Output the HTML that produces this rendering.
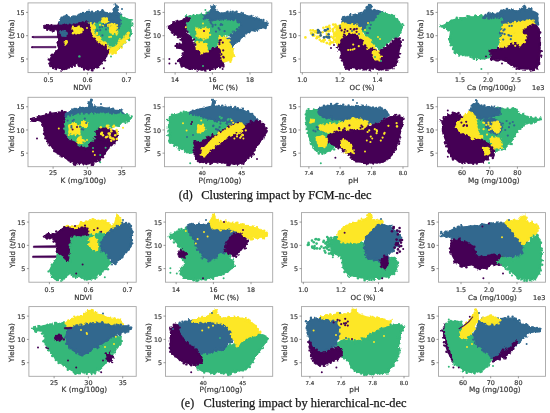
<!DOCTYPE html><html><head><meta charset="utf-8"><style>html,body{margin:0;padding:0;background:#fff;width:550px;height:413px;overflow:hidden}svg{display:block}</style><style>text{font-family:"DejaVu Sans","Liberation Sans",sans-serif;fill:#333;stroke:#444;stroke-width:0.2px}text.cap{font-family:"Liberation Serif",serif;font-size:11.9px;fill:#1a1a1a;stroke:#1a1a1a;stroke-width:0.25px}</style></head><body>
<svg width="550" height="413" viewBox="0 0 550 413">
<defs><filter id="rough" x="-60" y="-60" width="680" height="500" filterUnits="userSpaceOnUse"><feTurbulence type="fractalNoise" baseFrequency="0.035" numOctaves="2" seed="7" result="n"/><feDisplacementMap in="SourceGraphic" in2="n" scale="15" xChannelSelector="R" yChannelSelector="G"/></filter></defs>
<rect width="550" height="413" fill="#fff"/>
<clipPath id="cd00"><rect x="28" y="2.9" width="107.3" height="69.7"/></clipPath>
<g clip-path="url(#cd00)"><g transform="translate(27 0) scale(0.2)"><g>
<polygon points="168,127 168,100 182,82 200,77 218,91 236,86 255,82 275,68 311,64 348,64 375,55 402,68 430,73 439,32 448,27 452,64 466,82 470,91 480,120 470,140 430,135 402,140 366,130 311,118 275,105 230,125" fill="#31688e" stroke="#31688e" stroke-width="6" stroke-linejoin="round" filter="url(#rough)"/><g fill="#31688e" filter="url(#rough)"><circle cx="162" cy="123" r="6"/><circle cx="162" cy="116" r="6"/><circle cx="167" cy="100" r="6"/><circle cx="171" cy="95" r="6"/><circle cx="173" cy="89" r="6"/><circle cx="194" cy="83" r="6"/><circle cx="200" cy="73" r="6"/><circle cx="210" cy="86" r="6"/><circle cx="214" cy="86" r="6"/><circle cx="216" cy="95" r="6"/><circle cx="231" cy="82" r="6"/><circle cx="240" cy="82" r="6"/><circle cx="241" cy="89" r="6"/><circle cx="254" cy="79" r="6"/><circle cx="268" cy="76" r="6"/><circle cx="283" cy="74" r="6"/><circle cx="280" cy="65" r="6"/><circle cx="301" cy="60" r="6"/><circle cx="310" cy="58" r="6"/><circle cx="312" cy="62" r="6"/><circle cx="323" cy="69" r="6"/><circle cx="325" cy="59" r="6"/><circle cx="345" cy="61" r="6"/><circle cx="350" cy="67" r="6"/><circle cx="354" cy="56" r="6"/><circle cx="377" cy="51" r="6"/><circle cx="381" cy="57" r="6"/><circle cx="388" cy="68" r="6"/><circle cx="394" cy="65" r="6"/><circle cx="410" cy="73" r="6"/><circle cx="415" cy="67" r="6"/><circle cx="432" cy="69" r="6"/><circle cx="437" cy="58" r="6"/><circle cx="427" cy="67" r="6"/><circle cx="433" cy="49" r="6"/><circle cx="437" cy="41" r="6"/><circle cx="439" cy="23" r="6"/><circle cx="453" cy="35" r="6"/><circle cx="454" cy="36" r="6"/><circle cx="453" cy="50" r="6"/><circle cx="446" cy="53" r="6"/><circle cx="456" cy="66" r="6"/><circle cx="469" cy="78" r="6"/><circle cx="473" cy="91" r="6"/><circle cx="477" cy="95" r="6"/><circle cx="474" cy="108" r="6"/><circle cx="475" cy="111" r="6"/><circle cx="477" cy="131" r="6"/><circle cx="477" cy="141" r="6"/><circle cx="461" cy="135" r="6"/><circle cx="451" cy="144" r="6"/><circle cx="451" cy="130" r="6"/><circle cx="444" cy="137" r="6"/><circle cx="429" cy="134" r="6"/><circle cx="421" cy="138" r="6"/><circle cx="404" cy="138" r="6"/><circle cx="393" cy="139" r="6"/><circle cx="388" cy="133" r="6"/><circle cx="377" cy="134" r="6"/><circle cx="372" cy="128" r="6"/><circle cx="354" cy="131" r="6"/><circle cx="356" cy="134" r="6"/><circle cx="337" cy="124" r="6"/><circle cx="330" cy="124" r="6"/><circle cx="323" cy="116" r="6"/><circle cx="311" cy="124" r="6"/><circle cx="299" cy="123" r="6"/><circle cx="290" cy="108" r="6"/><circle cx="291" cy="112" r="6"/><circle cx="280" cy="109" r="6"/><circle cx="269" cy="109" r="6"/><circle cx="264" cy="109" r="6"/><circle cx="250" cy="107" r="6"/><circle cx="248" cy="114" r="6"/><circle cx="234" cy="128" r="6"/><circle cx="231" cy="126" r="6"/><circle cx="208" cy="120" r="6"/><circle cx="197" cy="131" r="6"/><circle cx="203" cy="127" r="6"/><circle cx="183" cy="120" r="6"/><circle cx="169" cy="132" r="6"/></g><polygon points="340,125 366,115 400,105 440,95 470,86 493,91 516,100 520,109 520,173 507,195 489,200 466,222 445,245 430,255 411,241 393,225 370,205 350,190 338,165" fill="#35b779" stroke="#35b779" stroke-width="6" stroke-linejoin="round" filter="url(#rough)"/><g fill="#35b779" filter="url(#rough)"><circle cx="343" cy="119" r="6"/><circle cx="350" cy="123" r="6"/><circle cx="366" cy="115" r="6"/><circle cx="363" cy="119" r="6"/><circle cx="383" cy="113" r="6"/><circle cx="393" cy="105" r="6"/><circle cx="413" cy="100" r="6"/><circle cx="424" cy="101" r="6"/><circle cx="432" cy="98" r="6"/><circle cx="437" cy="91" r="6"/><circle cx="449" cy="91" r="6"/><circle cx="461" cy="84" r="6"/><circle cx="471" cy="82" r="6"/><circle cx="480" cy="92" r="6"/><circle cx="486" cy="90" r="6"/><circle cx="498" cy="98" r="6"/><circle cx="501" cy="99" r="6"/><circle cx="526" cy="102" r="6"/><circle cx="513" cy="121" r="6"/><circle cx="526" cy="122" r="6"/><circle cx="515" cy="137" r="6"/><circle cx="526" cy="133" r="6"/><circle cx="514" cy="146" r="6"/><circle cx="518" cy="157" r="6"/><circle cx="523" cy="170" r="6"/><circle cx="509" cy="182" r="6"/><circle cx="510" cy="190" r="6"/><circle cx="511" cy="200" r="6"/><circle cx="490" cy="192" r="6"/><circle cx="491" cy="211" r="6"/><circle cx="481" cy="216" r="6"/><circle cx="475" cy="220" r="6"/><circle cx="466" cy="232" r="6"/><circle cx="451" cy="242" r="6"/><circle cx="454" cy="240" r="6"/><circle cx="443" cy="245" r="6"/><circle cx="433" cy="256" r="6"/><circle cx="418" cy="243" r="6"/><circle cx="417" cy="238" r="6"/><circle cx="414" cy="235" r="6"/><circle cx="395" cy="225" r="6"/><circle cx="392" cy="220" r="6"/><circle cx="377" cy="210" r="6"/><circle cx="368" cy="214" r="6"/><circle cx="372" cy="202" r="6"/><circle cx="351" cy="190" r="6"/><circle cx="348" cy="179" r="6"/><circle cx="341" cy="178" r="6"/><circle cx="345" cy="167" r="6"/><circle cx="333" cy="163" r="6"/><circle cx="338" cy="149" r="6"/><circle cx="338" cy="138" r="6"/><circle cx="333" cy="123" r="6"/></g><polygon points="395,80 440,75 462,90 465,130 440,140 410,135 392,110" fill="#31688e" stroke="#31688e" stroke-width="6" stroke-linejoin="round" filter="url(#rough)"/><g fill="#31688e" filter="url(#rough)"><circle cx="398" cy="83" r="6"/><circle cx="407" cy="72" r="6"/><circle cx="416" cy="77" r="6"/><circle cx="420" cy="75" r="6"/><circle cx="442" cy="81" r="6"/><circle cx="437" cy="76" r="6"/><circle cx="448" cy="84" r="6"/><circle cx="460" cy="83" r="6"/><circle cx="468" cy="101" r="6"/><circle cx="469" cy="118" r="6"/><circle cx="463" cy="118" r="6"/><circle cx="455" cy="138" r="6"/><circle cx="438" cy="134" r="6"/><circle cx="438" cy="134" r="6"/><circle cx="417" cy="135" r="6"/><circle cx="409" cy="136" r="6"/><circle cx="402" cy="125" r="6"/><circle cx="401" cy="123" r="6"/><circle cx="397" cy="124" r="6"/><circle cx="390" cy="106" r="6"/><circle cx="394" cy="91" r="6"/><circle cx="397" cy="89" r="6"/></g><circle cx="395" cy="147" r="5.5" fill="#31688e"/><circle cx="437" cy="131" r="5.5" fill="#31688e"/><circle cx="453" cy="133" r="5.5" fill="#31688e"/><circle cx="425" cy="113" r="5.5" fill="#31688e"/><circle cx="433" cy="100" r="5.5" fill="#31688e"/><circle cx="451" cy="112" r="5.5" fill="#31688e"/><circle cx="459" cy="141" r="5.5" fill="#31688e"/><circle cx="383" cy="120" r="5.5" fill="#31688e"/><circle cx="425" cy="104" r="5.5" fill="#31688e"/><circle cx="421" cy="136" r="5.5" fill="#31688e"/><circle cx="411" cy="131" r="5.5" fill="#31688e"/><circle cx="458" cy="113" r="5.5" fill="#31688e"/><circle cx="450" cy="111" r="5.5" fill="#31688e"/><circle cx="448" cy="152" r="5.5" fill="#31688e"/><circle cx="432" cy="150" r="5.5" fill="#31688e"/><circle cx="391" cy="131" r="5.5" fill="#31688e"/><polygon points="311,136 320,118 332,122 336,150 342,175 360,192 380,208 402,226 420,240 439,236 466,208 489,182 502,165 510,170 505,190 489,205 466,230 445,255 430,265 411,262 393,245 366,225 339,205 320,185 311,165" fill="#fde725" stroke="#fde725" stroke-width="4" stroke-linejoin="round" filter="url(#rough)"/><g fill="#fde725" filter="url(#rough)"><circle cx="320" cy="134" r="6"/><circle cx="319" cy="116" r="6"/><circle cx="335" cy="117" r="6"/><circle cx="336" cy="131" r="6"/><circle cx="339" cy="137" r="6"/><circle cx="338" cy="140" r="6"/><circle cx="331" cy="155" r="6"/><circle cx="337" cy="161" r="6"/><circle cx="350" cy="170" r="6"/><circle cx="361" cy="188" r="6"/><circle cx="366" cy="191" r="6"/><circle cx="373" cy="212" r="6"/><circle cx="389" cy="212" r="6"/><circle cx="392" cy="215" r="6"/><circle cx="395" cy="224" r="6"/><circle cx="397" cy="232" r="6"/><circle cx="417" cy="238" r="6"/><circle cx="421" cy="238" r="6"/><circle cx="436" cy="239" r="6"/><circle cx="445" cy="234" r="6"/><circle cx="456" cy="225" r="6"/><circle cx="460" cy="224" r="6"/><circle cx="458" cy="214" r="6"/><circle cx="462" cy="202" r="6"/><circle cx="469" cy="203" r="6"/><circle cx="488" cy="181" r="6"/><circle cx="499" cy="174" r="6"/><circle cx="505" cy="164" r="6"/><circle cx="509" cy="165" r="6"/><circle cx="504" cy="178" r="6"/><circle cx="508" cy="188" r="6"/><circle cx="498" cy="194" r="6"/><circle cx="491" cy="211" r="6"/><circle cx="481" cy="214" r="6"/><circle cx="467" cy="217" r="6"/><circle cx="474" cy="223" r="6"/><circle cx="468" cy="238" r="6"/><circle cx="449" cy="244" r="6"/><circle cx="443" cy="251" r="6"/><circle cx="444" cy="260" r="6"/><circle cx="438" cy="256" r="6"/><circle cx="426" cy="269" r="6"/><circle cx="412" cy="267" r="6"/><circle cx="411" cy="261" r="6"/><circle cx="390" cy="244" r="6"/><circle cx="392" cy="240" r="6"/><circle cx="381" cy="237" r="6"/><circle cx="363" cy="219" r="6"/><circle cx="359" cy="224" r="6"/><circle cx="355" cy="212" r="6"/><circle cx="343" cy="206" r="6"/><circle cx="335" cy="195" r="6"/><circle cx="328" cy="201" r="6"/><circle cx="318" cy="186" r="6"/><circle cx="314" cy="186" r="6"/><circle cx="314" cy="165" r="6"/><circle cx="318" cy="166" r="6"/><circle cx="317" cy="144" r="6"/><circle cx="314" cy="149" r="6"/></g><polygon points="375,91 402,92 402,109 378,112" fill="#fde725" stroke="#fde725" stroke-width="6" stroke-linejoin="round" filter="url(#rough)"/><g fill="#fde725" filter="url(#rough)"><circle cx="385" cy="92" r="6"/><circle cx="393" cy="99" r="6"/><circle cx="398" cy="92" r="6"/><circle cx="400" cy="106" r="6"/><circle cx="395" cy="111" r="6"/><circle cx="393" cy="108" r="6"/><circle cx="374" cy="108" r="6"/><circle cx="376" cy="105" r="6"/></g><polygon points="411,130 440,127 448,160 420,165" fill="#fde725" stroke="#fde725" stroke-width="6" stroke-linejoin="round" filter="url(#rough)"/><g fill="#fde725" filter="url(#rough)"><circle cx="411" cy="123" r="6"/><circle cx="427" cy="121" r="6"/><circle cx="433" cy="131" r="6"/><circle cx="436" cy="124" r="6"/><circle cx="442" cy="144" r="6"/><circle cx="451" cy="164" r="6"/><circle cx="435" cy="165" r="6"/><circle cx="436" cy="158" r="6"/><circle cx="429" cy="169" r="6"/><circle cx="417" cy="160" r="6"/><circle cx="415" cy="154" r="6"/><circle cx="417" cy="141" r="6"/><circle cx="412" cy="131" r="6"/></g><circle cx="450" cy="126" r="5.5" fill="#fde725"/><circle cx="365" cy="124" r="5.5" fill="#fde725"/><circle cx="417" cy="141" r="5.5" fill="#fde725"/><circle cx="443" cy="132" r="5.5" fill="#fde725"/><circle cx="451" cy="139" r="5.5" fill="#fde725"/><circle cx="411" cy="185" r="5.5" fill="#fde725"/><circle cx="420" cy="184" r="5.5" fill="#fde725"/><circle cx="423" cy="119" r="5.5" fill="#fde725"/><circle cx="442" cy="159" r="5.5" fill="#fde725"/><circle cx="379" cy="129" r="5.5" fill="#fde725"/><circle cx="438" cy="159" r="5.5" fill="#fde725"/><circle cx="448" cy="173" r="5.5" fill="#fde725"/><circle cx="451" cy="157" r="5.5" fill="#fde725"/><circle cx="422" cy="161" r="5.5" fill="#fde725"/><circle cx="377" cy="177" r="5.5" fill="#31688e"/><circle cx="376" cy="134" r="5.5" fill="#31688e"/><circle cx="366" cy="151" r="5.5" fill="#31688e"/><circle cx="364" cy="137" r="5.5" fill="#31688e"/><circle cx="352" cy="152" r="5.5" fill="#31688e"/><polygon points="86,126 300,124 300,142 86,142" fill="#440154" stroke="#440154" stroke-width="4" stroke-linejoin="round"/><polygon points="86,130 168,128 230,128 275,112 311,120 311,140 322,182 345,205 366,222 393,240 411,255 402,273 384,300 366,318 348,336 311,345 275,341 255,314 236,323 209,336 182,350 155,345 127,336 114,318 118,290 136,270 159,245 159,200 150,150 86,141" fill="#440154" stroke="#440154" stroke-width="6" stroke-linejoin="round" filter="url(#rough)"/><g fill="#440154" filter="url(#rough)"><circle cx="98" cy="131" r="6"/><circle cx="107" cy="134" r="6"/><circle cx="113" cy="131" r="6"/><circle cx="118" cy="126" r="6"/><circle cx="124" cy="128" r="6"/><circle cx="139" cy="134" r="6"/><circle cx="148" cy="131" r="6"/><circle cx="164" cy="130" r="6"/><circle cx="158" cy="122" r="6"/><circle cx="168" cy="135" r="6"/><circle cx="183" cy="123" r="6"/><circle cx="196" cy="125" r="6"/><circle cx="196" cy="133" r="6"/><circle cx="214" cy="124" r="6"/><circle cx="225" cy="130" r="6"/><circle cx="242" cy="125" r="6"/><circle cx="234" cy="122" r="6"/><circle cx="248" cy="123" r="6"/><circle cx="261" cy="116" r="6"/><circle cx="273" cy="112" r="6"/><circle cx="279" cy="115" r="6"/><circle cx="280" cy="116" r="6"/><circle cx="293" cy="110" r="6"/><circle cx="303" cy="117" r="6"/><circle cx="307" cy="126" r="6"/><circle cx="313" cy="138" r="6"/><circle cx="307" cy="149" r="6"/><circle cx="314" cy="150" r="6"/><circle cx="318" cy="167" r="6"/><circle cx="313" cy="176" r="6"/><circle cx="321" cy="187" r="6"/><circle cx="334" cy="195" r="6"/><circle cx="336" cy="200" r="6"/><circle cx="346" cy="212" r="6"/><circle cx="347" cy="211" r="6"/><circle cx="366" cy="215" r="6"/><circle cx="372" cy="226" r="6"/><circle cx="379" cy="233" r="6"/><circle cx="393" cy="231" r="6"/><circle cx="393" cy="237" r="6"/><circle cx="411" cy="248" r="6"/><circle cx="405" cy="253" r="6"/><circle cx="409" cy="259" r="6"/><circle cx="395" cy="281" r="6"/><circle cx="389" cy="279" r="6"/><circle cx="390" cy="302" r="6"/><circle cx="373" cy="304" r="6"/><circle cx="367" cy="307" r="6"/><circle cx="356" cy="321" r="6"/><circle cx="346" cy="333" r="6"/><circle cx="351" cy="337" r="6"/><circle cx="327" cy="347" r="6"/><circle cx="325" cy="344" r="6"/><circle cx="307" cy="348" r="6"/><circle cx="301" cy="338" r="6"/><circle cx="302" cy="345" r="6"/><circle cx="285" cy="347" r="6"/><circle cx="286" cy="340" r="6"/><circle cx="274" cy="329" r="6"/><circle cx="261" cy="330" r="6"/><circle cx="257" cy="324" r="6"/><circle cx="247" cy="314" r="6"/><circle cx="238" cy="324" r="6"/><circle cx="231" cy="323" r="6"/><circle cx="225" cy="334" r="6"/><circle cx="210" cy="338" r="6"/><circle cx="198" cy="343" r="6"/><circle cx="188" cy="343" r="6"/><circle cx="195" cy="343" r="6"/><circle cx="176" cy="353" r="6"/><circle cx="174" cy="342" r="6"/><circle cx="160" cy="340" r="6"/><circle cx="155" cy="339" r="6"/><circle cx="146" cy="345" r="6"/><circle cx="127" cy="331" r="6"/><circle cx="130" cy="328" r="6"/><circle cx="117" cy="325" r="6"/><circle cx="112" cy="318" r="6"/><circle cx="109" cy="297" r="6"/><circle cx="114" cy="300" r="6"/><circle cx="122" cy="277" r="6"/><circle cx="126" cy="273" r="6"/><circle cx="142" cy="265" r="6"/><circle cx="146" cy="256" r="6"/><circle cx="156" cy="254" r="6"/><circle cx="158" cy="232" r="6"/><circle cx="164" cy="233" r="6"/><circle cx="155" cy="217" r="6"/><circle cx="162" cy="216" r="6"/><circle cx="161" cy="198" r="6"/><circle cx="164" cy="189" r="6"/><circle cx="154" cy="183" r="6"/><circle cx="159" cy="180" r="6"/><circle cx="156" cy="170" r="6"/><circle cx="153" cy="155" r="6"/><circle cx="153" cy="145" r="6"/><circle cx="132" cy="152" r="6"/><circle cx="133" cy="154" r="6"/><circle cx="117" cy="150" r="6"/><circle cx="101" cy="149" r="6"/><circle cx="109" cy="143" r="6"/><circle cx="89" cy="137" r="6"/><circle cx="88" cy="132" r="6"/></g><polygon points="30,182 164,181 164,189 30,189" fill="#440154" stroke="#440154" stroke-width="3" stroke-linejoin="round"/><polygon points="26,233 145,232 145,239 26,239" fill="#440154" stroke="#440154" stroke-width="3" stroke-linejoin="round"/><polygon points="168,159 195,160 195,182 175,180" fill="#31688e" stroke="#31688e" stroke-width="6" stroke-linejoin="round" filter="url(#rough)"/><g fill="#31688e" filter="url(#rough)"><circle cx="179" cy="157" r="6"/><circle cx="189" cy="153" r="6"/><circle cx="197" cy="165" r="6"/><circle cx="190" cy="164" r="6"/><circle cx="199" cy="169" r="6"/><circle cx="188" cy="175" r="6"/><circle cx="178" cy="177" r="6"/><circle cx="179" cy="171" r="6"/><circle cx="167" cy="163" r="6"/></g><polygon points="227,140 262,136 275,150 270,164 232,164" fill="#fde725" stroke="#fde725" stroke-width="6" stroke-linejoin="round" filter="url(#rough)"/><g fill="#fde725" filter="url(#rough)"><circle cx="229" cy="134" r="6"/><circle cx="251" cy="143" r="6"/><circle cx="261" cy="141" r="6"/><circle cx="258" cy="133" r="6"/><circle cx="275" cy="142" r="6"/><circle cx="272" cy="160" r="6"/><circle cx="260" cy="165" r="6"/><circle cx="246" cy="167" r="6"/><circle cx="251" cy="163" r="6"/><circle cx="233" cy="161" r="6"/><circle cx="230" cy="166" r="6"/><circle cx="228" cy="145" r="6"/></g><polygon points="188,210 196,210 196,220 188,220" fill="#fde725" stroke="#fde725" stroke-width="6" stroke-linejoin="round" filter="url(#rough)"/><g fill="#fde725" filter="url(#rough)"><circle cx="198" cy="206" r="6"/><circle cx="195" cy="206" r="6"/><circle cx="196" cy="216" r="6"/><circle cx="188" cy="212" r="6"/></g><circle cx="262" cy="282" r="6" fill="#35b779"/><circle cx="375" cy="318" r="5" fill="#440154"/><circle cx="384" cy="341" r="5" fill="#440154"/><circle cx="300" cy="345" r="5" fill="#440154"/><circle cx="240" cy="330" r="5" fill="#440154"/><circle cx="25" cy="236" r="5" fill="#440154"/><circle cx="28" cy="185" r="5" fill="#440154"/><circle cx="420" cy="282" r="5" fill="#35b779"/><circle cx="448" cy="27" r="5" fill="#31688e"/><circle cx="475" cy="45" r="5" fill="#31688e"/><circle cx="280" cy="150" r="5" fill="#fde725"/><circle cx="300" cy="140" r="5" fill="#fde725"/>
</g></g></g>
<rect x="28" y="2.9" width="107.3" height="69.7" fill="none" stroke="#a6a6a6" stroke-width="0.9"/>
<line x1="26" y1="59" x2="28" y2="59" stroke="#707070" stroke-width="0.7"/>
<text x="24.4" y="59.2" font-size="6.3" text-anchor="end" dominant-baseline="central">5</text>
<line x1="26" y1="35.7" x2="28" y2="35.7" stroke="#707070" stroke-width="0.7"/>
<text x="24.4" y="35.9" font-size="6.3" text-anchor="end" dominant-baseline="central">10</text>
<line x1="26" y1="12.4" x2="28" y2="12.4" stroke="#707070" stroke-width="0.7"/>
<text x="24.4" y="12.6" font-size="6.3" text-anchor="end" dominant-baseline="central">15</text>
<text x="11.1" y="38.85" font-size="7.1" text-anchor="middle" dominant-baseline="central" transform="rotate(-90 11.1 38.85)">Yield (t/ha)</text>
<line x1="48.4" y1="72.6" x2="48.4" y2="74.6" stroke="#707070" stroke-width="0.7"/>
<text x="48.4" y="79.8" font-size="6.3" text-anchor="middle" dominant-baseline="central">0.5</text>
<line x1="87.4" y1="72.6" x2="87.4" y2="74.6" stroke="#707070" stroke-width="0.7"/>
<text x="87.4" y="79.8" font-size="6.3" text-anchor="middle" dominant-baseline="central">0.6</text>
<line x1="126.4" y1="72.6" x2="126.4" y2="74.6" stroke="#707070" stroke-width="0.7"/>
<text x="126.4" y="79.8" font-size="6.3" text-anchor="middle" dominant-baseline="central">0.7</text>
<text x="82" y="87.9" font-size="7.1" text-anchor="middle" dominant-baseline="central">NDVI</text>
<clipPath id="cd01"><rect x="164.5" y="2.9" width="107.3" height="69.7"/></clipPath>
<g clip-path="url(#cd01)"><g transform="translate(163 0) scale(0.2)"><g>
<polygon points="118,86 136,82 164,77 191,73 218,68 245,60 275,80 320,89 366,98 393,116 384,145 348,164 311,173 284,182 275,227 236,245 200,255 173,227 159,200 140,175 125,150 112,110" fill="#35b779" stroke="#35b779" stroke-width="6" stroke-linejoin="round" filter="url(#rough)"/><g fill="#35b779" filter="url(#rough)"><circle cx="115" cy="81" r="6"/><circle cx="135" cy="82" r="6"/><circle cx="136" cy="81" r="6"/><circle cx="152" cy="78" r="6"/><circle cx="155" cy="74" r="6"/><circle cx="169" cy="76" r="6"/><circle cx="178" cy="80" r="6"/><circle cx="189" cy="74" r="6"/><circle cx="196" cy="67" r="6"/><circle cx="205" cy="75" r="6"/><circle cx="212" cy="71" r="6"/><circle cx="218" cy="64" r="6"/><circle cx="229" cy="70" r="6"/><circle cx="234" cy="57" r="6"/><circle cx="241" cy="56" r="6"/><circle cx="254" cy="63" r="6"/><circle cx="267" cy="64" r="6"/><circle cx="265" cy="73" r="6"/><circle cx="273" cy="80" r="6"/><circle cx="285" cy="80" r="6"/><circle cx="295" cy="88" r="6"/><circle cx="310" cy="89" r="6"/><circle cx="311" cy="83" r="6"/><circle cx="315" cy="96" r="6"/><circle cx="333" cy="92" r="6"/><circle cx="342" cy="91" r="6"/><circle cx="350" cy="90" r="6"/><circle cx="366" cy="101" r="6"/><circle cx="366" cy="96" r="6"/><circle cx="380" cy="116" r="6"/><circle cx="384" cy="118" r="6"/><circle cx="387" cy="120" r="6"/><circle cx="390" cy="127" r="6"/><circle cx="391" cy="139" r="6"/><circle cx="383" cy="140" r="6"/><circle cx="370" cy="151" r="6"/><circle cx="365" cy="162" r="6"/><circle cx="352" cy="163" r="6"/><circle cx="346" cy="162" r="6"/><circle cx="328" cy="163" r="6"/><circle cx="328" cy="173" r="6"/><circle cx="323" cy="176" r="6"/><circle cx="304" cy="176" r="6"/><circle cx="296" cy="180" r="6"/><circle cx="283" cy="177" r="6"/><circle cx="285" cy="195" r="6"/><circle cx="281" cy="199" r="6"/><circle cx="280" cy="207" r="6"/><circle cx="270" cy="212" r="6"/><circle cx="273" cy="215" r="6"/><circle cx="267" cy="237" r="6"/><circle cx="253" cy="242" r="6"/><circle cx="251" cy="234" r="6"/><circle cx="237" cy="249" r="6"/><circle cx="234" cy="250" r="6"/><circle cx="225" cy="253" r="6"/><circle cx="214" cy="253" r="6"/><circle cx="211" cy="247" r="6"/><circle cx="199" cy="258" r="6"/><circle cx="188" cy="245" r="6"/><circle cx="179" cy="245" r="6"/><circle cx="171" cy="223" r="6"/><circle cx="169" cy="223" r="6"/><circle cx="166" cy="216" r="6"/><circle cx="156" cy="199" r="6"/><circle cx="154" cy="199" r="6"/><circle cx="150" cy="185" r="6"/><circle cx="138" cy="175" r="6"/><circle cx="141" cy="165" r="6"/><circle cx="129" cy="153" r="6"/><circle cx="120" cy="152" r="6"/><circle cx="123" cy="139" r="6"/><circle cx="123" cy="140" r="6"/><circle cx="118" cy="125" r="6"/><circle cx="115" cy="110" r="6"/><circle cx="113" cy="109" r="6"/><circle cx="113" cy="96" r="6"/></g><polygon points="205,78 235,66 246,34 255,30 262,58 280,66 320,64 366,66 411,75 457,89 493,103 525,121 510,135 493,141 457,150 420,164 393,182 366,209 348,227 339,255 330,255 322,215 340,180 384,145 393,116 366,100 320,95 275,95 240,100 209,92" fill="#31688e" stroke="#31688e" stroke-width="6" stroke-linejoin="round" filter="url(#rough)"/><g fill="#31688e" filter="url(#rough)"><circle cx="203" cy="73" r="6"/><circle cx="212" cy="79" r="6"/><circle cx="226" cy="63" r="6"/><circle cx="235" cy="67" r="6"/><circle cx="246" cy="57" r="6"/><circle cx="242" cy="35" r="6"/><circle cx="257" cy="32" r="6"/><circle cx="257" cy="32" r="6"/><circle cx="261" cy="48" r="6"/><circle cx="268" cy="62" r="6"/><circle cx="270" cy="58" r="6"/><circle cx="274" cy="60" r="6"/><circle cx="295" cy="69" r="6"/><circle cx="298" cy="70" r="6"/><circle cx="306" cy="70" r="6"/><circle cx="318" cy="62" r="6"/><circle cx="323" cy="59" r="6"/><circle cx="338" cy="60" r="6"/><circle cx="349" cy="59" r="6"/><circle cx="360" cy="62" r="6"/><circle cx="368" cy="59" r="6"/><circle cx="375" cy="71" r="6"/><circle cx="384" cy="72" r="6"/><circle cx="393" cy="65" r="6"/><circle cx="400" cy="75" r="6"/><circle cx="400" cy="71" r="6"/><circle cx="410" cy="77" r="6"/><circle cx="434" cy="83" r="6"/><circle cx="435" cy="89" r="6"/><circle cx="442" cy="80" r="6"/><circle cx="458" cy="93" r="6"/><circle cx="458" cy="96" r="6"/><circle cx="473" cy="94" r="6"/><circle cx="479" cy="95" r="6"/><circle cx="490" cy="100" r="6"/><circle cx="502" cy="100" r="6"/><circle cx="501" cy="116" r="6"/><circle cx="517" cy="113" r="6"/><circle cx="522" cy="122" r="6"/><circle cx="521" cy="133" r="6"/><circle cx="513" cy="140" r="6"/><circle cx="510" cy="137" r="6"/><circle cx="505" cy="136" r="6"/><circle cx="485" cy="138" r="6"/><circle cx="473" cy="151" r="6"/><circle cx="475" cy="153" r="6"/><circle cx="458" cy="147" r="6"/><circle cx="457" cy="152" r="6"/><circle cx="439" cy="158" r="6"/><circle cx="433" cy="161" r="6"/><circle cx="421" cy="156" r="6"/><circle cx="419" cy="163" r="6"/><circle cx="406" cy="180" r="6"/><circle cx="398" cy="177" r="6"/><circle cx="389" cy="189" r="6"/><circle cx="383" cy="198" r="6"/><circle cx="380" cy="205" r="6"/><circle cx="368" cy="209" r="6"/><circle cx="356" cy="214" r="6"/><circle cx="342" cy="230" r="6"/><circle cx="341" cy="239" r="6"/><circle cx="344" cy="245" r="6"/><circle cx="346" cy="249" r="6"/><circle cx="339" cy="258" r="6"/><circle cx="326" cy="250" r="6"/><circle cx="326" cy="247" r="6"/><circle cx="330" cy="233" r="6"/><circle cx="320" cy="212" r="6"/><circle cx="331" cy="217" r="6"/><circle cx="327" cy="194" r="6"/><circle cx="330" cy="197" r="6"/><circle cx="337" cy="178" r="6"/><circle cx="340" cy="172" r="6"/><circle cx="358" cy="174" r="6"/><circle cx="355" cy="158" r="6"/><circle cx="369" cy="167" r="6"/><circle cx="370" cy="146" r="6"/><circle cx="377" cy="150" r="6"/><circle cx="381" cy="137" r="6"/><circle cx="395" cy="124" r="6"/><circle cx="388" cy="111" r="6"/><circle cx="380" cy="107" r="6"/><circle cx="377" cy="111" r="6"/><circle cx="373" cy="109" r="6"/><circle cx="354" cy="95" r="6"/><circle cx="352" cy="100" r="6"/><circle cx="348" cy="91" r="6"/><circle cx="333" cy="99" r="6"/><circle cx="321" cy="96" r="6"/><circle cx="313" cy="90" r="6"/><circle cx="301" cy="94" r="6"/><circle cx="298" cy="100" r="6"/><circle cx="296" cy="92" r="6"/><circle cx="278" cy="99" r="6"/><circle cx="264" cy="96" r="6"/><circle cx="256" cy="99" r="6"/><circle cx="247" cy="101" r="6"/><circle cx="238" cy="100" r="6"/><circle cx="231" cy="93" r="6"/><circle cx="207" cy="95" r="6"/><circle cx="204" cy="93" r="6"/></g><circle cx="265" cy="158" r="5.5" fill="#31688e"/><circle cx="242" cy="118" r="5.5" fill="#31688e"/><circle cx="290" cy="120" r="5.5" fill="#31688e"/><circle cx="278" cy="141" r="5.5" fill="#31688e"/><circle cx="238" cy="111" r="5.5" fill="#31688e"/><circle cx="248" cy="133" r="5.5" fill="#31688e"/><circle cx="249" cy="125" r="5.5" fill="#31688e"/><circle cx="283" cy="148" r="5.5" fill="#31688e"/><circle cx="262" cy="124" r="5.5" fill="#31688e"/><circle cx="308" cy="156" r="5.5" fill="#31688e"/><circle cx="296" cy="124" r="5.5" fill="#31688e"/><circle cx="288" cy="125" r="5.5" fill="#31688e"/><polygon points="27,127 45,118 73,109 100,100 118,86 136,91 112,110 109,127 118,164 136,182 150,209 164,236 182,255 209,264 236,255 262,240 275,236 289,250 302,275 302,327 275,336 227,345 182,350 136,345 91,327 82,300 91,291 100,273 109,255 91,241 68,241 68,227 91,222 100,218 91,191 64,173 36,150 27,136" fill="#440154" stroke="#440154" stroke-width="6" stroke-linejoin="round" filter="url(#rough)"/><g fill="#440154" filter="url(#rough)"><circle cx="39" cy="126" r="6"/><circle cx="47" cy="122" r="6"/><circle cx="44" cy="121" r="6"/><circle cx="51" cy="111" r="6"/><circle cx="64" cy="109" r="6"/><circle cx="72" cy="105" r="6"/><circle cx="84" cy="110" r="6"/><circle cx="100" cy="105" r="6"/><circle cx="104" cy="97" r="6"/><circle cx="119" cy="90" r="6"/><circle cx="118" cy="90" r="6"/><circle cx="131" cy="92" r="6"/><circle cx="126" cy="99" r="6"/><circle cx="124" cy="100" r="6"/><circle cx="113" cy="104" r="6"/><circle cx="110" cy="112" r="6"/><circle cx="105" cy="126" r="6"/><circle cx="106" cy="144" r="6"/><circle cx="114" cy="143" r="6"/><circle cx="122" cy="154" r="6"/><circle cx="123" cy="168" r="6"/><circle cx="132" cy="182" r="6"/><circle cx="132" cy="185" r="6"/><circle cx="141" cy="204" r="6"/><circle cx="155" cy="202" r="6"/><circle cx="147" cy="214" r="6"/><circle cx="159" cy="223" r="6"/><circle cx="161" cy="222" r="6"/><circle cx="173" cy="243" r="6"/><circle cx="175" cy="258" r="6"/><circle cx="185" cy="259" r="6"/><circle cx="194" cy="257" r="6"/><circle cx="201" cy="259" r="6"/><circle cx="208" cy="268" r="6"/><circle cx="229" cy="260" r="6"/><circle cx="235" cy="255" r="6"/><circle cx="244" cy="254" r="6"/><circle cx="248" cy="244" r="6"/><circle cx="248" cy="247" r="6"/><circle cx="274" cy="235" r="6"/><circle cx="277" cy="239" r="6"/><circle cx="280" cy="243" r="6"/><circle cx="292" cy="263" r="6"/><circle cx="290" cy="268" r="6"/><circle cx="307" cy="274" r="6"/><circle cx="299" cy="272" r="6"/><circle cx="308" cy="281" r="6"/><circle cx="304" cy="306" r="6"/><circle cx="297" cy="314" r="6"/><circle cx="302" cy="325" r="6"/><circle cx="302" cy="333" r="6"/><circle cx="289" cy="328" r="6"/><circle cx="285" cy="336" r="6"/><circle cx="267" cy="336" r="6"/><circle cx="263" cy="344" r="6"/><circle cx="248" cy="338" r="6"/><circle cx="235" cy="345" r="6"/><circle cx="230" cy="340" r="6"/><circle cx="223" cy="340" r="6"/><circle cx="211" cy="353" r="6"/><circle cx="210" cy="349" r="6"/><circle cx="199" cy="348" r="6"/><circle cx="193" cy="348" r="6"/><circle cx="177" cy="353" r="6"/><circle cx="164" cy="348" r="6"/><circle cx="160" cy="349" r="6"/><circle cx="150" cy="342" r="6"/><circle cx="142" cy="340" r="6"/><circle cx="130" cy="343" r="6"/><circle cx="126" cy="339" r="6"/><circle cx="117" cy="337" r="6"/><circle cx="100" cy="328" r="6"/><circle cx="94" cy="333" r="6"/><circle cx="92" cy="325" r="6"/><circle cx="88" cy="315" r="6"/><circle cx="80" cy="305" r="6"/><circle cx="90" cy="298" r="6"/><circle cx="98" cy="278" r="6"/><circle cx="99" cy="280" r="6"/><circle cx="99" cy="267" r="6"/><circle cx="109" cy="264" r="6"/><circle cx="108" cy="253" r="6"/><circle cx="99" cy="246" r="6"/><circle cx="86" cy="240" r="6"/><circle cx="79" cy="237" r="6"/><circle cx="63" cy="230" r="6"/><circle cx="71" cy="221" r="6"/><circle cx="83" cy="219" r="6"/><circle cx="89" cy="228" r="6"/><circle cx="103" cy="210" r="6"/><circle cx="99" cy="203" r="6"/><circle cx="88" cy="198" r="6"/><circle cx="95" cy="193" r="6"/><circle cx="75" cy="186" r="6"/><circle cx="61" cy="168" r="6"/><circle cx="57" cy="174" r="6"/><circle cx="47" cy="164" r="6"/><circle cx="43" cy="158" r="6"/><circle cx="34" cy="154" r="6"/><circle cx="30" cy="144" r="6"/><circle cx="33" cy="136" r="6"/></g><polygon points="284,191 311,186 330,209 348,245 352,273 339,300 311,309 293,291 293,255 289,218" fill="#fde725" stroke="#fde725" stroke-width="6" stroke-linejoin="round" filter="url(#rough)"/><g fill="#fde725" filter="url(#rough)"><circle cx="285" cy="184" r="6"/><circle cx="303" cy="190" r="6"/><circle cx="306" cy="183" r="6"/><circle cx="317" cy="186" r="6"/><circle cx="326" cy="203" r="6"/><circle cx="331" cy="201" r="6"/><circle cx="335" cy="208" r="6"/><circle cx="332" cy="223" r="6"/><circle cx="340" cy="232" r="6"/><circle cx="350" cy="241" r="6"/><circle cx="345" cy="254" r="6"/><circle cx="344" cy="254" r="6"/><circle cx="345" cy="262" r="6"/><circle cx="352" cy="285" r="6"/><circle cx="339" cy="286" r="6"/><circle cx="341" cy="299" r="6"/><circle cx="337" cy="309" r="6"/><circle cx="326" cy="298" r="6"/><circle cx="311" cy="302" r="6"/><circle cx="304" cy="306" r="6"/><circle cx="300" cy="300" r="6"/><circle cx="291" cy="292" r="6"/><circle cx="293" cy="283" r="6"/><circle cx="288" cy="273" r="6"/><circle cx="296" cy="257" r="6"/><circle cx="294" cy="248" r="6"/><circle cx="286" cy="238" r="6"/><circle cx="285" cy="227" r="6"/><circle cx="286" cy="224" r="6"/><circle cx="284" cy="219" r="6"/><circle cx="285" cy="206" r="6"/><circle cx="282" cy="194" r="6"/></g><circle cx="282" cy="221" r="5.5" fill="#440154"/><circle cx="288" cy="290" r="5.5" fill="#440154"/><circle cx="292" cy="272" r="5.5" fill="#440154"/><circle cx="301" cy="252" r="5.5" fill="#440154"/><circle cx="304" cy="288" r="5.5" fill="#440154"/><circle cx="289" cy="200" r="5.5" fill="#440154"/><circle cx="299" cy="213" r="5.5" fill="#440154"/><circle cx="301" cy="284" r="5.5" fill="#440154"/><circle cx="282" cy="212" r="5.5" fill="#440154"/><circle cx="284" cy="202" r="5.5" fill="#440154"/><polygon points="168,148 200,142 227,150 227,182 200,190 172,180" fill="#fde725" stroke="#fde725" stroke-width="6" stroke-linejoin="round" filter="url(#rough)"/><g fill="#fde725" filter="url(#rough)"><circle cx="166" cy="154" r="6"/><circle cx="187" cy="149" r="6"/><circle cx="193" cy="145" r="6"/><circle cx="206" cy="145" r="6"/><circle cx="215" cy="139" r="6"/><circle cx="222" cy="147" r="6"/><circle cx="229" cy="150" r="6"/><circle cx="221" cy="165" r="6"/><circle cx="228" cy="175" r="6"/><circle cx="224" cy="188" r="6"/><circle cx="211" cy="182" r="6"/><circle cx="195" cy="185" r="6"/><circle cx="196" cy="187" r="6"/><circle cx="187" cy="183" r="6"/><circle cx="178" cy="187" r="6"/><circle cx="168" cy="179" r="6"/><circle cx="171" cy="158" r="6"/><circle cx="168" cy="143" r="6"/></g><polygon points="170,212 200,212 220,235 220,258 195,262 172,240" fill="#fde725" stroke="#fde725" stroke-width="6" stroke-linejoin="round" filter="url(#rough)"/><g fill="#fde725" filter="url(#rough)"><circle cx="172" cy="210" r="6"/><circle cx="188" cy="214" r="6"/><circle cx="193" cy="212" r="6"/><circle cx="206" cy="219" r="6"/><circle cx="212" cy="220" r="6"/><circle cx="215" cy="230" r="6"/><circle cx="218" cy="242" r="6"/><circle cx="224" cy="257" r="6"/><circle cx="208" cy="256" r="6"/><circle cx="198" cy="265" r="6"/><circle cx="192" cy="265" r="6"/><circle cx="190" cy="252" r="6"/><circle cx="174" cy="245" r="6"/><circle cx="173" cy="232" r="6"/><circle cx="178" cy="228" r="6"/><circle cx="169" cy="212" r="6"/></g><circle cx="208" cy="174" r="5.5" fill="#fde725"/><circle cx="226" cy="149" r="5.5" fill="#fde725"/><circle cx="214" cy="192" r="5.5" fill="#fde725"/><circle cx="214" cy="173" r="5.5" fill="#fde725"/><circle cx="203" cy="198" r="5.5" fill="#fde725"/><circle cx="205" cy="161" r="5.5" fill="#fde725"/><circle cx="236" cy="174" r="5.5" fill="#fde725"/><circle cx="188" cy="152" r="5.5" fill="#fde725"/><circle cx="32" cy="295" r="5" fill="#440154"/><circle cx="32" cy="318" r="5" fill="#440154"/><circle cx="64" cy="318" r="5" fill="#440154"/><circle cx="298" cy="345" r="5" fill="#440154"/><circle cx="205" cy="155" r="5" fill="#440154"/><circle cx="114" cy="136" r="5" fill="#fde725"/><circle cx="200" cy="118" r="5" fill="#fde725"/><circle cx="200" cy="330" r="5" fill="#35b779"/><circle cx="128" cy="82" r="5" fill="#35b779"/><circle cx="212" cy="50" r="5" fill="#35b779"/><circle cx="250" cy="32" r="5" fill="#31688e"/><circle cx="240" cy="50" r="5" fill="#31688e"/>
</g></g></g>
<rect x="164.5" y="2.9" width="107.3" height="69.7" fill="none" stroke="#a6a6a6" stroke-width="0.9"/>
<line x1="162.5" y1="59" x2="164.5" y2="59" stroke="#707070" stroke-width="0.7"/>
<text x="160.9" y="59.2" font-size="6.3" text-anchor="end" dominant-baseline="central">5</text>
<line x1="162.5" y1="35.7" x2="164.5" y2="35.7" stroke="#707070" stroke-width="0.7"/>
<text x="160.9" y="35.9" font-size="6.3" text-anchor="end" dominant-baseline="central">10</text>
<line x1="162.5" y1="12.4" x2="164.5" y2="12.4" stroke="#707070" stroke-width="0.7"/>
<text x="160.9" y="12.6" font-size="6.3" text-anchor="end" dominant-baseline="central">15</text>
<text x="147.6" y="38.85" font-size="7.1" text-anchor="middle" dominant-baseline="central" transform="rotate(-90 147.6 38.85)">Yield (t/ha)</text>
<line x1="175.1" y1="72.6" x2="175.1" y2="74.6" stroke="#707070" stroke-width="0.7"/>
<text x="175.1" y="79.8" font-size="6.3" text-anchor="middle" dominant-baseline="central">14</text>
<line x1="212.4" y1="72.6" x2="212.4" y2="74.6" stroke="#707070" stroke-width="0.7"/>
<text x="212.4" y="79.8" font-size="6.3" text-anchor="middle" dominant-baseline="central">16</text>
<line x1="250" y1="72.6" x2="250" y2="74.6" stroke="#707070" stroke-width="0.7"/>
<text x="250" y="79.8" font-size="6.3" text-anchor="middle" dominant-baseline="central">18</text>
<text x="225.2" y="87.9" font-size="7.1" text-anchor="middle" dominant-baseline="central">MC (%)</text>
<clipPath id="cd02"><rect x="300.4" y="2.9" width="107.5" height="69.7"/></clipPath>
<g clip-path="url(#cd02)"><g transform="translate(299 0) scale(0.2)"><g>
<circle cx="70" cy="179" r="6.5" fill="#fde725"/><circle cx="93" cy="186" r="6.5" fill="#fde725"/><circle cx="204" cy="171" r="6.5" fill="#fde725"/><circle cx="176" cy="171" r="6.5" fill="#fde725"/><circle cx="141" cy="135" r="6.5" fill="#fde725"/><circle cx="140" cy="215" r="6.5" fill="#fde725"/><circle cx="121" cy="201" r="6.5" fill="#fde725"/><circle cx="162" cy="184" r="6.5" fill="#fde725"/><circle cx="181" cy="171" r="6.5" fill="#fde725"/><circle cx="155" cy="216" r="6.5" fill="#fde725"/><circle cx="154" cy="221" r="6.5" fill="#fde725"/><circle cx="184" cy="129" r="6.5" fill="#fde725"/><circle cx="199" cy="167" r="6.5" fill="#fde725"/><circle cx="139" cy="152" r="6.5" fill="#fde725"/><circle cx="118" cy="161" r="6.5" fill="#fde725"/><circle cx="90" cy="184" r="6.5" fill="#fde725"/><circle cx="147" cy="136" r="6.5" fill="#fde725"/><circle cx="188" cy="182" r="6.5" fill="#fde725"/><circle cx="154" cy="142" r="6.5" fill="#fde725"/><circle cx="175" cy="182" r="6.5" fill="#fde725"/><circle cx="182" cy="123" r="6.5" fill="#fde725"/><circle cx="155" cy="155" r="6.5" fill="#fde725"/><circle cx="63" cy="164" r="6.5" fill="#fde725"/><circle cx="136" cy="135" r="6.5" fill="#fde725"/><circle cx="187" cy="160" r="6.5" fill="#fde725"/><circle cx="109" cy="176" r="6.5" fill="#fde725"/><circle cx="142" cy="185" r="6.5" fill="#fde725"/><circle cx="127" cy="187" r="6.5" fill="#fde725"/><circle cx="194" cy="175" r="6.5" fill="#fde725"/><circle cx="104" cy="199" r="6.5" fill="#fde725"/><circle cx="70" cy="152" r="6.5" fill="#fde725"/><circle cx="201" cy="176" r="6.5" fill="#fde725"/><circle cx="101" cy="183" r="6.5" fill="#fde725"/><circle cx="32" cy="187" r="6.5" fill="#fde725"/><circle cx="139" cy="170" r="6.5" fill="#fde725"/><circle cx="148" cy="157" r="6.5" fill="#fde725"/><circle cx="153" cy="201" r="6.5" fill="#fde725"/><circle cx="72" cy="169" r="6.5" fill="#fde725"/><circle cx="133" cy="154" r="6.5" fill="#fde725"/><circle cx="92" cy="153" r="6.5" fill="#fde725"/><circle cx="93" cy="185" r="6.5" fill="#fde725"/><circle cx="81" cy="160" r="6.5" fill="#fde725"/><circle cx="129" cy="200" r="6.5" fill="#fde725"/><circle cx="170" cy="145" r="6.5" fill="#fde725"/><circle cx="61" cy="167" r="6.5" fill="#fde725"/><circle cx="152" cy="129" r="6.5" fill="#fde725"/><circle cx="85" cy="155" r="6.5" fill="#fde725"/><circle cx="176" cy="167" r="6.5" fill="#fde725"/><circle cx="179" cy="137" r="6.5" fill="#fde725"/><circle cx="88" cy="191" r="6.5" fill="#fde725"/><circle cx="185" cy="169" r="6.5" fill="#fde725"/><circle cx="122" cy="139" r="6.5" fill="#fde725"/><circle cx="171" cy="212" r="6.5" fill="#fde725"/><circle cx="171" cy="190" r="6.5" fill="#fde725"/><circle cx="171" cy="157" r="6.5" fill="#fde725"/><circle cx="169" cy="148" r="6.5" fill="#fde725"/><circle cx="89" cy="165" r="6.5" fill="#fde725"/><circle cx="102" cy="164" r="6.5" fill="#fde725"/><circle cx="191" cy="135" r="6.5" fill="#fde725"/><circle cx="192" cy="143" r="6.5" fill="#fde725"/><circle cx="160" cy="212" r="6.5" fill="#fde725"/><circle cx="145" cy="176" r="6.5" fill="#fde725"/><circle cx="79" cy="156" r="6.5" fill="#fde725"/><circle cx="132" cy="150" r="6.5" fill="#fde725"/><circle cx="171" cy="123" r="6.5" fill="#fde725"/><circle cx="188" cy="196" r="6.5" fill="#fde725"/><circle cx="187" cy="183" r="6.5" fill="#fde725"/><circle cx="58" cy="152" r="6.5" fill="#fde725"/><circle cx="145" cy="177" r="6.5" fill="#fde725"/><circle cx="136" cy="156" r="6.5" fill="#fde725"/><circle cx="112" cy="206" r="6.5" fill="#fde725"/><circle cx="123" cy="209" r="6.5" fill="#fde725"/><circle cx="191" cy="208" r="6.5" fill="#fde725"/><circle cx="139" cy="215" r="6.5" fill="#fde725"/><circle cx="76" cy="177" r="6.5" fill="#fde725"/><circle cx="149" cy="184" r="6.5" fill="#31688e"/><circle cx="129" cy="152" r="6.5" fill="#31688e"/><circle cx="99" cy="155" r="6.5" fill="#31688e"/><circle cx="137" cy="184" r="6.5" fill="#31688e"/><circle cx="134" cy="151" r="6.5" fill="#31688e"/><circle cx="69" cy="174" r="6.5" fill="#31688e"/><circle cx="125" cy="187" r="6.5" fill="#31688e"/><circle cx="144" cy="145" r="6.5" fill="#31688e"/><circle cx="108" cy="177" r="6.5" fill="#31688e"/><circle cx="95" cy="150" r="6.5" fill="#31688e"/><circle cx="151" cy="188" r="6.5" fill="#31688e"/><circle cx="100" cy="157" r="6.5" fill="#31688e"/><circle cx="148" cy="171" r="6.5" fill="#31688e"/><circle cx="144" cy="187" r="6.5" fill="#31688e"/><circle cx="95" cy="163" r="6.5" fill="#31688e"/><circle cx="107" cy="164" r="6.5" fill="#31688e"/><polygon points="218,95 240,82 275,80 302,72 330,62 340,32 357,30 362,55 393,52 411,58 405,100 380,120 360,150 340,160 320,150 300,130 270,125 240,120 220,115" fill="#31688e" stroke="#31688e" stroke-width="6" stroke-linejoin="round" filter="url(#rough)"/><g fill="#31688e" filter="url(#rough)"><circle cx="225" cy="88" r="6"/><circle cx="227" cy="85" r="6"/><circle cx="256" cy="75" r="6"/><circle cx="255" cy="86" r="6"/><circle cx="272" cy="81" r="6"/><circle cx="281" cy="79" r="6"/><circle cx="291" cy="79" r="6"/><circle cx="290" cy="80" r="6"/><circle cx="302" cy="69" r="6"/><circle cx="312" cy="65" r="6"/><circle cx="317" cy="68" r="6"/><circle cx="324" cy="60" r="6"/><circle cx="329" cy="52" r="6"/><circle cx="338" cy="37" r="6"/><circle cx="350" cy="25" r="6"/><circle cx="360" cy="29" r="6"/><circle cx="362" cy="54" r="6"/><circle cx="373" cy="52" r="6"/><circle cx="377" cy="50" r="6"/><circle cx="381" cy="54" r="6"/><circle cx="397" cy="59" r="6"/><circle cx="411" cy="62" r="6"/><circle cx="416" cy="61" r="6"/><circle cx="406" cy="78" r="6"/><circle cx="411" cy="89" r="6"/><circle cx="409" cy="94" r="6"/><circle cx="400" cy="108" r="6"/><circle cx="389" cy="106" r="6"/><circle cx="383" cy="122" r="6"/><circle cx="384" cy="127" r="6"/><circle cx="367" cy="125" r="6"/><circle cx="364" cy="136" r="6"/><circle cx="361" cy="143" r="6"/><circle cx="358" cy="148" r="6"/><circle cx="348" cy="163" r="6"/><circle cx="331" cy="161" r="6"/><circle cx="320" cy="155" r="6"/><circle cx="309" cy="146" r="6"/><circle cx="313" cy="138" r="6"/><circle cx="303" cy="130" r="6"/><circle cx="295" cy="133" r="6"/><circle cx="289" cy="130" r="6"/><circle cx="269" cy="132" r="6"/><circle cx="273" cy="131" r="6"/><circle cx="259" cy="118" r="6"/><circle cx="235" cy="117" r="6"/><circle cx="237" cy="116" r="6"/><circle cx="219" cy="117" r="6"/><circle cx="217" cy="110" r="6"/><circle cx="220" cy="103" r="6"/></g><polygon points="411,62 445,72 475,86 502,110 516,136 507,164 489,182 470,190 448,210 430,227 411,245 393,237 375,218 357,200 335,182 325,160 345,130 375,110 395,85" fill="#35b779" stroke="#35b779" stroke-width="6" stroke-linejoin="round" filter="url(#rough)"/><g fill="#35b779" filter="url(#rough)"><circle cx="419" cy="66" r="6"/><circle cx="434" cy="65" r="6"/><circle cx="438" cy="71" r="6"/><circle cx="448" cy="79" r="6"/><circle cx="459" cy="81" r="6"/><circle cx="475" cy="80" r="6"/><circle cx="479" cy="94" r="6"/><circle cx="490" cy="96" r="6"/><circle cx="490" cy="98" r="6"/><circle cx="497" cy="108" r="6"/><circle cx="500" cy="116" r="6"/><circle cx="517" cy="121" r="6"/><circle cx="516" cy="136" r="6"/><circle cx="521" cy="132" r="6"/><circle cx="505" cy="146" r="6"/><circle cx="509" cy="150" r="6"/><circle cx="507" cy="163" r="6"/><circle cx="483" cy="187" r="6"/><circle cx="481" cy="188" r="6"/><circle cx="475" cy="191" r="6"/><circle cx="460" cy="196" r="6"/><circle cx="456" cy="198" r="6"/><circle cx="448" cy="208" r="6"/><circle cx="450" cy="207" r="6"/><circle cx="439" cy="224" r="6"/><circle cx="425" cy="228" r="6"/><circle cx="422" cy="237" r="6"/><circle cx="400" cy="244" r="6"/><circle cx="404" cy="236" r="6"/><circle cx="383" cy="229" r="6"/><circle cx="380" cy="214" r="6"/><circle cx="373" cy="219" r="6"/><circle cx="363" cy="197" r="6"/><circle cx="346" cy="199" r="6"/><circle cx="350" cy="193" r="6"/><circle cx="344" cy="191" r="6"/><circle cx="337" cy="178" r="6"/><circle cx="319" cy="157" r="6"/><circle cx="329" cy="153" r="6"/><circle cx="328" cy="152" r="6"/><circle cx="340" cy="146" r="6"/><circle cx="341" cy="133" r="6"/><circle cx="353" cy="123" r="6"/><circle cx="348" cy="127" r="6"/><circle cx="358" cy="117" r="6"/><circle cx="370" cy="112" r="6"/><circle cx="385" cy="100" r="6"/><circle cx="388" cy="96" r="6"/><circle cx="394" cy="80" r="6"/><circle cx="403" cy="75" r="6"/><circle cx="402" cy="70" r="6"/><circle cx="412" cy="62" r="6"/></g><polygon points="190,130 220,118 260,125 290,130 310,150 320,180 345,195 365,220 385,250 400,280 405,300 385,305 365,280 345,250 320,230 300,205 280,190 260,180 240,190 215,215 195,225 180,205 185,165" fill="#fde725" stroke="#fde725" stroke-width="6" stroke-linejoin="round" filter="url(#rough)"/><g fill="#fde725" filter="url(#rough)"><circle cx="186" cy="134" r="6"/><circle cx="211" cy="131" r="6"/><circle cx="216" cy="118" r="6"/><circle cx="221" cy="115" r="6"/><circle cx="233" cy="119" r="6"/><circle cx="241" cy="126" r="6"/><circle cx="256" cy="129" r="6"/><circle cx="266" cy="121" r="6"/><circle cx="274" cy="128" r="6"/><circle cx="290" cy="123" r="6"/><circle cx="286" cy="130" r="6"/><circle cx="302" cy="145" r="6"/><circle cx="308" cy="140" r="6"/><circle cx="308" cy="154" r="6"/><circle cx="316" cy="169" r="6"/><circle cx="313" cy="180" r="6"/><circle cx="322" cy="184" r="6"/><circle cx="334" cy="187" r="6"/><circle cx="334" cy="195" r="6"/><circle cx="358" cy="200" r="6"/><circle cx="358" cy="208" r="6"/><circle cx="369" cy="222" r="6"/><circle cx="364" cy="230" r="6"/><circle cx="375" cy="229" r="6"/><circle cx="381" cy="243" r="6"/><circle cx="381" cy="247" r="6"/><circle cx="384" cy="258" r="6"/><circle cx="395" cy="276" r="6"/><circle cx="400" cy="268" r="6"/><circle cx="399" cy="286" r="6"/><circle cx="401" cy="289" r="6"/><circle cx="395" cy="309" r="6"/><circle cx="384" cy="310" r="6"/><circle cx="376" cy="296" r="6"/><circle cx="378" cy="295" r="6"/><circle cx="363" cy="277" r="6"/><circle cx="362" cy="277" r="6"/><circle cx="357" cy="264" r="6"/><circle cx="353" cy="255" r="6"/><circle cx="350" cy="254" r="6"/><circle cx="343" cy="255" r="6"/><circle cx="328" cy="242" r="6"/><circle cx="324" cy="228" r="6"/><circle cx="319" cy="223" r="6"/><circle cx="317" cy="224" r="6"/><circle cx="311" cy="214" r="6"/><circle cx="296" cy="201" r="6"/><circle cx="281" cy="184" r="6"/><circle cx="275" cy="192" r="6"/><circle cx="263" cy="191" r="6"/><circle cx="254" cy="174" r="6"/><circle cx="250" cy="178" r="6"/><circle cx="238" cy="187" r="6"/><circle cx="235" cy="195" r="6"/><circle cx="221" cy="202" r="6"/><circle cx="213" cy="214" r="6"/><circle cx="200" cy="224" r="6"/><circle cx="186" cy="212" r="6"/><circle cx="175" cy="200" r="6"/><circle cx="177" cy="199" r="6"/><circle cx="186" cy="185" r="6"/><circle cx="187" cy="170" r="6"/><circle cx="187" cy="174" r="6"/><circle cx="190" cy="155" r="6"/><circle cx="188" cy="147" r="6"/><circle cx="194" cy="132" r="6"/></g><polygon points="200,225 215,200 240,180 265,170 290,185 310,200 340,215 360,240 385,260 410,255 440,235 470,210 495,190 505,200 500,260 495,300 480,330 450,345 400,345 360,345 320,340 280,345 240,340 225,320 215,290 210,260" fill="#440154" stroke="#440154" stroke-width="6" stroke-linejoin="round" filter="url(#rough)"/><g fill="#440154" filter="url(#rough)"><circle cx="200" cy="223" r="6"/><circle cx="210" cy="217" r="6"/><circle cx="212" cy="202" r="6"/><circle cx="216" cy="197" r="6"/><circle cx="227" cy="189" r="6"/><circle cx="231" cy="178" r="6"/><circle cx="250" cy="178" r="6"/><circle cx="251" cy="170" r="6"/><circle cx="271" cy="175" r="6"/><circle cx="277" cy="178" r="6"/><circle cx="290" cy="180" r="6"/><circle cx="291" cy="187" r="6"/><circle cx="309" cy="200" r="6"/><circle cx="316" cy="203" r="6"/><circle cx="323" cy="206" r="6"/><circle cx="329" cy="208" r="6"/><circle cx="335" cy="223" r="6"/><circle cx="346" cy="226" r="6"/><circle cx="363" cy="240" r="6"/><circle cx="367" cy="249" r="6"/><circle cx="375" cy="250" r="6"/><circle cx="384" cy="252" r="6"/><circle cx="398" cy="263" r="6"/><circle cx="407" cy="254" r="6"/><circle cx="411" cy="253" r="6"/><circle cx="418" cy="250" r="6"/><circle cx="428" cy="241" r="6"/><circle cx="439" cy="244" r="6"/><circle cx="442" cy="227" r="6"/><circle cx="444" cy="233" r="6"/><circle cx="458" cy="220" r="6"/><circle cx="468" cy="205" r="6"/><circle cx="480" cy="203" r="6"/><circle cx="482" cy="194" r="6"/><circle cx="493" cy="195" r="6"/><circle cx="504" cy="187" r="6"/><circle cx="506" cy="211" r="6"/><circle cx="508" cy="207" r="6"/><circle cx="508" cy="227" r="6"/><circle cx="505" cy="231" r="6"/><circle cx="502" cy="240" r="6"/><circle cx="499" cy="246" r="6"/><circle cx="505" cy="267" r="6"/><circle cx="495" cy="273" r="6"/><circle cx="500" cy="287" r="6"/><circle cx="490" cy="294" r="6"/><circle cx="496" cy="309" r="6"/><circle cx="483" cy="309" r="6"/><circle cx="484" cy="318" r="6"/><circle cx="469" cy="332" r="6"/><circle cx="472" cy="342" r="6"/><circle cx="458" cy="340" r="6"/><circle cx="442" cy="342" r="6"/><circle cx="435" cy="343" r="6"/><circle cx="418" cy="347" r="6"/><circle cx="412" cy="346" r="6"/><circle cx="409" cy="345" r="6"/><circle cx="401" cy="348" r="6"/><circle cx="393" cy="348" r="6"/><circle cx="375" cy="338" r="6"/><circle cx="371" cy="343" r="6"/><circle cx="354" cy="351" r="6"/><circle cx="339" cy="342" r="6"/><circle cx="333" cy="339" r="6"/><circle cx="328" cy="342" r="6"/><circle cx="319" cy="342" r="6"/><circle cx="305" cy="343" r="6"/><circle cx="289" cy="345" r="6"/><circle cx="294" cy="341" r="6"/><circle cx="272" cy="339" r="6"/><circle cx="267" cy="338" r="6"/><circle cx="251" cy="343" r="6"/><circle cx="240" cy="337" r="6"/><circle cx="233" cy="339" r="6"/><circle cx="231" cy="315" r="6"/><circle cx="226" cy="324" r="6"/><circle cx="215" cy="302" r="6"/><circle cx="217" cy="288" r="6"/><circle cx="209" cy="286" r="6"/><circle cx="214" cy="275" r="6"/><circle cx="216" cy="267" r="6"/><circle cx="201" cy="248" r="6"/><circle cx="206" cy="237" r="6"/><circle cx="206" cy="243" r="6"/><circle cx="195" cy="232" r="6"/></g><polygon points="330,195 350,192 366,215 362,236 340,232 325,212" fill="#fde725" stroke="#fde725" stroke-width="6" stroke-linejoin="round" filter="url(#rough)"/><g fill="#fde725" filter="url(#rough)"><circle cx="331" cy="191" r="6"/><circle cx="341" cy="192" r="6"/><circle cx="347" cy="199" r="6"/><circle cx="356" cy="205" r="6"/><circle cx="359" cy="216" r="6"/><circle cx="367" cy="215" r="6"/><circle cx="362" cy="225" r="6"/><circle cx="351" cy="227" r="6"/><circle cx="348" cy="240" r="6"/><circle cx="339" cy="217" r="6"/><circle cx="325" cy="221" r="6"/><circle cx="334" cy="204" r="6"/></g><polygon points="368,258 390,255 402,280 400,300 380,298 366,275" fill="#fde725" stroke="#fde725" stroke-width="6" stroke-linejoin="round" filter="url(#rough)"/><g fill="#fde725" filter="url(#rough)"><circle cx="375" cy="256" r="6"/><circle cx="389" cy="258" r="6"/><circle cx="398" cy="257" r="6"/><circle cx="391" cy="267" r="6"/><circle cx="400" cy="273" r="6"/><circle cx="408" cy="283" r="6"/><circle cx="406" cy="286" r="6"/><circle cx="403" cy="302" r="6"/><circle cx="383" cy="296" r="6"/><circle cx="378" cy="286" r="6"/><circle cx="377" cy="288" r="6"/><circle cx="373" cy="262" r="6"/></g><circle cx="294" cy="187" r="5.5" fill="#440154"/><circle cx="289" cy="144" r="5.5" fill="#440154"/><circle cx="242" cy="155" r="5.5" fill="#440154"/><circle cx="274" cy="148" r="5.5" fill="#440154"/><circle cx="278" cy="146" r="5.5" fill="#440154"/><circle cx="258" cy="145" r="5.5" fill="#440154"/><circle cx="213" cy="152" r="5.5" fill="#440154"/><circle cx="288" cy="159" r="5.5" fill="#440154"/><circle cx="230" cy="148" r="5.5" fill="#440154"/><circle cx="206" cy="140" r="5.5" fill="#440154"/><circle cx="223" cy="183" r="5.5" fill="#440154"/><circle cx="227" cy="160" r="5.5" fill="#440154"/><circle cx="280" cy="173" r="5.5" fill="#440154"/><circle cx="225" cy="173" r="5.5" fill="#440154"/><circle cx="271" cy="223" r="5.5" fill="#fde725"/><circle cx="269" cy="248" r="5.5" fill="#fde725"/><circle cx="258" cy="249" r="5.5" fill="#fde725"/><circle cx="246" cy="250" r="5.5" fill="#fde725"/><circle cx="299" cy="231" r="5.5" fill="#fde725"/><circle cx="277" cy="244" r="5.5" fill="#fde725"/><circle cx="359" cy="124" r="5.5" fill="#31688e"/><circle cx="352" cy="140" r="5.5" fill="#31688e"/><circle cx="322" cy="144" r="5.5" fill="#31688e"/><circle cx="345" cy="165" r="5.5" fill="#31688e"/><circle cx="355" cy="142" r="5.5" fill="#31688e"/><circle cx="339" cy="165" r="5.5" fill="#31688e"/><circle cx="160" cy="240" r="5" fill="#440154"/><circle cx="175" cy="225" r="5" fill="#440154"/><circle cx="520" cy="200" r="5" fill="#440154"/><circle cx="505" cy="215" r="5" fill="#440154"/><circle cx="300" cy="340" r="5" fill="#440154"/><circle cx="230" cy="335" r="5" fill="#440154"/><circle cx="345" cy="115" r="5" fill="#fde725"/><circle cx="395" cy="185" r="5" fill="#fde725"/><circle cx="405" cy="195" r="5" fill="#fde725"/><circle cx="330" cy="150" r="5" fill="#fde725"/><circle cx="265" cy="155" r="5" fill="#31688e"/><circle cx="300" cy="170" r="5" fill="#31688e"/><circle cx="205" cy="130" r="5" fill="#31688e"/><circle cx="410" cy="305" r="5" fill="#35b779"/><circle cx="380" cy="285" r="5" fill="#35b779"/>
</g></g></g>
<rect x="300.4" y="2.9" width="107.5" height="69.7" fill="none" stroke="#a6a6a6" stroke-width="0.9"/>
<line x1="298.4" y1="59" x2="300.4" y2="59" stroke="#707070" stroke-width="0.7"/>
<text x="296.8" y="59.2" font-size="6.3" text-anchor="end" dominant-baseline="central">5</text>
<line x1="298.4" y1="35.7" x2="300.4" y2="35.7" stroke="#707070" stroke-width="0.7"/>
<text x="296.8" y="35.9" font-size="6.3" text-anchor="end" dominant-baseline="central">10</text>
<line x1="298.4" y1="12.4" x2="300.4" y2="12.4" stroke="#707070" stroke-width="0.7"/>
<text x="296.8" y="12.6" font-size="6.3" text-anchor="end" dominant-baseline="central">15</text>
<text x="283.5" y="38.85" font-size="7.1" text-anchor="middle" dominant-baseline="central" transform="rotate(-90 283.5 38.85)">Yield (t/ha)</text>
<line x1="302.3" y1="72.6" x2="302.3" y2="74.6" stroke="#707070" stroke-width="0.7"/>
<text x="302.3" y="79.8" font-size="6.3" text-anchor="middle" dominant-baseline="central">1.0</text>
<line x1="340.1" y1="72.6" x2="340.1" y2="74.6" stroke="#707070" stroke-width="0.7"/>
<text x="340.1" y="79.8" font-size="6.3" text-anchor="middle" dominant-baseline="central">1.2</text>
<line x1="377.5" y1="72.6" x2="377.5" y2="74.6" stroke="#707070" stroke-width="0.7"/>
<text x="377.5" y="79.8" font-size="6.3" text-anchor="middle" dominant-baseline="central">1.4</text>
<text x="362.1" y="87.9" font-size="7.1" text-anchor="middle" dominant-baseline="central">OC (%)</text>
<clipPath id="cd03"><rect x="437.5" y="2.9" width="107" height="69.7"/></clipPath>
<g clip-path="url(#cd03)"><g transform="translate(436 0) scale(0.2)"><g>
<polygon points="23,127 55,114 82,100 118,91 164,86 218,82 245,82 273,80 320,72 361,64 365,100 355,140 339,165 325,190 310,225 293,255 275,280 245,295 218,291 182,282 155,273 118,273 91,264 91,236 73,218 68,191 73,155 45,136" fill="#35b779" stroke="#35b779" stroke-width="6" stroke-linejoin="round" filter="url(#rough)"/><g fill="#35b779" filter="url(#rough)"><circle cx="28" cy="132" r="6"/><circle cx="31" cy="127" r="6"/><circle cx="53" cy="115" r="6"/><circle cx="53" cy="119" r="6"/><circle cx="73" cy="110" r="6"/><circle cx="77" cy="103" r="6"/><circle cx="80" cy="105" r="6"/><circle cx="102" cy="96" r="6"/><circle cx="104" cy="89" r="6"/><circle cx="123" cy="92" r="6"/><circle cx="120" cy="92" r="6"/><circle cx="129" cy="92" r="6"/><circle cx="149" cy="93" r="6"/><circle cx="157" cy="80" r="6"/><circle cx="164" cy="82" r="6"/><circle cx="168" cy="84" r="6"/><circle cx="177" cy="89" r="6"/><circle cx="196" cy="79" r="6"/><circle cx="196" cy="82" r="6"/><circle cx="200" cy="79" r="6"/><circle cx="220" cy="82" r="6"/><circle cx="218" cy="86" r="6"/><circle cx="226" cy="76" r="6"/><circle cx="231" cy="84" r="6"/><circle cx="245" cy="84" r="6"/><circle cx="264" cy="80" r="6"/><circle cx="270" cy="87" r="6"/><circle cx="282" cy="74" r="6"/><circle cx="286" cy="74" r="6"/><circle cx="297" cy="76" r="6"/><circle cx="308" cy="77" r="6"/><circle cx="316" cy="72" r="6"/><circle cx="333" cy="64" r="6"/><circle cx="335" cy="76" r="6"/><circle cx="352" cy="73" r="6"/><circle cx="357" cy="67" r="6"/><circle cx="361" cy="66" r="6"/><circle cx="368" cy="74" r="6"/><circle cx="361" cy="80" r="6"/><circle cx="366" cy="95" r="6"/><circle cx="371" cy="98" r="6"/><circle cx="361" cy="111" r="6"/><circle cx="361" cy="127" r="6"/><circle cx="364" cy="127" r="6"/><circle cx="346" cy="151" r="6"/><circle cx="350" cy="157" r="6"/><circle cx="346" cy="166" r="6"/><circle cx="331" cy="168" r="6"/><circle cx="327" cy="181" r="6"/><circle cx="323" cy="187" r="6"/><circle cx="318" cy="196" r="6"/><circle cx="316" cy="205" r="6"/><circle cx="312" cy="213" r="6"/><circle cx="305" cy="224" r="6"/><circle cx="302" cy="236" r="6"/><circle cx="300" cy="235" r="6"/><circle cx="293" cy="252" r="6"/><circle cx="284" cy="260" r="6"/><circle cx="285" cy="261" r="6"/><circle cx="286" cy="274" r="6"/><circle cx="263" cy="285" r="6"/><circle cx="263" cy="286" r="6"/><circle cx="252" cy="287" r="6"/><circle cx="236" cy="293" r="6"/><circle cx="223" cy="294" r="6"/><circle cx="231" cy="286" r="6"/><circle cx="205" cy="295" r="6"/><circle cx="194" cy="282" r="6"/><circle cx="192" cy="289" r="6"/><circle cx="188" cy="288" r="6"/><circle cx="172" cy="284" r="6"/><circle cx="158" cy="277" r="6"/><circle cx="169" cy="272" r="6"/><circle cx="148" cy="277" r="6"/><circle cx="138" cy="272" r="6"/><circle cx="134" cy="275" r="6"/><circle cx="118" cy="266" r="6"/><circle cx="115" cy="278" r="6"/><circle cx="111" cy="274" r="6"/><circle cx="102" cy="269" r="6"/><circle cx="94" cy="264" r="6"/><circle cx="87" cy="240" r="6"/><circle cx="85" cy="245" r="6"/><circle cx="90" cy="234" r="6"/><circle cx="74" cy="226" r="6"/><circle cx="71" cy="214" r="6"/><circle cx="66" cy="197" r="6"/><circle cx="73" cy="197" r="6"/><circle cx="72" cy="196" r="6"/><circle cx="71" cy="185" r="6"/><circle cx="76" cy="177" r="6"/><circle cx="78" cy="161" r="6"/><circle cx="62" cy="152" r="6"/><circle cx="55" cy="145" r="6"/><circle cx="42" cy="142" r="6"/><circle cx="37" cy="135" r="6"/><circle cx="29" cy="130" r="6"/></g><polygon points="240,78 280,72 330,66 330,86 280,84 240,88" fill="#31688e" stroke="#31688e" stroke-width="3" stroke-linejoin="round" filter="url(#rough)"/><g fill="#31688e" filter="url(#rough)"><circle cx="248" cy="75" r="6"/><circle cx="263" cy="70" r="6"/><circle cx="272" cy="77" r="6"/><circle cx="276" cy="79" r="6"/><circle cx="292" cy="75" r="6"/><circle cx="286" cy="70" r="6"/><circle cx="312" cy="67" r="6"/><circle cx="321" cy="61" r="6"/><circle cx="325" cy="61" r="6"/><circle cx="328" cy="75" r="6"/><circle cx="327" cy="75" r="6"/><circle cx="318" cy="91" r="6"/><circle cx="324" cy="80" r="6"/><circle cx="304" cy="88" r="6"/><circle cx="289" cy="89" r="6"/><circle cx="277" cy="90" r="6"/><circle cx="276" cy="84" r="6"/><circle cx="265" cy="90" r="6"/><circle cx="262" cy="92" r="6"/><circle cx="241" cy="89" r="6"/><circle cx="236" cy="89" r="6"/></g><polygon points="330,55 366,50 411,55 430,41 439,27 448,45 484,55 507,68 511,118 484,118 457,136 430,155 393,173 375,209 348,218 330,209 320,164 339,118 330,82" fill="#31688e" stroke="#31688e" stroke-width="6" stroke-linejoin="round" filter="url(#rough)"/><g fill="#31688e" filter="url(#rough)"><circle cx="326" cy="53" r="6"/><circle cx="344" cy="52" r="6"/><circle cx="356" cy="47" r="6"/><circle cx="354" cy="45" r="6"/><circle cx="367" cy="51" r="6"/><circle cx="381" cy="46" r="6"/><circle cx="382" cy="49" r="6"/><circle cx="391" cy="56" r="6"/><circle cx="404" cy="57" r="6"/><circle cx="421" cy="53" r="6"/><circle cx="419" cy="55" r="6"/><circle cx="435" cy="39" r="6"/><circle cx="442" cy="30" r="6"/><circle cx="446" cy="36" r="6"/><circle cx="446" cy="48" r="6"/><circle cx="465" cy="43" r="6"/><circle cx="475" cy="47" r="6"/><circle cx="476" cy="49" r="6"/><circle cx="495" cy="63" r="6"/><circle cx="507" cy="71" r="6"/><circle cx="503" cy="68" r="6"/><circle cx="507" cy="90" r="6"/><circle cx="504" cy="98" r="6"/><circle cx="505" cy="111" r="6"/><circle cx="509" cy="116" r="6"/><circle cx="510" cy="123" r="6"/><circle cx="499" cy="125" r="6"/><circle cx="487" cy="118" r="6"/><circle cx="478" cy="114" r="6"/><circle cx="473" cy="133" r="6"/><circle cx="455" cy="129" r="6"/><circle cx="452" cy="136" r="6"/><circle cx="451" cy="149" r="6"/><circle cx="440" cy="146" r="6"/><circle cx="423" cy="154" r="6"/><circle cx="421" cy="155" r="6"/><circle cx="410" cy="167" r="6"/><circle cx="397" cy="172" r="6"/><circle cx="388" cy="169" r="6"/><circle cx="380" cy="189" r="6"/><circle cx="377" cy="193" r="6"/><circle cx="380" cy="203" r="6"/><circle cx="380" cy="216" r="6"/><circle cx="358" cy="217" r="6"/><circle cx="362" cy="209" r="6"/><circle cx="337" cy="209" r="6"/><circle cx="335" cy="215" r="6"/><circle cx="331" cy="213" r="6"/><circle cx="324" cy="200" r="6"/><circle cx="331" cy="180" r="6"/><circle cx="327" cy="178" r="6"/><circle cx="320" cy="165" r="6"/><circle cx="326" cy="157" r="6"/><circle cx="327" cy="151" r="6"/><circle cx="336" cy="139" r="6"/><circle cx="330" cy="135" r="6"/><circle cx="343" cy="129" r="6"/><circle cx="341" cy="107" r="6"/><circle cx="330" cy="108" r="6"/><circle cx="332" cy="88" r="6"/><circle cx="338" cy="96" r="6"/><circle cx="331" cy="84" r="6"/><circle cx="325" cy="64" r="6"/><circle cx="333" cy="54" r="6"/></g><polygon points="339,127 384,118 439,109 475,100 493,118 466,145 448,173 439,209 420,245 402,273 375,273 348,255 325,227 330,182" fill="#fde725" stroke="#fde725" stroke-width="6" stroke-linejoin="round" filter="url(#rough)"/><g fill="#fde725" filter="url(#rough)"><circle cx="339" cy="125" r="6"/><circle cx="351" cy="124" r="6"/><circle cx="361" cy="123" r="6"/><circle cx="365" cy="122" r="6"/><circle cx="383" cy="122" r="6"/><circle cx="395" cy="110" r="6"/><circle cx="396" cy="122" r="6"/><circle cx="412" cy="110" r="6"/><circle cx="411" cy="111" r="6"/><circle cx="428" cy="115" r="6"/><circle cx="431" cy="108" r="6"/><circle cx="437" cy="108" r="6"/><circle cx="454" cy="103" r="6"/><circle cx="459" cy="103" r="6"/><circle cx="469" cy="101" r="6"/><circle cx="477" cy="106" r="6"/><circle cx="488" cy="103" r="6"/><circle cx="488" cy="120" r="6"/><circle cx="491" cy="120" r="6"/><circle cx="480" cy="127" r="6"/><circle cx="473" cy="140" r="6"/><circle cx="462" cy="148" r="6"/><circle cx="457" cy="152" r="6"/><circle cx="453" cy="159" r="6"/><circle cx="443" cy="180" r="6"/><circle cx="453" cy="179" r="6"/><circle cx="448" cy="201" r="6"/><circle cx="440" cy="202" r="6"/><circle cx="430" cy="220" r="6"/><circle cx="428" cy="227" r="6"/><circle cx="432" cy="233" r="6"/><circle cx="423" cy="238" r="6"/><circle cx="412" cy="249" r="6"/><circle cx="409" cy="261" r="6"/><circle cx="403" cy="272" r="6"/><circle cx="399" cy="273" r="6"/><circle cx="392" cy="275" r="6"/><circle cx="376" cy="277" r="6"/><circle cx="372" cy="276" r="6"/><circle cx="353" cy="257" r="6"/><circle cx="346" cy="263" r="6"/><circle cx="351" cy="254" r="6"/><circle cx="344" cy="248" r="6"/><circle cx="324" cy="236" r="6"/><circle cx="329" cy="235" r="6"/><circle cx="320" cy="229" r="6"/><circle cx="321" cy="219" r="6"/><circle cx="322" cy="204" r="6"/><circle cx="323" cy="191" r="6"/><circle cx="334" cy="189" r="6"/><circle cx="337" cy="177" r="6"/><circle cx="332" cy="179" r="6"/><circle cx="327" cy="156" r="6"/><circle cx="333" cy="151" r="6"/><circle cx="332" cy="136" r="6"/><circle cx="345" cy="123" r="6"/></g><circle cx="362" cy="175" r="5.5" fill="#31688e"/><circle cx="395" cy="167" r="5.5" fill="#31688e"/><circle cx="366" cy="178" r="5.5" fill="#31688e"/><circle cx="343" cy="171" r="5.5" fill="#31688e"/><circle cx="374" cy="196" r="5.5" fill="#31688e"/><circle cx="337" cy="152" r="5.5" fill="#31688e"/><circle cx="336" cy="198" r="5.5" fill="#31688e"/><circle cx="379" cy="129" r="5.5" fill="#31688e"/><circle cx="376" cy="180" r="5.5" fill="#31688e"/><circle cx="367" cy="130" r="5.5" fill="#31688e"/><circle cx="343" cy="147" r="5.5" fill="#31688e"/><circle cx="332" cy="167" r="5.5" fill="#31688e"/><polygon points="275,250 320,245 357,240 393,215 430,170 457,140 484,122 502,127 516,145 520,200 520,270 515,320 500,345 450,345 420,345 390,330 360,310 330,300 300,295 275,295" fill="#440154" stroke="#440154" stroke-width="6" stroke-linejoin="round" filter="url(#rough)"/><g fill="#440154" filter="url(#rough)"><circle cx="281" cy="251" r="6"/><circle cx="297" cy="248" r="6"/><circle cx="294" cy="251" r="6"/><circle cx="310" cy="240" r="6"/><circle cx="312" cy="246" r="6"/><circle cx="329" cy="247" r="6"/><circle cx="329" cy="243" r="6"/><circle cx="345" cy="237" r="6"/><circle cx="358" cy="235" r="6"/><circle cx="363" cy="234" r="6"/><circle cx="368" cy="231" r="6"/><circle cx="380" cy="219" r="6"/><circle cx="391" cy="222" r="6"/><circle cx="401" cy="220" r="6"/><circle cx="398" cy="203" r="6"/><circle cx="415" cy="201" r="6"/><circle cx="419" cy="191" r="6"/><circle cx="424" cy="187" r="6"/><circle cx="430" cy="182" r="6"/><circle cx="439" cy="157" r="6"/><circle cx="441" cy="159" r="6"/><circle cx="441" cy="153" r="6"/><circle cx="449" cy="147" r="6"/><circle cx="460" cy="136" r="6"/><circle cx="469" cy="131" r="6"/><circle cx="474" cy="130" r="6"/><circle cx="483" cy="124" r="6"/><circle cx="494" cy="130" r="6"/><circle cx="500" cy="135" r="6"/><circle cx="510" cy="148" r="6"/><circle cx="512" cy="155" r="6"/><circle cx="521" cy="162" r="6"/><circle cx="519" cy="163" r="6"/><circle cx="518" cy="181" r="6"/><circle cx="518" cy="188" r="6"/><circle cx="513" cy="196" r="6"/><circle cx="520" cy="215" r="6"/><circle cx="517" cy="225" r="6"/><circle cx="518" cy="222" r="6"/><circle cx="520" cy="225" r="6"/><circle cx="516" cy="242" r="6"/><circle cx="523" cy="256" r="6"/><circle cx="518" cy="260" r="6"/><circle cx="513" cy="285" r="6"/><circle cx="526" cy="279" r="6"/><circle cx="513" cy="290" r="6"/><circle cx="510" cy="305" r="6"/><circle cx="516" cy="315" r="6"/><circle cx="505" cy="320" r="6"/><circle cx="502" cy="337" r="6"/><circle cx="506" cy="348" r="6"/><circle cx="492" cy="342" r="6"/><circle cx="490" cy="350" r="6"/><circle cx="479" cy="346" r="6"/><circle cx="471" cy="348" r="6"/><circle cx="457" cy="341" r="6"/><circle cx="448" cy="342" r="6"/><circle cx="442" cy="340" r="6"/><circle cx="425" cy="339" r="6"/><circle cx="416" cy="344" r="6"/><circle cx="410" cy="342" r="6"/><circle cx="395" cy="324" r="6"/><circle cx="392" cy="333" r="6"/><circle cx="384" cy="322" r="6"/><circle cx="375" cy="317" r="6"/><circle cx="366" cy="306" r="6"/><circle cx="350" cy="302" r="6"/><circle cx="352" cy="300" r="6"/><circle cx="344" cy="301" r="6"/><circle cx="317" cy="299" r="6"/><circle cx="310" cy="302" r="6"/><circle cx="302" cy="302" r="6"/><circle cx="292" cy="298" r="6"/><circle cx="280" cy="296" r="6"/><circle cx="275" cy="295" r="6"/><circle cx="271" cy="273" r="6"/><circle cx="278" cy="265" r="6"/><circle cx="269" cy="256" r="6"/><circle cx="271" cy="255" r="6"/></g><polygon points="395,165 425,160 445,180 440,210 420,225 398,210" fill="#fde725" stroke="#fde725" stroke-width="6" stroke-linejoin="round" filter="url(#rough)"/><g fill="#fde725" filter="url(#rough)"><circle cx="398" cy="166" r="6"/><circle cx="413" cy="162" r="6"/><circle cx="425" cy="154" r="6"/><circle cx="430" cy="163" r="6"/><circle cx="443" cy="179" r="6"/><circle cx="436" cy="172" r="6"/><circle cx="450" cy="177" r="6"/><circle cx="445" cy="188" r="6"/><circle cx="444" cy="210" r="6"/><circle cx="437" cy="211" r="6"/><circle cx="424" cy="218" r="6"/><circle cx="420" cy="226" r="6"/><circle cx="393" cy="207" r="6"/><circle cx="393" cy="199" r="6"/><circle cx="391" cy="186" r="6"/><circle cx="400" cy="187" r="6"/><circle cx="393" cy="180" r="6"/><circle cx="389" cy="162" r="6"/></g><circle cx="427" cy="199" r="5.5" fill="#fde725"/><circle cx="447" cy="137" r="5.5" fill="#fde725"/><circle cx="381" cy="165" r="5.5" fill="#fde725"/><circle cx="407" cy="217" r="5.5" fill="#fde725"/><circle cx="449" cy="192" r="5.5" fill="#fde725"/><circle cx="436" cy="199" r="5.5" fill="#fde725"/><circle cx="395" cy="173" r="5.5" fill="#fde725"/><circle cx="396" cy="229" r="5.5" fill="#fde725"/><circle cx="386" cy="218" r="5.5" fill="#fde725"/><circle cx="387" cy="202" r="5.5" fill="#fde725"/><circle cx="227" cy="345" r="5" fill="#35b779"/><circle cx="300" cy="240" r="5" fill="#35b779"/><circle cx="250" cy="282" r="5" fill="#440154"/><circle cx="330" cy="318" r="5" fill="#440154"/><circle cx="366" cy="300" r="5" fill="#440154"/><circle cx="402" cy="345" r="5" fill="#440154"/><circle cx="348" cy="291" r="5" fill="#440154"/><circle cx="300" cy="300" r="5" fill="#440154"/><circle cx="259" cy="68" r="5" fill="#31688e"/><circle cx="241" cy="91" r="5" fill="#31688e"/><circle cx="345" cy="55" r="5" fill="#31688e"/><circle cx="440" cy="30" r="5" fill="#31688e"/><circle cx="340" cy="125" r="5" fill="#fde725"/><circle cx="385" cy="115" r="5" fill="#fde725"/>
</g></g></g>
<rect x="437.5" y="2.9" width="107" height="69.7" fill="none" stroke="#a6a6a6" stroke-width="0.9"/>
<line x1="435.5" y1="59" x2="437.5" y2="59" stroke="#707070" stroke-width="0.7"/>
<text x="433.9" y="59.2" font-size="6.3" text-anchor="end" dominant-baseline="central">5</text>
<line x1="435.5" y1="35.7" x2="437.5" y2="35.7" stroke="#707070" stroke-width="0.7"/>
<text x="433.9" y="35.9" font-size="6.3" text-anchor="end" dominant-baseline="central">10</text>
<line x1="435.5" y1="12.4" x2="437.5" y2="12.4" stroke="#707070" stroke-width="0.7"/>
<text x="433.9" y="12.6" font-size="6.3" text-anchor="end" dominant-baseline="central">15</text>
<text x="420.6" y="38.85" font-size="7.1" text-anchor="middle" dominant-baseline="central" transform="rotate(-90 420.6 38.85)">Yield (t/ha)</text>
<line x1="460" y1="72.6" x2="460" y2="74.6" stroke="#707070" stroke-width="0.7"/>
<text x="460" y="79.8" font-size="6.3" text-anchor="middle" dominant-baseline="central">1.5</text>
<line x1="488" y1="72.6" x2="488" y2="74.6" stroke="#707070" stroke-width="0.7"/>
<text x="488" y="79.8" font-size="6.3" text-anchor="middle" dominant-baseline="central">2.0</text>
<line x1="516" y1="72.6" x2="516" y2="74.6" stroke="#707070" stroke-width="0.7"/>
<text x="516" y="79.8" font-size="6.3" text-anchor="middle" dominant-baseline="central">2.5</text>
<text x="491.4" y="87.9" font-size="7.1" text-anchor="middle" dominant-baseline="central">Ca (mg/100g)</text>
<text x="538.2" y="88.1" font-size="6.6" text-anchor="middle" dominant-baseline="central">1e3</text>
<clipPath id="cd10"><rect x="28" y="97.3" width="107.3" height="69.4"/></clipPath>
<g clip-path="url(#cd10)"><g transform="translate(27 95) scale(0.2)"><g>
<polygon points="23,118 55,109 91,100 127,91 164,86 195,86 200,130 195,200 209,215 250,240 275,255 293,264 330,227 366,200 393,182 430,191 448,209 439,236 420,255 402,273 384,300 366,318 330,336 302,345 275,345 236,336 209,327 182,309 164,300 145,282 127,264 109,236 91,209 86,182 82,145 64,127 23,127" fill="#440154" stroke="#440154" stroke-width="6" stroke-linejoin="round" filter="url(#rough)"/><g fill="#440154" filter="url(#rough)"><circle cx="32" cy="117" r="6"/><circle cx="42" cy="118" r="6"/><circle cx="58" cy="106" r="6"/><circle cx="63" cy="114" r="6"/><circle cx="63" cy="108" r="6"/><circle cx="77" cy="110" r="6"/><circle cx="96" cy="96" r="6"/><circle cx="104" cy="104" r="6"/><circle cx="95" cy="103" r="6"/><circle cx="116" cy="92" r="6"/><circle cx="116" cy="87" r="6"/><circle cx="124" cy="97" r="6"/><circle cx="145" cy="96" r="6"/><circle cx="159" cy="89" r="6"/><circle cx="169" cy="91" r="6"/><circle cx="174" cy="90" r="6"/><circle cx="175" cy="80" r="6"/><circle cx="187" cy="86" r="6"/><circle cx="194" cy="87" r="6"/><circle cx="196" cy="107" r="6"/><circle cx="197" cy="103" r="6"/><circle cx="196" cy="122" r="6"/><circle cx="193" cy="147" r="6"/><circle cx="201" cy="147" r="6"/><circle cx="197" cy="145" r="6"/><circle cx="192" cy="161" r="6"/><circle cx="194" cy="173" r="6"/><circle cx="194" cy="186" r="6"/><circle cx="200" cy="192" r="6"/><circle cx="191" cy="205" r="6"/><circle cx="208" cy="209" r="6"/><circle cx="207" cy="223" r="6"/><circle cx="219" cy="229" r="6"/><circle cx="232" cy="225" r="6"/><circle cx="242" cy="230" r="6"/><circle cx="247" cy="239" r="6"/><circle cx="258" cy="242" r="6"/><circle cx="262" cy="246" r="6"/><circle cx="264" cy="250" r="6"/><circle cx="270" cy="250" r="6"/><circle cx="288" cy="270" r="6"/><circle cx="290" cy="258" r="6"/><circle cx="307" cy="262" r="6"/><circle cx="308" cy="248" r="6"/><circle cx="317" cy="242" r="6"/><circle cx="322" cy="234" r="6"/><circle cx="332" cy="221" r="6"/><circle cx="343" cy="222" r="6"/><circle cx="350" cy="212" r="6"/><circle cx="352" cy="207" r="6"/><circle cx="368" cy="203" r="6"/><circle cx="382" cy="191" r="6"/><circle cx="381" cy="198" r="6"/><circle cx="397" cy="189" r="6"/><circle cx="394" cy="185" r="6"/><circle cx="415" cy="184" r="6"/><circle cx="416" cy="182" r="6"/><circle cx="424" cy="187" r="6"/><circle cx="432" cy="198" r="6"/><circle cx="453" cy="203" r="6"/><circle cx="450" cy="207" r="6"/><circle cx="438" cy="224" r="6"/><circle cx="437" cy="233" r="6"/><circle cx="436" cy="240" r="6"/><circle cx="424" cy="248" r="6"/><circle cx="413" cy="260" r="6"/><circle cx="400" cy="271" r="6"/><circle cx="397" cy="271" r="6"/><circle cx="389" cy="285" r="6"/><circle cx="386" cy="287" r="6"/><circle cx="380" cy="311" r="6"/><circle cx="373" cy="309" r="6"/><circle cx="364" cy="326" r="6"/><circle cx="345" cy="332" r="6"/><circle cx="338" cy="331" r="6"/><circle cx="330" cy="342" r="6"/><circle cx="330" cy="344" r="6"/><circle cx="323" cy="344" r="6"/><circle cx="309" cy="341" r="6"/><circle cx="297" cy="345" r="6"/><circle cx="288" cy="338" r="6"/><circle cx="280" cy="347" r="6"/><circle cx="264" cy="345" r="6"/><circle cx="264" cy="341" r="6"/><circle cx="241" cy="344" r="6"/><circle cx="234" cy="341" r="6"/><circle cx="230" cy="328" r="6"/><circle cx="218" cy="334" r="6"/><circle cx="211" cy="325" r="6"/><circle cx="209" cy="326" r="6"/><circle cx="201" cy="315" r="6"/><circle cx="182" cy="307" r="6"/><circle cx="173" cy="307" r="6"/><circle cx="177" cy="299" r="6"/><circle cx="154" cy="292" r="6"/><circle cx="147" cy="285" r="6"/><circle cx="136" cy="280" r="6"/><circle cx="139" cy="266" r="6"/><circle cx="130" cy="263" r="6"/><circle cx="113" cy="251" r="6"/><circle cx="108" cy="238" r="6"/><circle cx="103" cy="231" r="6"/><circle cx="103" cy="224" r="6"/><circle cx="92" cy="216" r="6"/><circle cx="89" cy="196" r="6"/><circle cx="85" cy="194" r="6"/><circle cx="91" cy="196" r="6"/><circle cx="88" cy="176" r="6"/><circle cx="90" cy="169" r="6"/><circle cx="76" cy="149" r="6"/><circle cx="89" cy="150" r="6"/><circle cx="79" cy="139" r="6"/><circle cx="63" cy="127" r="6"/><circle cx="59" cy="124" r="6"/><circle cx="37" cy="126" r="6"/><circle cx="44" cy="128" r="6"/><circle cx="26" cy="129" r="6"/><circle cx="25" cy="120" r="6"/></g><polygon points="191,95 230,75 280,66 306,62 318,26 328,60 360,60 400,65 440,75 470,80 490,98 439,104 384,100 330,104 275,104 230,112 195,118" fill="#31688e" stroke="#31688e" stroke-width="6" stroke-linejoin="round" filter="url(#rough)"/><g fill="#31688e" filter="url(#rough)"><circle cx="199" cy="92" r="6"/><circle cx="203" cy="93" r="6"/><circle cx="220" cy="85" r="6"/><circle cx="227" cy="71" r="6"/><circle cx="237" cy="70" r="6"/><circle cx="245" cy="70" r="6"/><circle cx="256" cy="73" r="6"/><circle cx="266" cy="67" r="6"/><circle cx="274" cy="70" r="6"/><circle cx="279" cy="65" r="6"/><circle cx="293" cy="67" r="6"/><circle cx="313" cy="48" r="6"/><circle cx="315" cy="55" r="6"/><circle cx="314" cy="39" r="6"/><circle cx="324" cy="25" r="6"/><circle cx="320" cy="31" r="6"/><circle cx="324" cy="47" r="6"/><circle cx="322" cy="53" r="6"/><circle cx="339" cy="57" r="6"/><circle cx="345" cy="63" r="6"/><circle cx="356" cy="67" r="6"/><circle cx="369" cy="62" r="6"/><circle cx="373" cy="65" r="6"/><circle cx="377" cy="64" r="6"/><circle cx="400" cy="71" r="6"/><circle cx="401" cy="69" r="6"/><circle cx="409" cy="63" r="6"/><circle cx="430" cy="68" r="6"/><circle cx="430" cy="79" r="6"/><circle cx="444" cy="81" r="6"/><circle cx="453" cy="81" r="6"/><circle cx="457" cy="83" r="6"/><circle cx="471" cy="77" r="6"/><circle cx="487" cy="104" r="6"/><circle cx="491" cy="101" r="6"/><circle cx="471" cy="97" r="6"/><circle cx="456" cy="108" r="6"/><circle cx="454" cy="102" r="6"/><circle cx="439" cy="102" r="6"/><circle cx="428" cy="110" r="6"/><circle cx="424" cy="99" r="6"/><circle cx="424" cy="105" r="6"/><circle cx="413" cy="98" r="6"/><circle cx="394" cy="102" r="6"/><circle cx="394" cy="96" r="6"/><circle cx="374" cy="101" r="6"/><circle cx="375" cy="100" r="6"/><circle cx="359" cy="103" r="6"/><circle cx="354" cy="98" r="6"/><circle cx="343" cy="106" r="6"/><circle cx="342" cy="110" r="6"/><circle cx="331" cy="108" r="6"/><circle cx="309" cy="98" r="6"/><circle cx="303" cy="100" r="6"/><circle cx="296" cy="101" r="6"/><circle cx="281" cy="111" r="6"/><circle cx="282" cy="109" r="6"/><circle cx="278" cy="99" r="6"/><circle cx="265" cy="108" r="6"/><circle cx="249" cy="104" r="6"/><circle cx="241" cy="103" r="6"/><circle cx="238" cy="110" r="6"/><circle cx="224" cy="110" r="6"/><circle cx="211" cy="115" r="6"/><circle cx="206" cy="120" r="6"/><circle cx="201" cy="117" r="6"/><circle cx="194" cy="106" r="6"/></g><polygon points="191,118 230,108 275,100 330,100 384,95 439,100 475,95 507,105 520,118 507,127 475,136 457,155 430,155 393,164 366,182 339,209 311,236 293,255 275,250 250,236 209,209 191,180" fill="#35b779" stroke="#35b779" stroke-width="6" stroke-linejoin="round" filter="url(#rough)"/><g fill="#35b779" filter="url(#rough)"><circle cx="199" cy="123" r="6"/><circle cx="206" cy="107" r="6"/><circle cx="217" cy="116" r="6"/><circle cx="227" cy="109" r="6"/><circle cx="233" cy="112" r="6"/><circle cx="247" cy="102" r="6"/><circle cx="256" cy="97" r="6"/><circle cx="267" cy="108" r="6"/><circle cx="274" cy="94" r="6"/><circle cx="271" cy="101" r="6"/><circle cx="291" cy="99" r="6"/><circle cx="299" cy="96" r="6"/><circle cx="307" cy="105" r="6"/><circle cx="319" cy="96" r="6"/><circle cx="321" cy="101" r="6"/><circle cx="337" cy="94" r="6"/><circle cx="341" cy="102" r="6"/><circle cx="351" cy="97" r="6"/><circle cx="358" cy="98" r="6"/><circle cx="369" cy="94" r="6"/><circle cx="381" cy="93" r="6"/><circle cx="383" cy="98" r="6"/><circle cx="408" cy="94" r="6"/><circle cx="399" cy="96" r="6"/><circle cx="416" cy="95" r="6"/><circle cx="423" cy="100" r="6"/><circle cx="431" cy="97" r="6"/><circle cx="441" cy="102" r="6"/><circle cx="458" cy="104" r="6"/><circle cx="457" cy="98" r="6"/><circle cx="468" cy="95" r="6"/><circle cx="490" cy="103" r="6"/><circle cx="500" cy="96" r="6"/><circle cx="506" cy="103" r="6"/><circle cx="515" cy="116" r="6"/><circle cx="523" cy="112" r="6"/><circle cx="509" cy="130" r="6"/><circle cx="502" cy="126" r="6"/><circle cx="492" cy="138" r="6"/><circle cx="481" cy="132" r="6"/><circle cx="470" cy="133" r="6"/><circle cx="466" cy="141" r="6"/><circle cx="458" cy="153" r="6"/><circle cx="437" cy="152" r="6"/><circle cx="429" cy="152" r="6"/><circle cx="424" cy="161" r="6"/><circle cx="415" cy="152" r="6"/><circle cx="402" cy="164" r="6"/><circle cx="394" cy="157" r="6"/><circle cx="383" cy="162" r="6"/><circle cx="388" cy="171" r="6"/><circle cx="370" cy="176" r="6"/><circle cx="358" cy="186" r="6"/><circle cx="364" cy="185" r="6"/><circle cx="356" cy="192" r="6"/><circle cx="351" cy="202" r="6"/><circle cx="343" cy="215" r="6"/><circle cx="331" cy="228" r="6"/><circle cx="322" cy="229" r="6"/><circle cx="312" cy="230" r="6"/><circle cx="306" cy="238" r="6"/><circle cx="296" cy="258" r="6"/><circle cx="291" cy="252" r="6"/><circle cx="281" cy="254" r="6"/><circle cx="263" cy="253" r="6"/><circle cx="256" cy="248" r="6"/><circle cx="264" cy="242" r="6"/><circle cx="254" cy="233" r="6"/><circle cx="237" cy="224" r="6"/><circle cx="229" cy="222" r="6"/><circle cx="218" cy="210" r="6"/><circle cx="211" cy="220" r="6"/><circle cx="203" cy="203" r="6"/><circle cx="194" cy="191" r="6"/><circle cx="198" cy="186" r="6"/><circle cx="196" cy="173" r="6"/><circle cx="186" cy="168" r="6"/><circle cx="194" cy="150" r="6"/><circle cx="190" cy="144" r="6"/><circle cx="192" cy="139" r="6"/><circle cx="190" cy="129" r="6"/></g><polygon points="209,150 240,145 264,160 264,191 240,195 212,185" fill="#fde725" stroke="#fde725" stroke-width="6" stroke-linejoin="round" filter="url(#rough)"/><g fill="#fde725" filter="url(#rough)"><circle cx="214" cy="153" r="6"/><circle cx="222" cy="151" r="6"/><circle cx="228" cy="142" r="6"/><circle cx="238" cy="145" r="6"/><circle cx="249" cy="160" r="6"/><circle cx="265" cy="154" r="6"/><circle cx="262" cy="162" r="6"/><circle cx="260" cy="179" r="6"/><circle cx="259" cy="187" r="6"/><circle cx="262" cy="195" r="6"/><circle cx="244" cy="200" r="6"/><circle cx="227" cy="195" r="6"/><circle cx="232" cy="190" r="6"/><circle cx="212" cy="189" r="6"/><circle cx="213" cy="181" r="6"/><circle cx="213" cy="158" r="6"/><circle cx="215" cy="160" r="6"/></g><polygon points="255,218 275,215 280,240 258,245" fill="#fde725" stroke="#fde725" stroke-width="6" stroke-linejoin="round" filter="url(#rough)"/><g fill="#fde725" filter="url(#rough)"><circle cx="261" cy="213" r="6"/><circle cx="268" cy="209" r="6"/><circle cx="273" cy="222" r="6"/><circle cx="283" cy="227" r="6"/><circle cx="273" cy="236" r="6"/><circle cx="258" cy="244" r="6"/><circle cx="251" cy="239" r="6"/><circle cx="253" cy="225" r="6"/><circle cx="256" cy="219" r="6"/></g><polygon points="275,136 300,138 302,155 278,157" fill="#fde725" stroke="#fde725" stroke-width="6" stroke-linejoin="round" filter="url(#rough)"/><g fill="#fde725" filter="url(#rough)"><circle cx="287" cy="131" r="6"/><circle cx="289" cy="136" r="6"/><circle cx="298" cy="152" r="6"/><circle cx="297" cy="155" r="6"/><circle cx="287" cy="151" r="6"/><circle cx="274" cy="150" r="6"/><circle cx="276" cy="136" r="6"/></g><polygon points="345,190 380,165 420,170 445,195 440,235 400,240 360,225" fill="#440154" stroke="#440154" stroke-width="6" stroke-linejoin="round" filter="url(#rough)"/><g fill="#440154" filter="url(#rough)"><circle cx="357" cy="184" r="6"/><circle cx="350" cy="180" r="6"/><circle cx="363" cy="171" r="6"/><circle cx="371" cy="170" r="6"/><circle cx="378" cy="172" r="6"/><circle cx="398" cy="162" r="6"/><circle cx="405" cy="175" r="6"/><circle cx="415" cy="175" r="6"/><circle cx="431" cy="180" r="6"/><circle cx="442" cy="187" r="6"/><circle cx="438" cy="189" r="6"/><circle cx="449" cy="191" r="6"/><circle cx="437" cy="217" r="6"/><circle cx="449" cy="225" r="6"/><circle cx="433" cy="231" r="6"/><circle cx="435" cy="231" r="6"/><circle cx="424" cy="233" r="6"/><circle cx="423" cy="239" r="6"/><circle cx="406" cy="239" r="6"/><circle cx="397" cy="239" r="6"/><circle cx="384" cy="236" r="6"/><circle cx="376" cy="227" r="6"/><circle cx="374" cy="231" r="6"/><circle cx="351" cy="216" r="6"/><circle cx="360" cy="210" r="6"/><circle cx="345" cy="210" r="6"/><circle cx="342" cy="185" r="6"/></g><circle cx="375" cy="189" r="6" fill="#fde725"/><circle cx="431" cy="217" r="6" fill="#fde725"/><circle cx="408" cy="192" r="6" fill="#fde725"/><circle cx="417" cy="214" r="6" fill="#fde725"/><circle cx="406" cy="165" r="6" fill="#fde725"/><circle cx="449" cy="220" r="6" fill="#fde725"/><circle cx="399" cy="158" r="6" fill="#fde725"/><circle cx="414" cy="192" r="6" fill="#fde725"/><circle cx="441" cy="201" r="6" fill="#fde725"/><circle cx="413" cy="199" r="6" fill="#fde725"/><circle cx="400" cy="154" r="6" fill="#fde725"/><circle cx="448" cy="175" r="6" fill="#fde725"/><circle cx="453" cy="194" r="6" fill="#fde725"/><circle cx="421" cy="229" r="6" fill="#fde725"/><circle cx="431" cy="158" r="6" fill="#fde725"/><circle cx="425" cy="217" r="6" fill="#fde725"/><circle cx="416" cy="210" r="6" fill="#fde725"/><circle cx="422" cy="181" r="6" fill="#fde725"/><circle cx="380" cy="201" r="6" fill="#fde725"/><circle cx="372" cy="192" r="6" fill="#fde725"/><circle cx="435" cy="154" r="6" fill="#fde725"/><circle cx="369" cy="161" r="6" fill="#fde725"/><circle cx="371" cy="195" r="6" fill="#fde725"/><circle cx="407" cy="153" r="6" fill="#fde725"/><circle cx="395" cy="211" r="6" fill="#fde725"/><circle cx="434" cy="222" r="6" fill="#fde725"/><circle cx="450" cy="183" r="6" fill="#fde725"/><circle cx="435" cy="158" r="6" fill="#fde725"/><circle cx="402" cy="208" r="6" fill="#fde725"/><circle cx="420" cy="172" r="6" fill="#fde725"/><circle cx="228" cy="130" r="5.5" fill="#31688e"/><circle cx="274" cy="171" r="5.5" fill="#31688e"/><circle cx="289" cy="118" r="5.5" fill="#31688e"/><circle cx="222" cy="155" r="5.5" fill="#31688e"/><circle cx="203" cy="128" r="5.5" fill="#31688e"/><circle cx="265" cy="159" r="5.5" fill="#31688e"/><circle cx="222" cy="163" r="5.5" fill="#31688e"/><circle cx="281" cy="173" r="5.5" fill="#31688e"/><circle cx="234" cy="124" r="5.5" fill="#31688e"/><circle cx="296" cy="140" r="5.5" fill="#31688e"/><circle cx="50" cy="218" r="5" fill="#440154"/><circle cx="141" cy="282" r="5" fill="#440154"/><circle cx="228" cy="172" r="5" fill="#440154"/><circle cx="250" cy="160" r="5" fill="#440154"/><circle cx="159" cy="168" r="5" fill="#fde725"/><circle cx="480" cy="164" r="5" fill="#fde725"/><circle cx="330" cy="282" r="5" fill="#fde725"/><circle cx="339" cy="300" r="5" fill="#fde725"/><circle cx="209" cy="200" r="5" fill="#fde725"/><circle cx="300" cy="225" r="5" fill="#fde725"/><circle cx="393" cy="264" r="5" fill="#35b779"/><circle cx="366" cy="300" r="5" fill="#35b779"/><circle cx="366" cy="336" r="5" fill="#35b779"/><circle cx="330" cy="265" r="5" fill="#35b779"/><circle cx="320" cy="23" r="5" fill="#31688e"/><circle cx="370" cy="45" r="5" fill="#31688e"/>
</g></g></g>
<rect x="28" y="97.3" width="107.3" height="69.4" fill="none" stroke="#a6a6a6" stroke-width="0.9"/>
<line x1="26" y1="153.15" x2="28" y2="153.15" stroke="#707070" stroke-width="0.7"/>
<text x="24.4" y="153.35" font-size="6.3" text-anchor="end" dominant-baseline="central">5</text>
<line x1="26" y1="129.96" x2="28" y2="129.96" stroke="#707070" stroke-width="0.7"/>
<text x="24.4" y="130.16" font-size="6.3" text-anchor="end" dominant-baseline="central">10</text>
<line x1="26" y1="106.76" x2="28" y2="106.76" stroke="#707070" stroke-width="0.7"/>
<text x="24.4" y="106.96" font-size="6.3" text-anchor="end" dominant-baseline="central">15</text>
<text x="11.1" y="133.1" font-size="7.1" text-anchor="middle" dominant-baseline="central" transform="rotate(-90 11.1 133.1)">Yield (t/ha)</text>
<line x1="53.1" y1="166.7" x2="53.1" y2="168.7" stroke="#707070" stroke-width="0.7"/>
<text x="53.1" y="173.2" font-size="6.4" text-anchor="middle" dominant-baseline="central">25</text>
<line x1="87.4" y1="166.7" x2="87.4" y2="168.7" stroke="#707070" stroke-width="0.7"/>
<text x="87.4" y="173.2" font-size="6.4" text-anchor="middle" dominant-baseline="central">30</text>
<line x1="121.7" y1="166.7" x2="121.7" y2="168.7" stroke="#707070" stroke-width="0.7"/>
<text x="121.7" y="173.2" font-size="6.4" text-anchor="middle" dominant-baseline="central">35</text>
<text x="83.4" y="180.3" font-size="7.313" text-anchor="middle" dominant-baseline="central">K (mg/100g)</text>
<clipPath id="cd11"><rect x="164.5" y="97.3" width="107.3" height="69.4"/></clipPath>
<g clip-path="url(#cd11)"><g transform="translate(163 95) scale(0.2)"><g>
<polygon points="32,109 55,100 91,91 136,86 164,82 182,91 227,100 275,100 320,105 339,120 339,155 300,185 275,205 236,218 209,228 185,240 173,255 164,282 136,291 109,282 82,264 55,245 32,236" fill="#35b779" stroke="#35b779" stroke-width="6" stroke-linejoin="round" filter="url(#rough)"/><g fill="#35b779" filter="url(#rough)"><circle cx="40" cy="112" r="6"/><circle cx="45" cy="99" r="6"/><circle cx="54" cy="101" r="6"/><circle cx="65" cy="102" r="6"/><circle cx="81" cy="99" r="6"/><circle cx="92" cy="96" r="6"/><circle cx="89" cy="89" r="6"/><circle cx="104" cy="84" r="6"/><circle cx="115" cy="86" r="6"/><circle cx="118" cy="88" r="6"/><circle cx="141" cy="90" r="6"/><circle cx="144" cy="90" r="6"/><circle cx="145" cy="88" r="6"/><circle cx="157" cy="87" r="6"/><circle cx="163" cy="76" r="6"/><circle cx="176" cy="93" r="6"/><circle cx="188" cy="94" r="6"/><circle cx="202" cy="93" r="6"/><circle cx="203" cy="98" r="6"/><circle cx="204" cy="99" r="6"/><circle cx="221" cy="102" r="6"/><circle cx="228" cy="99" r="6"/><circle cx="241" cy="100" r="6"/><circle cx="246" cy="99" r="6"/><circle cx="258" cy="103" r="6"/><circle cx="267" cy="99" r="6"/><circle cx="284" cy="103" r="6"/><circle cx="282" cy="102" r="6"/><circle cx="294" cy="102" r="6"/><circle cx="304" cy="106" r="6"/><circle cx="318" cy="109" r="6"/><circle cx="317" cy="104" r="6"/><circle cx="340" cy="120" r="6"/><circle cx="337" cy="122" r="6"/><circle cx="339" cy="130" r="6"/><circle cx="338" cy="138" r="6"/><circle cx="335" cy="165" r="6"/><circle cx="321" cy="159" r="6"/><circle cx="324" cy="170" r="6"/><circle cx="311" cy="178" r="6"/><circle cx="304" cy="183" r="6"/><circle cx="303" cy="190" r="6"/><circle cx="285" cy="189" r="6"/><circle cx="276" cy="203" r="6"/><circle cx="266" cy="213" r="6"/><circle cx="264" cy="206" r="6"/><circle cx="253" cy="220" r="6"/><circle cx="247" cy="212" r="6"/><circle cx="230" cy="222" r="6"/><circle cx="224" cy="225" r="6"/><circle cx="217" cy="222" r="6"/><circle cx="205" cy="230" r="6"/><circle cx="189" cy="231" r="6"/><circle cx="182" cy="252" r="6"/><circle cx="181" cy="245" r="6"/><circle cx="171" cy="256" r="6"/><circle cx="172" cy="264" r="6"/><circle cx="173" cy="269" r="6"/><circle cx="160" cy="285" r="6"/><circle cx="144" cy="287" r="6"/><circle cx="143" cy="284" r="6"/><circle cx="135" cy="294" r="6"/><circle cx="121" cy="280" r="6"/><circle cx="120" cy="286" r="6"/><circle cx="105" cy="284" r="6"/><circle cx="101" cy="270" r="6"/><circle cx="80" cy="272" r="6"/><circle cx="77" cy="257" r="6"/><circle cx="63" cy="249" r="6"/><circle cx="56" cy="254" r="6"/><circle cx="47" cy="238" r="6"/><circle cx="36" cy="239" r="6"/><circle cx="33" cy="234" r="6"/><circle cx="31" cy="228" r="6"/><circle cx="38" cy="208" r="6"/><circle cx="27" cy="201" r="6"/><circle cx="36" cy="189" r="6"/><circle cx="34" cy="190" r="6"/><circle cx="28" cy="178" r="6"/><circle cx="25" cy="161" r="6"/><circle cx="25" cy="157" r="6"/><circle cx="26" cy="155" r="6"/><circle cx="38" cy="142" r="6"/><circle cx="25" cy="125" r="6"/><circle cx="31" cy="124" r="6"/><circle cx="37" cy="112" r="6"/></g><polygon points="140,85 182,70 225,60 243,56 250,26 258,56 275,58 320,62 366,66 411,80 448,98 475,125 493,143 475,136 448,145 411,155 366,150 330,140 300,125 275,127 227,118 182,100 136,91" fill="#31688e" stroke="#31688e" stroke-width="6" stroke-linejoin="round" filter="url(#rough)"/><g fill="#31688e" filter="url(#rough)"><circle cx="143" cy="87" r="6"/><circle cx="149" cy="78" r="6"/><circle cx="159" cy="78" r="6"/><circle cx="167" cy="71" r="6"/><circle cx="185" cy="74" r="6"/><circle cx="205" cy="63" r="6"/><circle cx="202" cy="68" r="6"/><circle cx="220" cy="65" r="6"/><circle cx="229" cy="65" r="6"/><circle cx="235" cy="62" r="6"/><circle cx="251" cy="46" r="6"/><circle cx="251" cy="36" r="6"/><circle cx="253" cy="34" r="6"/><circle cx="258" cy="31" r="6"/><circle cx="257" cy="35" r="6"/><circle cx="254" cy="55" r="6"/><circle cx="268" cy="58" r="6"/><circle cx="279" cy="55" r="6"/><circle cx="297" cy="59" r="6"/><circle cx="296" cy="53" r="6"/><circle cx="310" cy="64" r="6"/><circle cx="313" cy="59" r="6"/><circle cx="329" cy="62" r="6"/><circle cx="339" cy="60" r="6"/><circle cx="340" cy="67" r="6"/><circle cx="354" cy="72" r="6"/><circle cx="361" cy="60" r="6"/><circle cx="374" cy="66" r="6"/><circle cx="375" cy="75" r="6"/><circle cx="392" cy="78" r="6"/><circle cx="395" cy="68" r="6"/><circle cx="399" cy="84" r="6"/><circle cx="407" cy="84" r="6"/><circle cx="425" cy="81" r="6"/><circle cx="430" cy="97" r="6"/><circle cx="446" cy="95" r="6"/><circle cx="444" cy="97" r="6"/><circle cx="457" cy="111" r="6"/><circle cx="467" cy="120" r="6"/><circle cx="466" cy="118" r="6"/><circle cx="472" cy="128" r="6"/><circle cx="483" cy="136" r="6"/><circle cx="482" cy="145" r="6"/><circle cx="473" cy="132" r="6"/><circle cx="473" cy="130" r="6"/><circle cx="464" cy="141" r="6"/><circle cx="444" cy="143" r="6"/><circle cx="446" cy="148" r="6"/><circle cx="442" cy="154" r="6"/><circle cx="425" cy="156" r="6"/><circle cx="414" cy="155" r="6"/><circle cx="401" cy="160" r="6"/><circle cx="404" cy="160" r="6"/><circle cx="397" cy="157" r="6"/><circle cx="373" cy="146" r="6"/><circle cx="375" cy="149" r="6"/><circle cx="358" cy="151" r="6"/><circle cx="344" cy="139" r="6"/><circle cx="338" cy="138" r="6"/><circle cx="331" cy="144" r="6"/><circle cx="321" cy="133" r="6"/><circle cx="316" cy="139" r="6"/><circle cx="300" cy="129" r="6"/><circle cx="287" cy="121" r="6"/><circle cx="272" cy="132" r="6"/><circle cx="276" cy="123" r="6"/><circle cx="257" cy="124" r="6"/><circle cx="259" cy="130" r="6"/><circle cx="238" cy="118" r="6"/><circle cx="228" cy="117" r="6"/><circle cx="224" cy="117" r="6"/><circle cx="214" cy="113" r="6"/><circle cx="202" cy="113" r="6"/><circle cx="190" cy="105" r="6"/><circle cx="190" cy="100" r="6"/><circle cx="175" cy="101" r="6"/><circle cx="164" cy="105" r="6"/><circle cx="150" cy="99" r="6"/><circle cx="146" cy="90" r="6"/><circle cx="135" cy="89" r="6"/><circle cx="141" cy="85" r="6"/></g><circle cx="252" cy="153" r="5.5" fill="#31688e"/><circle cx="251" cy="156" r="5.5" fill="#31688e"/><circle cx="322" cy="146" r="5.5" fill="#31688e"/><circle cx="283" cy="161" r="5.5" fill="#31688e"/><circle cx="287" cy="143" r="5.5" fill="#31688e"/><circle cx="276" cy="173" r="5.5" fill="#31688e"/><circle cx="265" cy="171" r="5.5" fill="#31688e"/><circle cx="272" cy="174" r="5.5" fill="#31688e"/><circle cx="275" cy="179" r="5.5" fill="#31688e"/><circle cx="288" cy="131" r="5.5" fill="#31688e"/><circle cx="329" cy="150" r="5.5" fill="#31688e"/><circle cx="270" cy="133" r="5.5" fill="#31688e"/><circle cx="324" cy="124" r="5.5" fill="#35b779"/><circle cx="337" cy="120" r="5.5" fill="#35b779"/><circle cx="291" cy="117" r="5.5" fill="#35b779"/><circle cx="284" cy="109" r="5.5" fill="#35b779"/><circle cx="294" cy="114" r="5.5" fill="#35b779"/><circle cx="327" cy="121" r="5.5" fill="#35b779"/><circle cx="331" cy="145" r="5.5" fill="#35b779"/><circle cx="334" cy="147" r="5.5" fill="#35b779"/><polygon points="164,236 182,236 218,218 275,200 330,158 366,147 411,155 457,136 484,132 511,164 520,182 502,209 484,236 466,264 448,291 420,318 393,345 348,345 275,336 227,336 182,336 164,318 159,264" fill="#440154" stroke="#440154" stroke-width="6" stroke-linejoin="round" filter="url(#rough)"/><g fill="#440154" filter="url(#rough)"><circle cx="162" cy="231" r="6"/><circle cx="177" cy="236" r="6"/><circle cx="177" cy="241" r="6"/><circle cx="188" cy="235" r="6"/><circle cx="202" cy="229" r="6"/><circle cx="223" cy="225" r="6"/><circle cx="221" cy="214" r="6"/><circle cx="228" cy="210" r="6"/><circle cx="244" cy="211" r="6"/><circle cx="247" cy="200" r="6"/><circle cx="258" cy="206" r="6"/><circle cx="269" cy="204" r="6"/><circle cx="284" cy="197" r="6"/><circle cx="282" cy="193" r="6"/><circle cx="286" cy="186" r="6"/><circle cx="300" cy="176" r="6"/><circle cx="312" cy="176" r="6"/><circle cx="321" cy="174" r="6"/><circle cx="325" cy="161" r="6"/><circle cx="332" cy="158" r="6"/><circle cx="341" cy="153" r="6"/><circle cx="351" cy="152" r="6"/><circle cx="359" cy="149" r="6"/><circle cx="375" cy="141" r="6"/><circle cx="376" cy="148" r="6"/><circle cx="395" cy="156" r="6"/><circle cx="406" cy="154" r="6"/><circle cx="403" cy="159" r="6"/><circle cx="417" cy="148" r="6"/><circle cx="424" cy="149" r="6"/><circle cx="430" cy="144" r="6"/><circle cx="439" cy="135" r="6"/><circle cx="451" cy="140" r="6"/><circle cx="464" cy="132" r="6"/><circle cx="468" cy="128" r="6"/><circle cx="486" cy="138" r="6"/><circle cx="485" cy="131" r="6"/><circle cx="498" cy="140" r="6"/><circle cx="505" cy="148" r="6"/><circle cx="505" cy="156" r="6"/><circle cx="517" cy="166" r="6"/><circle cx="519" cy="181" r="6"/><circle cx="513" cy="187" r="6"/><circle cx="503" cy="195" r="6"/><circle cx="508" cy="201" r="6"/><circle cx="496" cy="219" r="6"/><circle cx="488" cy="216" r="6"/><circle cx="484" cy="232" r="6"/><circle cx="479" cy="236" r="6"/><circle cx="478" cy="243" r="6"/><circle cx="467" cy="254" r="6"/><circle cx="464" cy="270" r="6"/><circle cx="457" cy="276" r="6"/><circle cx="453" cy="296" r="6"/><circle cx="436" cy="297" r="6"/><circle cx="442" cy="305" r="6"/><circle cx="427" cy="315" r="6"/><circle cx="423" cy="308" r="6"/><circle cx="415" cy="323" r="6"/><circle cx="413" cy="325" r="6"/><circle cx="404" cy="330" r="6"/><circle cx="402" cy="344" r="6"/><circle cx="384" cy="347" r="6"/><circle cx="374" cy="345" r="6"/><circle cx="375" cy="349" r="6"/><circle cx="358" cy="344" r="6"/><circle cx="354" cy="342" r="6"/><circle cx="352" cy="341" r="6"/><circle cx="329" cy="343" r="6"/><circle cx="331" cy="349" r="6"/><circle cx="323" cy="346" r="6"/><circle cx="309" cy="338" r="6"/><circle cx="294" cy="338" r="6"/><circle cx="284" cy="333" r="6"/><circle cx="273" cy="343" r="6"/><circle cx="268" cy="333" r="6"/><circle cx="262" cy="332" r="6"/><circle cx="250" cy="331" r="6"/><circle cx="238" cy="337" r="6"/><circle cx="236" cy="339" r="6"/><circle cx="216" cy="340" r="6"/><circle cx="219" cy="332" r="6"/><circle cx="201" cy="335" r="6"/><circle cx="199" cy="333" r="6"/><circle cx="188" cy="334" r="6"/><circle cx="184" cy="335" r="6"/><circle cx="170" cy="318" r="6"/><circle cx="166" cy="307" r="6"/><circle cx="167" cy="313" r="6"/><circle cx="159" cy="296" r="6"/><circle cx="155" cy="287" r="6"/><circle cx="154" cy="276" r="6"/><circle cx="165" cy="269" r="6"/><circle cx="157" cy="262" r="6"/><circle cx="157" cy="244" r="6"/><circle cx="157" cy="236" r="6"/></g><polygon points="190,300 200,270 230,240 265,210 300,185 335,165 370,145 395,143 402,165 370,182 335,202 300,222 265,247 235,277 212,302" fill="#fde725" stroke="#fde725" stroke-width="6" stroke-linejoin="round" filter="url(#rough)"/><g fill="#fde725" filter="url(#rough)"><circle cx="188" cy="296" r="6"/><circle cx="199" cy="294" r="6"/><circle cx="195" cy="266" r="6"/><circle cx="196" cy="267" r="6"/><circle cx="208" cy="266" r="6"/><circle cx="221" cy="259" r="6"/><circle cx="232" cy="240" r="6"/><circle cx="239" cy="235" r="6"/><circle cx="247" cy="224" r="6"/><circle cx="240" cy="231" r="6"/><circle cx="251" cy="219" r="6"/><circle cx="262" cy="209" r="6"/><circle cx="265" cy="212" r="6"/><circle cx="281" cy="195" r="6"/><circle cx="277" cy="193" r="6"/><circle cx="302" cy="183" r="6"/><circle cx="309" cy="181" r="6"/><circle cx="317" cy="177" r="6"/><circle cx="319" cy="179" r="6"/><circle cx="321" cy="166" r="6"/><circle cx="339" cy="157" r="6"/><circle cx="352" cy="157" r="6"/><circle cx="363" cy="146" r="6"/><circle cx="368" cy="148" r="6"/><circle cx="385" cy="141" r="6"/><circle cx="392" cy="142" r="6"/><circle cx="390" cy="146" r="6"/><circle cx="401" cy="152" r="6"/><circle cx="405" cy="159" r="6"/><circle cx="390" cy="178" r="6"/><circle cx="383" cy="180" r="6"/><circle cx="377" cy="182" r="6"/><circle cx="371" cy="178" r="6"/><circle cx="353" cy="189" r="6"/><circle cx="344" cy="196" r="6"/><circle cx="344" cy="203" r="6"/><circle cx="334" cy="203" r="6"/><circle cx="325" cy="211" r="6"/><circle cx="312" cy="218" r="6"/><circle cx="302" cy="219" r="6"/><circle cx="306" cy="219" r="6"/><circle cx="288" cy="224" r="6"/><circle cx="282" cy="242" r="6"/><circle cx="275" cy="245" r="6"/><circle cx="262" cy="250" r="6"/><circle cx="252" cy="262" r="6"/><circle cx="254" cy="265" r="6"/><circle cx="243" cy="265" r="6"/><circle cx="222" cy="279" r="6"/><circle cx="224" cy="286" r="6"/><circle cx="213" cy="296" r="6"/><circle cx="203" cy="297" r="6"/><circle cx="206" cy="307" r="6"/></g><circle cx="386" cy="214" r="5.5" fill="#fde725"/><circle cx="371" cy="196" r="5.5" fill="#fde725"/><circle cx="414" cy="177" r="5.5" fill="#fde725"/><circle cx="396" cy="198" r="5.5" fill="#fde725"/><circle cx="362" cy="169" r="5.5" fill="#fde725"/><circle cx="351" cy="139" r="5.5" fill="#fde725"/><circle cx="376" cy="190" r="5.5" fill="#fde725"/><circle cx="359" cy="191" r="5.5" fill="#fde725"/><circle cx="391" cy="166" r="5.5" fill="#fde725"/><circle cx="370" cy="150" r="5.5" fill="#fde725"/><circle cx="400" cy="201" r="5.5" fill="#fde725"/><circle cx="370" cy="207" r="5.5" fill="#fde725"/><circle cx="351" cy="159" r="5.5" fill="#fde725"/><circle cx="391" cy="207" r="5.5" fill="#fde725"/><polygon points="173,155 200,152 202,182 176,185" fill="#fde725" stroke="#fde725" stroke-width="6" stroke-linejoin="round" filter="url(#rough)"/><g fill="#fde725" filter="url(#rough)"><circle cx="177" cy="151" r="6"/><circle cx="190" cy="150" r="6"/><circle cx="200" cy="149" r="6"/><circle cx="205" cy="163" r="6"/><circle cx="199" cy="164" r="6"/><circle cx="206" cy="173" r="6"/><circle cx="186" cy="188" r="6"/><circle cx="175" cy="186" r="6"/><circle cx="174" cy="180" r="6"/><circle cx="176" cy="174" r="6"/><circle cx="180" cy="158" r="6"/></g><circle cx="100" cy="141" r="5" fill="#fde725"/><circle cx="118" cy="177" r="5" fill="#fde725"/><circle cx="191" cy="127" r="5" fill="#fde725"/><circle cx="343" cy="127" r="5" fill="#fde725"/><circle cx="366" cy="164" r="5" fill="#fde725"/><circle cx="384" cy="191" r="5" fill="#fde725"/><circle cx="402" cy="218" r="5" fill="#fde725"/><circle cx="357" cy="218" r="5" fill="#fde725"/><circle cx="141" cy="145" r="5" fill="#440154"/><circle cx="145" cy="135" r="5" fill="#440154"/><circle cx="470" cy="320" r="5" fill="#440154"/><circle cx="520" cy="180" r="5" fill="#440154"/><circle cx="245" cy="25" r="5" fill="#31688e"/><circle cx="258" cy="40" r="5" fill="#31688e"/><circle cx="150" cy="200" r="5" fill="#31688e"/><circle cx="120" cy="210" r="5" fill="#31688e"/><circle cx="136" cy="341" r="5" fill="#35b779"/>
</g></g></g>
<rect x="164.5" y="97.3" width="107.3" height="69.4" fill="none" stroke="#a6a6a6" stroke-width="0.9"/>
<line x1="162.5" y1="153.15" x2="164.5" y2="153.15" stroke="#707070" stroke-width="0.7"/>
<text x="160.9" y="153.35" font-size="6.3" text-anchor="end" dominant-baseline="central">5</text>
<line x1="162.5" y1="129.96" x2="164.5" y2="129.96" stroke="#707070" stroke-width="0.7"/>
<text x="160.9" y="130.16" font-size="6.3" text-anchor="end" dominant-baseline="central">10</text>
<line x1="162.5" y1="106.76" x2="164.5" y2="106.76" stroke="#707070" stroke-width="0.7"/>
<text x="160.9" y="106.96" font-size="6.3" text-anchor="end" dominant-baseline="central">15</text>
<text x="147.6" y="133.1" font-size="7.1" text-anchor="middle" dominant-baseline="central" transform="rotate(-90 147.6 133.1)">Yield (t/ha)</text>
<line x1="202.3" y1="166.7" x2="202.3" y2="168.7" stroke="#707070" stroke-width="0.7"/>
<text x="202.3" y="173.2" font-size="5.5" text-anchor="middle" dominant-baseline="central">40</text>
<line x1="241.8" y1="166.7" x2="241.8" y2="168.7" stroke="#707070" stroke-width="0.7"/>
<text x="241.8" y="173.2" font-size="5.5" text-anchor="middle" dominant-baseline="central">45</text>
<text x="220" y="180.3" font-size="7.313" text-anchor="middle" dominant-baseline="central">P(mg/100g)</text>
<clipPath id="cd12"><rect x="300.4" y="97.3" width="107.5" height="69.4"/></clipPath>
<g clip-path="url(#cd12)"><g transform="translate(299 95) scale(0.2)"><g>
<polygon points="36,82 64,73 91,73 110,75 125,100 160,108 235,112 235,150 192,160 182,200 178,250 168,270 145,282 118,291 91,282 73,264 55,227 45,180 36,130" fill="#35b779" stroke="#35b779" stroke-width="6" stroke-linejoin="round" filter="url(#rough)"/><g fill="#35b779" filter="url(#rough)"><circle cx="39" cy="74" r="6"/><circle cx="48" cy="71" r="6"/><circle cx="64" cy="79" r="6"/><circle cx="75" cy="77" r="6"/><circle cx="73" cy="72" r="6"/><circle cx="83" cy="80" r="6"/><circle cx="102" cy="80" r="6"/><circle cx="108" cy="70" r="6"/><circle cx="108" cy="85" r="6"/><circle cx="116" cy="90" r="6"/><circle cx="122" cy="93" r="6"/><circle cx="133" cy="108" r="6"/><circle cx="145" cy="110" r="6"/><circle cx="152" cy="108" r="6"/><circle cx="172" cy="106" r="6"/><circle cx="169" cy="107" r="6"/><circle cx="188" cy="105" r="6"/><circle cx="191" cy="110" r="6"/><circle cx="210" cy="117" r="6"/><circle cx="212" cy="115" r="6"/><circle cx="221" cy="116" r="6"/><circle cx="230" cy="117" r="6"/><circle cx="233" cy="119" r="6"/><circle cx="242" cy="121" r="6"/><circle cx="238" cy="135" r="6"/><circle cx="231" cy="144" r="6"/><circle cx="222" cy="158" r="6"/><circle cx="216" cy="156" r="6"/><circle cx="204" cy="163" r="6"/><circle cx="198" cy="154" r="6"/><circle cx="187" cy="162" r="6"/><circle cx="186" cy="175" r="6"/><circle cx="186" cy="192" r="6"/><circle cx="184" cy="192" r="6"/><circle cx="177" cy="202" r="6"/><circle cx="179" cy="211" r="6"/><circle cx="181" cy="227" r="6"/><circle cx="185" cy="231" r="6"/><circle cx="177" cy="241" r="6"/><circle cx="182" cy="256" r="6"/><circle cx="176" cy="272" r="6"/><circle cx="157" cy="275" r="6"/><circle cx="145" cy="274" r="6"/><circle cx="132" cy="289" r="6"/><circle cx="132" cy="293" r="6"/><circle cx="117" cy="294" r="6"/><circle cx="111" cy="285" r="6"/><circle cx="99" cy="293" r="6"/><circle cx="99" cy="286" r="6"/><circle cx="89" cy="279" r="6"/><circle cx="80" cy="272" r="6"/><circle cx="73" cy="259" r="6"/><circle cx="61" cy="245" r="6"/><circle cx="58" cy="241" r="6"/><circle cx="62" cy="230" r="6"/><circle cx="58" cy="227" r="6"/><circle cx="57" cy="217" r="6"/><circle cx="52" cy="207" r="6"/><circle cx="47" cy="200" r="6"/><circle cx="43" cy="185" r="6"/><circle cx="39" cy="172" r="6"/><circle cx="40" cy="168" r="6"/><circle cx="34" cy="155" r="6"/><circle cx="39" cy="147" r="6"/><circle cx="35" cy="139" r="6"/><circle cx="39" cy="119" r="6"/><circle cx="37" cy="113" r="6"/><circle cx="41" cy="102" r="6"/><circle cx="34" cy="97" r="6"/><circle cx="40" cy="91" r="6"/></g><polygon points="100,64 136,55 182,50 218,55 275,59 320,57 366,66 411,71 439,80 448,100 430,118 393,136 366,145 330,136 275,120 218,125 182,120 140,115 100,95" fill="#31688e" stroke="#31688e" stroke-width="6" stroke-linejoin="round" filter="url(#rough)"/><g fill="#31688e" filter="url(#rough)"><circle cx="100" cy="70" r="6"/><circle cx="117" cy="67" r="6"/><circle cx="125" cy="53" r="6"/><circle cx="136" cy="61" r="6"/><circle cx="144" cy="53" r="6"/><circle cx="157" cy="56" r="6"/><circle cx="163" cy="56" r="6"/><circle cx="160" cy="45" r="6"/><circle cx="182" cy="50" r="6"/><circle cx="190" cy="56" r="6"/><circle cx="188" cy="45" r="6"/><circle cx="212" cy="52" r="6"/><circle cx="209" cy="59" r="6"/><circle cx="221" cy="49" r="6"/><circle cx="231" cy="59" r="6"/><circle cx="248" cy="52" r="6"/><circle cx="253" cy="61" r="6"/><circle cx="259" cy="64" r="6"/><circle cx="264" cy="59" r="6"/><circle cx="285" cy="55" r="6"/><circle cx="285" cy="64" r="6"/><circle cx="295" cy="56" r="6"/><circle cx="309" cy="65" r="6"/><circle cx="324" cy="62" r="6"/><circle cx="319" cy="53" r="6"/><circle cx="337" cy="57" r="6"/><circle cx="348" cy="60" r="6"/><circle cx="355" cy="70" r="6"/><circle cx="357" cy="63" r="6"/><circle cx="370" cy="62" r="6"/><circle cx="374" cy="68" r="6"/><circle cx="386" cy="65" r="6"/><circle cx="401" cy="63" r="6"/><circle cx="406" cy="64" r="6"/><circle cx="414" cy="67" r="6"/><circle cx="431" cy="78" r="6"/><circle cx="430" cy="75" r="6"/><circle cx="438" cy="88" r="6"/><circle cx="446" cy="98" r="6"/><circle cx="447" cy="102" r="6"/><circle cx="431" cy="113" r="6"/><circle cx="420" cy="124" r="6"/><circle cx="410" cy="128" r="6"/><circle cx="412" cy="131" r="6"/><circle cx="396" cy="135" r="6"/><circle cx="396" cy="140" r="6"/><circle cx="376" cy="146" r="6"/><circle cx="369" cy="143" r="6"/><circle cx="357" cy="142" r="6"/><circle cx="353" cy="135" r="6"/><circle cx="349" cy="142" r="6"/><circle cx="332" cy="132" r="6"/><circle cx="317" cy="140" r="6"/><circle cx="323" cy="133" r="6"/><circle cx="314" cy="137" r="6"/><circle cx="300" cy="131" r="6"/><circle cx="278" cy="124" r="6"/><circle cx="288" cy="126" r="6"/><circle cx="273" cy="124" r="6"/><circle cx="252" cy="120" r="6"/><circle cx="248" cy="118" r="6"/><circle cx="240" cy="120" r="6"/><circle cx="235" cy="120" r="6"/><circle cx="218" cy="124" r="6"/><circle cx="222" cy="127" r="6"/><circle cx="211" cy="125" r="6"/><circle cx="194" cy="126" r="6"/><circle cx="182" cy="121" r="6"/><circle cx="168" cy="124" r="6"/><circle cx="164" cy="111" r="6"/><circle cx="158" cy="115" r="6"/><circle cx="138" cy="116" r="6"/><circle cx="127" cy="107" r="6"/><circle cx="122" cy="110" r="6"/><circle cx="118" cy="107" r="6"/><circle cx="110" cy="97" r="6"/><circle cx="100" cy="93" r="6"/><circle cx="97" cy="85" r="6"/><circle cx="99" cy="73" r="6"/></g><circle cx="95" cy="173" r="5.5" fill="#31688e"/><circle cx="117" cy="159" r="5.5" fill="#31688e"/><circle cx="82" cy="182" r="5.5" fill="#31688e"/><circle cx="94" cy="162" r="5.5" fill="#31688e"/><circle cx="88" cy="160" r="5.5" fill="#31688e"/><circle cx="72" cy="178" r="5.5" fill="#31688e"/><circle cx="123" cy="181" r="5.5" fill="#31688e"/><circle cx="104" cy="160" r="5.5" fill="#31688e"/><polygon points="100,152 140,150 182,146 218,135 275,120 330,128 348,150 348,182 310,185 275,182 218,182 182,190 150,185 110,175" fill="#fde725" stroke="#fde725" stroke-width="6" stroke-linejoin="round" filter="url(#rough)"/><g fill="#fde725" filter="url(#rough)"><circle cx="108" cy="151" r="6"/><circle cx="122" cy="149" r="6"/><circle cx="133" cy="154" r="6"/><circle cx="136" cy="147" r="6"/><circle cx="140" cy="147" r="6"/><circle cx="155" cy="146" r="6"/><circle cx="173" cy="151" r="6"/><circle cx="173" cy="144" r="6"/><circle cx="193" cy="151" r="6"/><circle cx="200" cy="146" r="6"/><circle cx="204" cy="145" r="6"/><circle cx="217" cy="139" r="6"/><circle cx="222" cy="140" r="6"/><circle cx="234" cy="128" r="6"/><circle cx="244" cy="135" r="6"/><circle cx="247" cy="128" r="6"/><circle cx="264" cy="122" r="6"/><circle cx="268" cy="116" r="6"/><circle cx="277" cy="118" r="6"/><circle cx="285" cy="125" r="6"/><circle cx="291" cy="121" r="6"/><circle cx="311" cy="124" r="6"/><circle cx="314" cy="130" r="6"/><circle cx="329" cy="125" r="6"/><circle cx="337" cy="133" r="6"/><circle cx="342" cy="133" r="6"/><circle cx="344" cy="154" r="6"/><circle cx="350" cy="160" r="6"/><circle cx="349" cy="166" r="6"/><circle cx="354" cy="170" r="6"/><circle cx="346" cy="177" r="6"/><circle cx="338" cy="186" r="6"/><circle cx="327" cy="183" r="6"/><circle cx="318" cy="190" r="6"/><circle cx="301" cy="189" r="6"/><circle cx="284" cy="181" r="6"/><circle cx="272" cy="182" r="6"/><circle cx="280" cy="178" r="6"/><circle cx="265" cy="182" r="6"/><circle cx="251" cy="178" r="6"/><circle cx="238" cy="180" r="6"/><circle cx="235" cy="176" r="6"/><circle cx="224" cy="180" r="6"/><circle cx="207" cy="176" r="6"/><circle cx="211" cy="187" r="6"/><circle cx="195" cy="183" r="6"/><circle cx="187" cy="187" r="6"/><circle cx="169" cy="188" r="6"/><circle cx="169" cy="187" r="6"/><circle cx="153" cy="180" r="6"/><circle cx="146" cy="188" r="6"/><circle cx="135" cy="183" r="6"/><circle cx="122" cy="177" r="6"/><circle cx="123" cy="171" r="6"/><circle cx="104" cy="174" r="6"/><circle cx="105" cy="158" r="6"/></g><polygon points="145,200 182,191 227,182 275,180 320,178 348,160 393,145 430,127 457,109 493,105 520,114 511,155 502,209 493,245 475,282 457,309 420,336 366,341 311,336 275,327 255,300 218,273 182,255 155,236" fill="#440154" stroke="#440154" stroke-width="6" stroke-linejoin="round" filter="url(#rough)"/><g fill="#440154" filter="url(#rough)"><circle cx="150" cy="202" r="6"/><circle cx="162" cy="201" r="6"/><circle cx="174" cy="200" r="6"/><circle cx="178" cy="185" r="6"/><circle cx="188" cy="183" r="6"/><circle cx="191" cy="186" r="6"/><circle cx="203" cy="185" r="6"/><circle cx="216" cy="189" r="6"/><circle cx="221" cy="179" r="6"/><circle cx="230" cy="178" r="6"/><circle cx="238" cy="182" r="6"/><circle cx="257" cy="175" r="6"/><circle cx="261" cy="177" r="6"/><circle cx="268" cy="176" r="6"/><circle cx="279" cy="181" r="6"/><circle cx="292" cy="176" r="6"/><circle cx="297" cy="179" r="6"/><circle cx="308" cy="180" r="6"/><circle cx="311" cy="181" r="6"/><circle cx="315" cy="178" r="6"/><circle cx="332" cy="171" r="6"/><circle cx="336" cy="169" r="6"/><circle cx="348" cy="153" r="6"/><circle cx="370" cy="156" r="6"/><circle cx="370" cy="151" r="6"/><circle cx="382" cy="147" r="6"/><circle cx="386" cy="142" r="6"/><circle cx="395" cy="147" r="6"/><circle cx="410" cy="142" r="6"/><circle cx="414" cy="131" r="6"/><circle cx="423" cy="127" r="6"/><circle cx="427" cy="118" r="6"/><circle cx="446" cy="116" r="6"/><circle cx="456" cy="112" r="6"/><circle cx="463" cy="112" r="6"/><circle cx="468" cy="112" r="6"/><circle cx="475" cy="106" r="6"/><circle cx="486" cy="100" r="6"/><circle cx="500" cy="111" r="6"/><circle cx="502" cy="102" r="6"/><circle cx="515" cy="116" r="6"/><circle cx="522" cy="124" r="6"/><circle cx="521" cy="125" r="6"/><circle cx="520" cy="141" r="6"/><circle cx="518" cy="147" r="6"/><circle cx="515" cy="155" r="6"/><circle cx="510" cy="164" r="6"/><circle cx="505" cy="181" r="6"/><circle cx="501" cy="185" r="6"/><circle cx="498" cy="191" r="6"/><circle cx="500" cy="197" r="6"/><circle cx="503" cy="208" r="6"/><circle cx="495" cy="226" r="6"/><circle cx="501" cy="233" r="6"/><circle cx="500" cy="244" r="6"/><circle cx="485" cy="253" r="6"/><circle cx="478" cy="266" r="6"/><circle cx="484" cy="266" r="6"/><circle cx="472" cy="266" r="6"/><circle cx="472" cy="287" r="6"/><circle cx="473" cy="289" r="6"/><circle cx="465" cy="296" r="6"/><circle cx="452" cy="315" r="6"/><circle cx="450" cy="316" r="6"/><circle cx="432" cy="326" r="6"/><circle cx="437" cy="324" r="6"/><circle cx="424" cy="330" r="6"/><circle cx="417" cy="331" r="6"/><circle cx="404" cy="337" r="6"/><circle cx="388" cy="338" r="6"/><circle cx="384" cy="340" r="6"/><circle cx="386" cy="342" r="6"/><circle cx="372" cy="343" r="6"/><circle cx="364" cy="338" r="6"/><circle cx="342" cy="342" r="6"/><circle cx="344" cy="341" r="6"/><circle cx="339" cy="336" r="6"/><circle cx="314" cy="332" r="6"/><circle cx="316" cy="330" r="6"/><circle cx="303" cy="331" r="6"/><circle cx="300" cy="329" r="6"/><circle cx="294" cy="332" r="6"/><circle cx="286" cy="332" r="6"/><circle cx="266" cy="314" r="6"/><circle cx="265" cy="307" r="6"/><circle cx="259" cy="313" r="6"/><circle cx="247" cy="299" r="6"/><circle cx="236" cy="288" r="6"/><circle cx="240" cy="287" r="6"/><circle cx="221" cy="281" r="6"/><circle cx="219" cy="274" r="6"/><circle cx="214" cy="270" r="6"/><circle cx="205" cy="260" r="6"/><circle cx="198" cy="266" r="6"/><circle cx="186" cy="259" r="6"/><circle cx="172" cy="247" r="6"/><circle cx="175" cy="246" r="6"/><circle cx="160" cy="238" r="6"/><circle cx="148" cy="232" r="6"/><circle cx="154" cy="221" r="6"/><circle cx="143" cy="220" r="6"/><circle cx="148" cy="215" r="6"/></g><polygon points="91,209 120,205 136,225 136,255 110,258 92,240" fill="#fde725" stroke="#fde725" stroke-width="6" stroke-linejoin="round" filter="url(#rough)"/><g fill="#fde725" filter="url(#rough)"><circle cx="102" cy="215" r="6"/><circle cx="112" cy="209" r="6"/><circle cx="118" cy="205" r="6"/><circle cx="126" cy="210" r="6"/><circle cx="139" cy="225" r="6"/><circle cx="137" cy="230" r="6"/><circle cx="137" cy="235" r="6"/><circle cx="132" cy="248" r="6"/><circle cx="127" cy="260" r="6"/><circle cx="110" cy="258" r="6"/><circle cx="100" cy="247" r="6"/><circle cx="100" cy="255" r="6"/><circle cx="89" cy="225" r="6"/><circle cx="89" cy="214" r="6"/><circle cx="89" cy="214" r="6"/></g><polygon points="209,227 230,225 262,262 264,282 245,285 215,255" fill="#fde725" stroke="#fde725" stroke-width="6" stroke-linejoin="round" filter="url(#rough)"/><g fill="#fde725" filter="url(#rough)"><circle cx="218" cy="221" r="6"/><circle cx="219" cy="231" r="6"/><circle cx="240" cy="233" r="6"/><circle cx="232" cy="230" r="6"/><circle cx="248" cy="246" r="6"/><circle cx="250" cy="246" r="6"/><circle cx="261" cy="255" r="6"/><circle cx="261" cy="257" r="6"/><circle cx="267" cy="280" r="6"/><circle cx="268" cy="287" r="6"/><circle cx="249" cy="285" r="6"/><circle cx="234" cy="287" r="6"/><circle cx="227" cy="266" r="6"/><circle cx="228" cy="267" r="6"/><circle cx="224" cy="257" r="6"/><circle cx="215" cy="260" r="6"/><circle cx="211" cy="251" r="6"/><circle cx="217" cy="234" r="6"/></g><polygon points="59,125 75,123 76,135 60,137" fill="#fde725" stroke="#fde725" stroke-width="6" stroke-linejoin="round" filter="url(#rough)"/><g fill="#fde725" filter="url(#rough)"><circle cx="59" cy="124" r="6"/><circle cx="74" cy="125" r="6"/><circle cx="57" cy="137" r="6"/><circle cx="61" cy="135" r="6"/></g><circle cx="488" cy="141" r="5.5" fill="#fde725"/><circle cx="409" cy="228" r="5.5" fill="#fde725"/><circle cx="390" cy="181" r="5.5" fill="#fde725"/><circle cx="357" cy="235" r="5.5" fill="#fde725"/><circle cx="351" cy="177" r="5.5" fill="#fde725"/><circle cx="418" cy="213" r="5.5" fill="#fde725"/><circle cx="388" cy="191" r="5.5" fill="#fde725"/><circle cx="357" cy="146" r="5.5" fill="#fde725"/><circle cx="343" cy="185" r="5.5" fill="#fde725"/><circle cx="426" cy="194" r="5.5" fill="#fde725"/><circle cx="489" cy="157" r="5.5" fill="#fde725"/><circle cx="388" cy="176" r="5.5" fill="#fde725"/><circle cx="491" cy="157" r="5.5" fill="#fde725"/><circle cx="379" cy="171" r="5.5" fill="#fde725"/><circle cx="447" cy="154" r="5.5" fill="#fde725"/><circle cx="359" cy="208" r="5.5" fill="#fde725"/><circle cx="428" cy="189" r="5.5" fill="#fde725"/><circle cx="332" cy="150" r="5.5" fill="#fde725"/><circle cx="252" cy="152" r="5.5" fill="#440154"/><circle cx="317" cy="159" r="5.5" fill="#440154"/><circle cx="202" cy="170" r="5.5" fill="#440154"/><circle cx="200" cy="165" r="5.5" fill="#440154"/><circle cx="308" cy="164" r="5.5" fill="#440154"/><circle cx="221" cy="174" r="5.5" fill="#440154"/><circle cx="312" cy="153" r="5.5" fill="#440154"/><circle cx="228" cy="167" r="5.5" fill="#440154"/><circle cx="330" cy="282" r="5" fill="#fde725"/><circle cx="275" cy="291" r="5" fill="#fde725"/><circle cx="366" cy="218" r="5" fill="#fde725"/><circle cx="339" cy="227" r="5" fill="#fde725"/><circle cx="270" cy="25" r="5" fill="#31688e"/><circle cx="290" cy="40" r="5" fill="#31688e"/><circle cx="109" cy="341" r="5" fill="#35b779"/><circle cx="155" cy="280" r="5" fill="#35b779"/><circle cx="182" cy="314" r="5" fill="#440154"/><circle cx="290" cy="330" r="5" fill="#440154"/>
</g></g></g>
<rect x="300.4" y="97.3" width="107.5" height="69.4" fill="none" stroke="#a6a6a6" stroke-width="0.9"/>
<line x1="298.4" y1="153.15" x2="300.4" y2="153.15" stroke="#707070" stroke-width="0.7"/>
<text x="296.8" y="153.35" font-size="6.3" text-anchor="end" dominant-baseline="central">5</text>
<line x1="298.4" y1="129.96" x2="300.4" y2="129.96" stroke="#707070" stroke-width="0.7"/>
<text x="296.8" y="130.16" font-size="6.3" text-anchor="end" dominant-baseline="central">10</text>
<line x1="298.4" y1="106.76" x2="300.4" y2="106.76" stroke="#707070" stroke-width="0.7"/>
<text x="296.8" y="106.96" font-size="6.3" text-anchor="end" dominant-baseline="central">15</text>
<text x="283.5" y="133.1" font-size="7.1" text-anchor="middle" dominant-baseline="central" transform="rotate(-90 283.5 133.1)">Yield (t/ha)</text>
<line x1="308.9" y1="166.7" x2="308.9" y2="168.7" stroke="#707070" stroke-width="0.7"/>
<text x="308.9" y="173.2" font-size="5.5" text-anchor="middle" dominant-baseline="central">7.4</text>
<line x1="340.1" y1="166.7" x2="340.1" y2="168.7" stroke="#707070" stroke-width="0.7"/>
<text x="340.1" y="173.2" font-size="5.5" text-anchor="middle" dominant-baseline="central">7.6</text>
<line x1="371.6" y1="166.7" x2="371.6" y2="168.7" stroke="#707070" stroke-width="0.7"/>
<text x="371.6" y="173.2" font-size="5.5" text-anchor="middle" dominant-baseline="central">7.8</text>
<line x1="403" y1="166.7" x2="403" y2="168.7" stroke="#707070" stroke-width="0.7"/>
<text x="403" y="173.2" font-size="5.5" text-anchor="middle" dominant-baseline="central">8.0</text>
<text x="353.4" y="180.3" font-size="7.313" text-anchor="middle" dominant-baseline="central">pH</text>
<clipPath id="cd13"><rect x="437.5" y="97.3" width="107" height="69.4"/></clipPath>
<g clip-path="url(#cd13)"><g transform="translate(436 95) scale(0.2)"><g>
<polygon points="182,100 218,85 275,73 320,68 366,73 393,68 420,91 457,109 493,118 520,123 484,136 448,145 420,164 402,182 393,209 375,236 348,264 320,273 293,282 275,282 255,260 230,230 209,200 190,160 182,118" fill="#35b779" stroke="#35b779" stroke-width="6" stroke-linejoin="round" filter="url(#rough)"/><g fill="#35b779" filter="url(#rough)"><circle cx="180" cy="106" r="6"/><circle cx="194" cy="92" r="6"/><circle cx="199" cy="87" r="6"/><circle cx="204" cy="91" r="6"/><circle cx="233" cy="79" r="6"/><circle cx="229" cy="75" r="6"/><circle cx="253" cy="77" r="6"/><circle cx="245" cy="81" r="6"/><circle cx="272" cy="82" r="6"/><circle cx="270" cy="72" r="6"/><circle cx="274" cy="73" r="6"/><circle cx="284" cy="71" r="6"/><circle cx="296" cy="77" r="6"/><circle cx="309" cy="63" r="6"/><circle cx="323" cy="73" r="6"/><circle cx="329" cy="68" r="6"/><circle cx="333" cy="70" r="6"/><circle cx="348" cy="76" r="6"/><circle cx="358" cy="67" r="6"/><circle cx="367" cy="76" r="6"/><circle cx="369" cy="75" r="6"/><circle cx="381" cy="69" r="6"/><circle cx="386" cy="66" r="6"/><circle cx="403" cy="73" r="6"/><circle cx="403" cy="82" r="6"/><circle cx="413" cy="88" r="6"/><circle cx="423" cy="98" r="6"/><circle cx="436" cy="95" r="6"/><circle cx="438" cy="106" r="6"/><circle cx="455" cy="110" r="6"/><circle cx="458" cy="110" r="6"/><circle cx="475" cy="111" r="6"/><circle cx="476" cy="121" r="6"/><circle cx="495" cy="122" r="6"/><circle cx="498" cy="113" r="6"/><circle cx="507" cy="123" r="6"/><circle cx="524" cy="126" r="6"/><circle cx="521" cy="117" r="6"/><circle cx="499" cy="124" r="6"/><circle cx="492" cy="131" r="6"/><circle cx="481" cy="134" r="6"/><circle cx="478" cy="141" r="6"/><circle cx="473" cy="139" r="6"/><circle cx="455" cy="141" r="6"/><circle cx="447" cy="139" r="6"/><circle cx="444" cy="153" r="6"/><circle cx="433" cy="154" r="6"/><circle cx="432" cy="158" r="6"/><circle cx="422" cy="169" r="6"/><circle cx="405" cy="182" r="6"/><circle cx="399" cy="183" r="6"/><circle cx="394" cy="195" r="6"/><circle cx="395" cy="210" r="6"/><circle cx="385" cy="219" r="6"/><circle cx="384" cy="214" r="6"/><circle cx="376" cy="223" r="6"/><circle cx="375" cy="245" r="6"/><circle cx="367" cy="241" r="6"/><circle cx="358" cy="248" r="6"/><circle cx="344" cy="268" r="6"/><circle cx="343" cy="270" r="6"/><circle cx="329" cy="273" r="6"/><circle cx="321" cy="266" r="6"/><circle cx="312" cy="273" r="6"/><circle cx="305" cy="277" r="6"/><circle cx="302" cy="278" r="6"/><circle cx="287" cy="288" r="6"/><circle cx="286" cy="276" r="6"/><circle cx="268" cy="283" r="6"/><circle cx="269" cy="276" r="6"/><circle cx="260" cy="263" r="6"/><circle cx="249" cy="251" r="6"/><circle cx="240" cy="247" r="6"/><circle cx="243" cy="243" r="6"/><circle cx="240" cy="232" r="6"/><circle cx="233" cy="222" r="6"/><circle cx="216" cy="214" r="6"/><circle cx="215" cy="206" r="6"/><circle cx="209" cy="194" r="6"/><circle cx="199" cy="199" r="6"/><circle cx="207" cy="179" r="6"/><circle cx="196" cy="169" r="6"/><circle cx="184" cy="164" r="6"/><circle cx="185" cy="145" r="6"/><circle cx="190" cy="136" r="6"/><circle cx="185" cy="137" r="6"/><circle cx="182" cy="134" r="6"/><circle cx="188" cy="111" r="6"/><circle cx="180" cy="106" r="6"/></g><polygon points="164,82 191,50 200,27 209,50 245,59 275,62 320,68 320,100 275,109 218,118 182,100" fill="#31688e" stroke="#31688e" stroke-width="6" stroke-linejoin="round" filter="url(#rough)"/><g fill="#31688e" filter="url(#rough)"><circle cx="173" cy="80" r="6"/><circle cx="170" cy="67" r="6"/><circle cx="180" cy="54" r="6"/><circle cx="179" cy="55" r="6"/><circle cx="188" cy="46" r="6"/><circle cx="203" cy="30" r="6"/><circle cx="205" cy="39" r="6"/><circle cx="213" cy="48" r="6"/><circle cx="210" cy="45" r="6"/><circle cx="227" cy="52" r="6"/><circle cx="235" cy="62" r="6"/><circle cx="242" cy="52" r="6"/><circle cx="244" cy="65" r="6"/><circle cx="258" cy="61" r="6"/><circle cx="277" cy="58" r="6"/><circle cx="276" cy="60" r="6"/><circle cx="293" cy="58" r="6"/><circle cx="303" cy="70" r="6"/><circle cx="308" cy="72" r="6"/><circle cx="316" cy="67" r="6"/><circle cx="321" cy="66" r="6"/><circle cx="315" cy="87" r="6"/><circle cx="317" cy="86" r="6"/><circle cx="317" cy="94" r="6"/><circle cx="305" cy="103" r="6"/><circle cx="289" cy="103" r="6"/><circle cx="296" cy="105" r="6"/><circle cx="287" cy="104" r="6"/><circle cx="276" cy="110" r="6"/><circle cx="257" cy="117" r="6"/><circle cx="249" cy="113" r="6"/><circle cx="245" cy="112" r="6"/><circle cx="227" cy="116" r="6"/><circle cx="227" cy="113" r="6"/><circle cx="224" cy="118" r="6"/><circle cx="205" cy="118" r="6"/><circle cx="192" cy="107" r="6"/><circle cx="181" cy="103" r="6"/><circle cx="176" cy="102" r="6"/><circle cx="171" cy="88" r="6"/></g><polygon points="245,125 280,118 310,128 330,150 320,185 295,195 265,180 250,155" fill="#31688e" stroke="#31688e" stroke-width="6" stroke-linejoin="round" filter="url(#rough)"/><g fill="#31688e" filter="url(#rough)"><circle cx="250" cy="124" r="6"/><circle cx="265" cy="127" r="6"/><circle cx="274" cy="124" r="6"/><circle cx="291" cy="121" r="6"/><circle cx="285" cy="128" r="6"/><circle cx="304" cy="130" r="6"/><circle cx="313" cy="139" r="6"/><circle cx="319" cy="136" r="6"/><circle cx="333" cy="143" r="6"/><circle cx="335" cy="162" r="6"/><circle cx="333" cy="157" r="6"/><circle cx="325" cy="176" r="6"/><circle cx="318" cy="190" r="6"/><circle cx="311" cy="186" r="6"/><circle cx="305" cy="193" r="6"/><circle cx="284" cy="190" r="6"/><circle cx="272" cy="179" r="6"/><circle cx="275" cy="187" r="6"/><circle cx="268" cy="181" r="6"/><circle cx="258" cy="159" r="6"/><circle cx="250" cy="160" r="6"/><circle cx="250" cy="144" r="6"/><circle cx="252" cy="147" r="6"/><circle cx="239" cy="127" r="6"/></g><circle cx="295" cy="174" r="5.5" fill="#31688e"/><circle cx="285" cy="124" r="5.5" fill="#31688e"/><circle cx="249" cy="123" r="5.5" fill="#31688e"/><circle cx="302" cy="198" r="5.5" fill="#31688e"/><circle cx="369" cy="142" r="5.5" fill="#31688e"/><circle cx="268" cy="142" r="5.5" fill="#31688e"/><circle cx="272" cy="118" r="5.5" fill="#31688e"/><circle cx="391" cy="152" r="5.5" fill="#31688e"/><circle cx="353" cy="130" r="5.5" fill="#31688e"/><circle cx="265" cy="130" r="5.5" fill="#31688e"/><circle cx="365" cy="161" r="5.5" fill="#31688e"/><circle cx="300" cy="147" r="5.5" fill="#31688e"/><circle cx="252" cy="130" r="5.5" fill="#31688e"/><circle cx="290" cy="150" r="5.5" fill="#31688e"/><circle cx="324" cy="168" r="5.5" fill="#31688e"/><circle cx="384" cy="135" r="5.5" fill="#31688e"/><circle cx="256" cy="136" r="5.5" fill="#31688e"/><circle cx="277" cy="169" r="5.5" fill="#31688e"/><circle cx="321" cy="139" r="5.5" fill="#31688e"/><circle cx="346" cy="175" r="5.5" fill="#31688e"/><circle cx="359" cy="203" r="5.5" fill="#31688e"/><circle cx="246" cy="123" r="5.5" fill="#31688e"/><polygon points="32,127 45,109 73,100 91,91 118,95 136,109 130,130 150,160 180,190 215,212 240,235 265,250 285,262 289,270 289,309 275,300 255,318 227,336 182,341 136,336 91,318 73,300 64,273 55,245 45,218 32,180" fill="#440154" stroke="#440154" stroke-width="6" stroke-linejoin="round" filter="url(#rough)"/><g fill="#440154" filter="url(#rough)"><circle cx="27" cy="126" r="6"/><circle cx="39" cy="111" r="6"/><circle cx="50" cy="114" r="6"/><circle cx="61" cy="100" r="6"/><circle cx="66" cy="103" r="6"/><circle cx="83" cy="97" r="6"/><circle cx="84" cy="88" r="6"/><circle cx="93" cy="91" r="6"/><circle cx="113" cy="90" r="6"/><circle cx="109" cy="94" r="6"/><circle cx="126" cy="107" r="6"/><circle cx="127" cy="108" r="6"/><circle cx="135" cy="114" r="6"/><circle cx="128" cy="122" r="6"/><circle cx="136" cy="131" r="6"/><circle cx="132" cy="137" r="6"/><circle cx="144" cy="158" r="6"/><circle cx="148" cy="162" r="6"/><circle cx="158" cy="161" r="6"/><circle cx="168" cy="170" r="6"/><circle cx="168" cy="180" r="6"/><circle cx="175" cy="188" r="6"/><circle cx="186" cy="201" r="6"/><circle cx="194" cy="205" r="6"/><circle cx="200" cy="202" r="6"/><circle cx="210" cy="210" r="6"/><circle cx="217" cy="217" r="6"/><circle cx="230" cy="225" r="6"/><circle cx="244" cy="232" r="6"/><circle cx="240" cy="232" r="6"/><circle cx="251" cy="242" r="6"/><circle cx="257" cy="244" r="6"/><circle cx="266" cy="249" r="6"/><circle cx="285" cy="262" r="6"/><circle cx="286" cy="268" r="6"/><circle cx="290" cy="281" r="6"/><circle cx="285" cy="277" r="6"/><circle cx="285" cy="301" r="6"/><circle cx="288" cy="299" r="6"/><circle cx="284" cy="315" r="6"/><circle cx="277" cy="303" r="6"/><circle cx="262" cy="321" r="6"/><circle cx="254" cy="322" r="6"/><circle cx="236" cy="326" r="6"/><circle cx="236" cy="332" r="6"/><circle cx="231" cy="332" r="6"/><circle cx="215" cy="334" r="6"/><circle cx="210" cy="334" r="6"/><circle cx="204" cy="343" r="6"/><circle cx="186" cy="344" r="6"/><circle cx="177" cy="337" r="6"/><circle cx="168" cy="338" r="6"/><circle cx="160" cy="342" r="6"/><circle cx="156" cy="338" r="6"/><circle cx="144" cy="339" r="6"/><circle cx="132" cy="335" r="6"/><circle cx="120" cy="329" r="6"/><circle cx="109" cy="327" r="6"/><circle cx="109" cy="323" r="6"/><circle cx="85" cy="323" r="6"/><circle cx="85" cy="318" r="6"/><circle cx="77" cy="305" r="6"/><circle cx="65" cy="288" r="6"/><circle cx="61" cy="280" r="6"/><circle cx="65" cy="282" r="6"/><circle cx="65" cy="273" r="6"/><circle cx="61" cy="257" r="6"/><circle cx="51" cy="256" r="6"/><circle cx="46" cy="242" r="6"/><circle cx="45" cy="236" r="6"/><circle cx="52" cy="220" r="6"/><circle cx="49" cy="214" r="6"/><circle cx="38" cy="194" r="6"/><circle cx="43" cy="195" r="6"/><circle cx="40" cy="189" r="6"/><circle cx="36" cy="178" r="6"/><circle cx="35" cy="156" r="6"/><circle cx="33" cy="148" r="6"/><circle cx="33" cy="138" r="6"/><circle cx="34" cy="132" r="6"/></g><polygon points="100,155 118,127 145,109 164,86 182,100 200,136 209,182 227,209 218,218 182,209 145,191 118,182" fill="#fde725" stroke="#fde725" stroke-width="6" stroke-linejoin="round" filter="url(#rough)"/><g fill="#fde725" filter="url(#rough)"><circle cx="108" cy="141" r="6"/><circle cx="106" cy="141" r="6"/><circle cx="114" cy="133" r="6"/><circle cx="123" cy="125" r="6"/><circle cx="131" cy="117" r="6"/><circle cx="142" cy="105" r="6"/><circle cx="148" cy="99" r="6"/><circle cx="150" cy="95" r="6"/><circle cx="165" cy="85" r="6"/><circle cx="174" cy="88" r="6"/><circle cx="183" cy="95" r="6"/><circle cx="188" cy="102" r="6"/><circle cx="195" cy="109" r="6"/><circle cx="195" cy="117" r="6"/><circle cx="203" cy="124" r="6"/><circle cx="201" cy="137" r="6"/><circle cx="201" cy="150" r="6"/><circle cx="202" cy="152" r="6"/><circle cx="206" cy="171" r="6"/><circle cx="201" cy="181" r="6"/><circle cx="208" cy="185" r="6"/><circle cx="218" cy="206" r="6"/><circle cx="232" cy="212" r="6"/><circle cx="230" cy="205" r="6"/><circle cx="216" cy="214" r="6"/><circle cx="204" cy="211" r="6"/><circle cx="193" cy="213" r="6"/><circle cx="179" cy="216" r="6"/><circle cx="179" cy="210" r="6"/><circle cx="173" cy="204" r="6"/><circle cx="161" cy="199" r="6"/><circle cx="150" cy="195" r="6"/><circle cx="139" cy="189" r="6"/><circle cx="125" cy="187" r="6"/><circle cx="122" cy="180" r="6"/><circle cx="117" cy="178" r="6"/><circle cx="100" cy="163" r="6"/><circle cx="101" cy="162" r="6"/></g><polygon points="284,136 310,135 320,160 315,182 288,180" fill="#fde725" stroke="#fde725" stroke-width="6" stroke-linejoin="round" filter="url(#rough)"/><g fill="#fde725" filter="url(#rough)"><circle cx="292" cy="138" r="6"/><circle cx="305" cy="133" r="6"/><circle cx="310" cy="134" r="6"/><circle cx="316" cy="145" r="6"/><circle cx="322" cy="159" r="6"/><circle cx="309" cy="187" r="6"/><circle cx="313" cy="184" r="6"/><circle cx="300" cy="182" r="6"/><circle cx="295" cy="181" r="6"/><circle cx="283" cy="167" r="6"/><circle cx="281" cy="160" r="6"/><circle cx="283" cy="153" r="6"/><circle cx="291" cy="144" r="6"/></g><polygon points="275,218 310,215 330,240 320,264 290,262" fill="#fde725" stroke="#fde725" stroke-width="6" stroke-linejoin="round" filter="url(#rough)"/><g fill="#fde725" filter="url(#rough)"><circle cx="281" cy="211" r="6"/><circle cx="296" cy="212" r="6"/><circle cx="313" cy="217" r="6"/><circle cx="313" cy="224" r="6"/><circle cx="321" cy="228" r="6"/><circle cx="324" cy="228" r="6"/><circle cx="334" cy="247" r="6"/><circle cx="329" cy="264" r="6"/><circle cx="313" cy="270" r="6"/><circle cx="303" cy="260" r="6"/><circle cx="292" cy="267" r="6"/><circle cx="291" cy="252" r="6"/><circle cx="280" cy="251" r="6"/><circle cx="279" cy="234" r="6"/><circle cx="277" cy="221" r="6"/><circle cx="273" cy="220" r="6"/></g><polygon points="236,264 260,262 264,290 245,300" fill="#fde725" stroke="#fde725" stroke-width="6" stroke-linejoin="round" filter="url(#rough)"/><g fill="#fde725" filter="url(#rough)"><circle cx="235" cy="265" r="6"/><circle cx="250" cy="266" r="6"/><circle cx="264" cy="268" r="6"/><circle cx="264" cy="280" r="6"/><circle cx="265" cy="291" r="6"/><circle cx="266" cy="286" r="6"/><circle cx="258" cy="296" r="6"/><circle cx="242" cy="296" r="6"/><circle cx="242" cy="287" r="6"/><circle cx="242" cy="282" r="6"/><circle cx="240" cy="270" r="6"/></g><circle cx="251" cy="150" r="5.5" fill="#fde725"/><circle cx="265" cy="175" r="5.5" fill="#fde725"/><circle cx="255" cy="198" r="5.5" fill="#fde725"/><circle cx="263" cy="147" r="5.5" fill="#fde725"/><circle cx="238" cy="171" r="5.5" fill="#fde725"/><circle cx="262" cy="138" r="5.5" fill="#fde725"/><circle cx="271" cy="156" r="5.5" fill="#fde725"/><circle cx="241" cy="140" r="5.5" fill="#fde725"/><circle cx="236" cy="138" r="5.5" fill="#fde725"/><circle cx="274" cy="171" r="5.5" fill="#fde725"/><circle cx="137" cy="155" r="5.5" fill="#440154"/><circle cx="154" cy="152" r="5.5" fill="#440154"/><circle cx="155" cy="154" r="5.5" fill="#440154"/><circle cx="151" cy="134" r="5.5" fill="#440154"/><circle cx="127" cy="138" r="5.5" fill="#440154"/><circle cx="141" cy="150" r="5.5" fill="#440154"/><circle cx="59" cy="77" r="5" fill="#440154"/><circle cx="59" cy="309" r="5" fill="#440154"/><circle cx="82" cy="314" r="5" fill="#440154"/><circle cx="345" cy="270" r="5" fill="#35b779"/><circle cx="265" cy="340" r="5" fill="#35b779"/><circle cx="380" cy="245" r="5" fill="#35b779"/><circle cx="200" cy="25" r="5" fill="#31688e"/>
</g></g></g>
<rect x="437.5" y="97.3" width="107" height="69.4" fill="none" stroke="#a6a6a6" stroke-width="0.9"/>
<line x1="435.5" y1="153.15" x2="437.5" y2="153.15" stroke="#707070" stroke-width="0.7"/>
<text x="433.9" y="153.35" font-size="6.3" text-anchor="end" dominant-baseline="central">5</text>
<line x1="435.5" y1="129.96" x2="437.5" y2="129.96" stroke="#707070" stroke-width="0.7"/>
<text x="433.9" y="130.16" font-size="6.3" text-anchor="end" dominant-baseline="central">10</text>
<line x1="435.5" y1="106.76" x2="437.5" y2="106.76" stroke="#707070" stroke-width="0.7"/>
<text x="433.9" y="106.96" font-size="6.3" text-anchor="end" dominant-baseline="central">15</text>
<text x="420.6" y="133.1" font-size="7.1" text-anchor="middle" dominant-baseline="central" transform="rotate(-90 420.6 133.1)">Yield (t/ha)</text>
<line x1="462.1" y1="166.7" x2="462.1" y2="168.7" stroke="#707070" stroke-width="0.7"/>
<text x="462.1" y="173.2" font-size="6.4" text-anchor="middle" dominant-baseline="central">60</text>
<line x1="489.7" y1="166.7" x2="489.7" y2="168.7" stroke="#707070" stroke-width="0.7"/>
<text x="489.7" y="173.2" font-size="6.4" text-anchor="middle" dominant-baseline="central">70</text>
<line x1="517.4" y1="166.7" x2="517.4" y2="168.7" stroke="#707070" stroke-width="0.7"/>
<text x="517.4" y="173.2" font-size="6.4" text-anchor="middle" dominant-baseline="central">80</text>
<text x="493.8" y="180.3" font-size="7.313" text-anchor="middle" dominant-baseline="central">Mg (mg/100g)</text>
<clipPath id="ce00"><rect x="28.9" y="212.6" width="107.3" height="69.6"/></clipPath>
<g clip-path="url(#ce00)"><g transform="translate(28 210) scale(0.2)"><g>
<polygon points="182,86 195,77 218,82 236,82 264,73 275,64 302,55 330,50 357,55 375,50 402,68 420,82 434,64 443,27 452,27 457,55 466,73 461,118 439,136 420,145 393,136 375,118 348,114 320,118 275,105 236,110 190,110" fill="#fde725" stroke="#fde725" stroke-width="6" stroke-linejoin="round" filter="url(#rough)"/><g fill="#fde725" filter="url(#rough)"><circle cx="189" cy="89" r="6"/><circle cx="204" cy="85" r="6"/><circle cx="218" cy="82" r="6"/><circle cx="220" cy="84" r="6"/><circle cx="231" cy="88" r="6"/><circle cx="239" cy="81" r="6"/><circle cx="239" cy="85" r="6"/><circle cx="267" cy="71" r="6"/><circle cx="264" cy="64" r="6"/><circle cx="279" cy="68" r="6"/><circle cx="285" cy="65" r="6"/><circle cx="291" cy="57" r="6"/><circle cx="305" cy="58" r="6"/><circle cx="323" cy="46" r="6"/><circle cx="329" cy="50" r="6"/><circle cx="327" cy="47" r="6"/><circle cx="353" cy="53" r="6"/><circle cx="346" cy="55" r="6"/><circle cx="369" cy="53" r="6"/><circle cx="370" cy="56" r="6"/><circle cx="380" cy="61" r="6"/><circle cx="388" cy="52" r="6"/><circle cx="392" cy="71" r="6"/><circle cx="400" cy="67" r="6"/><circle cx="408" cy="73" r="6"/><circle cx="426" cy="83" r="6"/><circle cx="433" cy="73" r="6"/><circle cx="442" cy="57" r="6"/><circle cx="444" cy="55" r="6"/><circle cx="443" cy="42" r="6"/><circle cx="446" cy="35" r="6"/><circle cx="445" cy="28" r="6"/><circle cx="446" cy="36" r="6"/><circle cx="460" cy="38" r="6"/><circle cx="463" cy="49" r="6"/><circle cx="462" cy="56" r="6"/><circle cx="460" cy="63" r="6"/><circle cx="464" cy="77" r="6"/><circle cx="464" cy="96" r="6"/><circle cx="459" cy="101" r="6"/><circle cx="458" cy="101" r="6"/><circle cx="466" cy="114" r="6"/><circle cx="461" cy="122" r="6"/><circle cx="448" cy="121" r="6"/><circle cx="436" cy="141" r="6"/><circle cx="436" cy="141" r="6"/><circle cx="429" cy="146" r="6"/><circle cx="413" cy="138" r="6"/><circle cx="403" cy="134" r="6"/><circle cx="407" cy="135" r="6"/><circle cx="390" cy="133" r="6"/><circle cx="383" cy="123" r="6"/><circle cx="378" cy="123" r="6"/><circle cx="366" cy="110" r="6"/><circle cx="342" cy="121" r="6"/><circle cx="342" cy="111" r="6"/><circle cx="342" cy="111" r="6"/><circle cx="323" cy="123" r="6"/><circle cx="318" cy="114" r="6"/><circle cx="308" cy="108" r="6"/><circle cx="297" cy="110" r="6"/><circle cx="285" cy="112" r="6"/><circle cx="280" cy="100" r="6"/><circle cx="267" cy="103" r="6"/><circle cx="259" cy="111" r="6"/><circle cx="257" cy="105" r="6"/><circle cx="248" cy="103" r="6"/><circle cx="237" cy="114" r="6"/><circle cx="219" cy="112" r="6"/><circle cx="213" cy="113" r="6"/><circle cx="202" cy="114" r="6"/><circle cx="192" cy="107" r="6"/><circle cx="184" cy="97" r="6"/><circle cx="181" cy="85" r="6"/></g><polygon points="86,125 290,123 290,140 86,140" fill="#440154" stroke="#440154" stroke-width="4" stroke-linejoin="round"/><polygon points="86,130 140,118 182,86 230,100 275,91 300,110 302,136 270,140 218,136 218,182 209,227 218,264 182,255 164,227 145,209 145,175 130,140 86,138" fill="#440154" stroke="#440154" stroke-width="6" stroke-linejoin="round" filter="url(#rough)"/><g fill="#440154" filter="url(#rough)"><circle cx="94" cy="124" r="6"/><circle cx="94" cy="128" r="6"/><circle cx="104" cy="120" r="6"/><circle cx="119" cy="127" r="6"/><circle cx="124" cy="117" r="6"/><circle cx="126" cy="116" r="6"/><circle cx="141" cy="107" r="6"/><circle cx="158" cy="113" r="6"/><circle cx="170" cy="100" r="6"/><circle cx="176" cy="97" r="6"/><circle cx="181" cy="86" r="6"/><circle cx="192" cy="92" r="6"/><circle cx="201" cy="87" r="6"/><circle cx="213" cy="91" r="6"/><circle cx="214" cy="97" r="6"/><circle cx="226" cy="101" r="6"/><circle cx="238" cy="102" r="6"/><circle cx="251" cy="92" r="6"/><circle cx="251" cy="99" r="6"/><circle cx="267" cy="89" r="6"/><circle cx="273" cy="89" r="6"/><circle cx="287" cy="90" r="6"/><circle cx="292" cy="99" r="6"/><circle cx="303" cy="108" r="6"/><circle cx="296" cy="117" r="6"/><circle cx="302" cy="121" r="6"/><circle cx="295" cy="130" r="6"/><circle cx="284" cy="141" r="6"/><circle cx="271" cy="134" r="6"/><circle cx="264" cy="137" r="6"/><circle cx="253" cy="144" r="6"/><circle cx="254" cy="134" r="6"/><circle cx="229" cy="142" r="6"/><circle cx="226" cy="141" r="6"/><circle cx="213" cy="149" r="6"/><circle cx="217" cy="150" r="6"/><circle cx="225" cy="157" r="6"/><circle cx="220" cy="171" r="6"/><circle cx="212" cy="172" r="6"/><circle cx="220" cy="184" r="6"/><circle cx="216" cy="204" r="6"/><circle cx="215" cy="204" r="6"/><circle cx="217" cy="211" r="6"/><circle cx="208" cy="220" r="6"/><circle cx="208" cy="224" r="6"/><circle cx="217" cy="236" r="6"/><circle cx="213" cy="254" r="6"/><circle cx="222" cy="256" r="6"/><circle cx="209" cy="268" r="6"/><circle cx="211" cy="255" r="6"/><circle cx="201" cy="265" r="6"/><circle cx="184" cy="251" r="6"/><circle cx="183" cy="252" r="6"/><circle cx="167" cy="235" r="6"/><circle cx="172" cy="240" r="6"/><circle cx="152" cy="225" r="6"/><circle cx="144" cy="209" r="6"/><circle cx="146" cy="202" r="6"/><circle cx="144" cy="191" r="6"/><circle cx="148" cy="182" r="6"/><circle cx="143" cy="174" r="6"/><circle cx="135" cy="156" r="6"/><circle cx="128" cy="153" r="6"/><circle cx="129" cy="142" r="6"/><circle cx="117" cy="135" r="6"/><circle cx="122" cy="133" r="6"/><circle cx="109" cy="141" r="6"/><circle cx="95" cy="143" r="6"/><circle cx="80" cy="133" r="6"/></g><polygon points="27,180 164,178 164,188 27,188" fill="#440154" stroke="#440154" stroke-width="3" stroke-linejoin="round"/><polygon points="23,230 155,229 155,238 23,238" fill="#440154" stroke="#440154" stroke-width="3" stroke-linejoin="round"/><polygon points="218,136 275,136 302,127 330,123 366,120 395,120 390,160 366,182 384,209 411,236 411,264 393,291 366,309 330,336 302,345 275,341 250,330 230,330 218,320 200,309 182,345 145,350 118,327 109,300 118,280 136,255 150,218 170,235 190,255 209,264 210,230 215,180" fill="#35b779" stroke="#35b779" stroke-width="6" stroke-linejoin="round" filter="url(#rough)"/><g fill="#35b779" filter="url(#rough)"><circle cx="216" cy="141" r="6"/><circle cx="233" cy="132" r="6"/><circle cx="232" cy="142" r="6"/><circle cx="248" cy="136" r="6"/><circle cx="256" cy="137" r="6"/><circle cx="273" cy="142" r="6"/><circle cx="275" cy="134" r="6"/><circle cx="286" cy="133" r="6"/><circle cx="301" cy="124" r="6"/><circle cx="299" cy="130" r="6"/><circle cx="317" cy="122" r="6"/><circle cx="332" cy="127" r="6"/><circle cx="342" cy="122" r="6"/><circle cx="343" cy="121" r="6"/><circle cx="343" cy="127" r="6"/><circle cx="358" cy="116" r="6"/><circle cx="366" cy="117" r="6"/><circle cx="381" cy="124" r="6"/><circle cx="383" cy="122" r="6"/><circle cx="393" cy="130" r="6"/><circle cx="386" cy="140" r="6"/><circle cx="390" cy="142" r="6"/><circle cx="390" cy="154" r="6"/><circle cx="387" cy="160" r="6"/><circle cx="380" cy="175" r="6"/><circle cx="367" cy="175" r="6"/><circle cx="377" cy="191" r="6"/><circle cx="380" cy="202" r="6"/><circle cx="377" cy="204" r="6"/><circle cx="392" cy="211" r="6"/><circle cx="394" cy="224" r="6"/><circle cx="404" cy="232" r="6"/><circle cx="405" cy="228" r="6"/><circle cx="413" cy="239" r="6"/><circle cx="404" cy="256" r="6"/><circle cx="418" cy="261" r="6"/><circle cx="409" cy="268" r="6"/><circle cx="398" cy="274" r="6"/><circle cx="400" cy="296" r="6"/><circle cx="389" cy="295" r="6"/><circle cx="372" cy="307" r="6"/><circle cx="364" cy="314" r="6"/><circle cx="361" cy="314" r="6"/><circle cx="360" cy="318" r="6"/><circle cx="358" cy="318" r="6"/><circle cx="342" cy="327" r="6"/><circle cx="342" cy="337" r="6"/><circle cx="336" cy="338" r="6"/><circle cx="315" cy="342" r="6"/><circle cx="311" cy="345" r="6"/><circle cx="298" cy="346" r="6"/><circle cx="292" cy="348" r="6"/><circle cx="280" cy="347" r="6"/><circle cx="270" cy="344" r="6"/><circle cx="265" cy="334" r="6"/><circle cx="252" cy="330" r="6"/><circle cx="237" cy="334" r="6"/><circle cx="226" cy="333" r="6"/><circle cx="229" cy="321" r="6"/><circle cx="218" cy="324" r="6"/><circle cx="205" cy="316" r="6"/><circle cx="201" cy="321" r="6"/><circle cx="193" cy="326" r="6"/><circle cx="190" cy="334" r="6"/><circle cx="176" cy="345" r="6"/><circle cx="172" cy="352" r="6"/><circle cx="170" cy="353" r="6"/><circle cx="150" cy="350" r="6"/><circle cx="144" cy="350" r="6"/><circle cx="149" cy="344" r="6"/><circle cx="140" cy="337" r="6"/><circle cx="120" cy="332" r="6"/><circle cx="121" cy="317" r="6"/><circle cx="117" cy="317" r="6"/><circle cx="103" cy="307" r="6"/><circle cx="113" cy="301" r="6"/><circle cx="117" cy="273" r="6"/><circle cx="123" cy="285" r="6"/><circle cx="133" cy="264" r="6"/><circle cx="130" cy="268" r="6"/><circle cx="134" cy="253" r="6"/><circle cx="149" cy="238" r="6"/><circle cx="149" cy="234" r="6"/><circle cx="149" cy="224" r="6"/><circle cx="150" cy="222" r="6"/><circle cx="164" cy="232" r="6"/><circle cx="173" cy="237" r="6"/><circle cx="176" cy="247" r="6"/><circle cx="182" cy="248" r="6"/><circle cx="198" cy="266" r="6"/><circle cx="200" cy="266" r="6"/><circle cx="214" cy="255" r="6"/><circle cx="210" cy="252" r="6"/><circle cx="207" cy="227" r="6"/><circle cx="211" cy="227" r="6"/><circle cx="211" cy="224" r="6"/><circle cx="216" cy="202" r="6"/><circle cx="211" cy="188" r="6"/><circle cx="209" cy="174" r="6"/><circle cx="210" cy="178" r="6"/><circle cx="217" cy="170" r="6"/><circle cx="219" cy="157" r="6"/><circle cx="217" cy="146" r="6"/></g><polygon points="366,164 384,136 411,100 430,91 457,82 484,68 502,73 516,91 520,136 516,182 502,200 484,218 466,236 448,255 430,264 420,245 402,227 384,209 366,191" fill="#31688e" stroke="#31688e" stroke-width="6" stroke-linejoin="round" filter="url(#rough)"/><g fill="#31688e" filter="url(#rough)"><circle cx="368" cy="160" r="6"/><circle cx="376" cy="149" r="6"/><circle cx="387" cy="132" r="6"/><circle cx="381" cy="137" r="6"/><circle cx="395" cy="118" r="6"/><circle cx="400" cy="115" r="6"/><circle cx="402" cy="117" r="6"/><circle cx="417" cy="100" r="6"/><circle cx="424" cy="100" r="6"/><circle cx="417" cy="91" r="6"/><circle cx="431" cy="94" r="6"/><circle cx="448" cy="90" r="6"/><circle cx="444" cy="80" r="6"/><circle cx="468" cy="85" r="6"/><circle cx="467" cy="69" r="6"/><circle cx="477" cy="69" r="6"/><circle cx="490" cy="65" r="6"/><circle cx="504" cy="68" r="6"/><circle cx="508" cy="72" r="6"/><circle cx="515" cy="80" r="6"/><circle cx="517" cy="97" r="6"/><circle cx="518" cy="108" r="6"/><circle cx="523" cy="115" r="6"/><circle cx="520" cy="133" r="6"/><circle cx="516" cy="132" r="6"/><circle cx="514" cy="144" r="6"/><circle cx="519" cy="151" r="6"/><circle cx="512" cy="168" r="6"/><circle cx="521" cy="167" r="6"/><circle cx="510" cy="175" r="6"/><circle cx="509" cy="182" r="6"/><circle cx="504" cy="198" r="6"/><circle cx="490" cy="212" r="6"/><circle cx="484" cy="207" r="6"/><circle cx="477" cy="221" r="6"/><circle cx="462" cy="235" r="6"/><circle cx="466" cy="236" r="6"/><circle cx="454" cy="247" r="6"/><circle cx="437" cy="263" r="6"/><circle cx="437" cy="265" r="6"/><circle cx="423" cy="256" r="6"/><circle cx="425" cy="259" r="6"/><circle cx="408" cy="239" r="6"/><circle cx="400" cy="233" r="6"/><circle cx="391" cy="217" r="6"/><circle cx="399" cy="220" r="6"/><circle cx="380" cy="202" r="6"/><circle cx="369" cy="201" r="6"/><circle cx="369" cy="186" r="6"/><circle cx="364" cy="185" r="6"/><circle cx="364" cy="166" r="6"/></g><polygon points="311,140 330,136 348,155 348,200 325,200 311,175" fill="#fde725" stroke="#fde725" stroke-width="6" stroke-linejoin="round" filter="url(#rough)"/><g fill="#fde725" filter="url(#rough)"><circle cx="307" cy="142" r="6"/><circle cx="327" cy="142" r="6"/><circle cx="329" cy="132" r="6"/><circle cx="346" cy="150" r="6"/><circle cx="349" cy="157" r="6"/><circle cx="344" cy="165" r="6"/><circle cx="343" cy="176" r="6"/><circle cx="346" cy="185" r="6"/><circle cx="343" cy="201" r="6"/><circle cx="342" cy="194" r="6"/><circle cx="333" cy="198" r="6"/><circle cx="325" cy="193" r="6"/><circle cx="319" cy="186" r="6"/><circle cx="313" cy="170" r="6"/><circle cx="306" cy="174" r="6"/><circle cx="304" cy="148" r="6"/><circle cx="316" cy="145" r="6"/></g><circle cx="295" cy="97" r="5.5" fill="#440154"/><circle cx="298" cy="93" r="5.5" fill="#440154"/><circle cx="293" cy="116" r="5.5" fill="#440154"/><circle cx="300" cy="124" r="5.5" fill="#440154"/><circle cx="284" cy="91" r="5.5" fill="#440154"/><circle cx="285" cy="78" r="5.5" fill="#440154"/><circle cx="274" cy="101" r="5.5" fill="#440154"/><circle cx="285" cy="105" r="5.5" fill="#440154"/><circle cx="330" cy="100" r="5" fill="#440154"/><circle cx="366" cy="109" r="5" fill="#440154"/><circle cx="348" cy="91" r="5" fill="#440154"/><circle cx="241" cy="318" r="5" fill="#440154"/><circle cx="273" cy="273" r="5" fill="#440154"/><circle cx="235" cy="80" r="5" fill="#440154"/><circle cx="475" cy="50" r="5" fill="#31688e"/><circle cx="420" cy="273" r="5" fill="#31688e"/><circle cx="384" cy="336" r="5" fill="#35b779"/><circle cx="305" cy="345" r="5" fill="#35b779"/><circle cx="445" cy="25" r="5" fill="#fde725"/>
</g></g></g>
<rect x="28.9" y="212.6" width="107.3" height="69.6" fill="none" stroke="#a6a6a6" stroke-width="0.9"/>
<line x1="26.9" y1="268.61" x2="28.9" y2="268.61" stroke="#707070" stroke-width="0.7"/>
<text x="25.3" y="268.81" font-size="6.3" text-anchor="end" dominant-baseline="central">5</text>
<line x1="26.9" y1="245.35" x2="28.9" y2="245.35" stroke="#707070" stroke-width="0.7"/>
<text x="25.3" y="245.55" font-size="6.3" text-anchor="end" dominant-baseline="central">10</text>
<line x1="26.9" y1="222.09" x2="28.9" y2="222.09" stroke="#707070" stroke-width="0.7"/>
<text x="25.3" y="222.29" font-size="6.3" text-anchor="end" dominant-baseline="central">15</text>
<text x="12" y="248.5" font-size="7.1" text-anchor="middle" dominant-baseline="central" transform="rotate(-90 12 248.5)">Yield (t/ha)</text>
<line x1="49.4" y1="282.2" x2="49.4" y2="284.2" stroke="#707070" stroke-width="0.7"/>
<text x="49.4" y="289.4" font-size="6.3" text-anchor="middle" dominant-baseline="central">0.5</text>
<line x1="88.4" y1="282.2" x2="88.4" y2="284.2" stroke="#707070" stroke-width="0.7"/>
<text x="88.4" y="289.4" font-size="6.3" text-anchor="middle" dominant-baseline="central">0.6</text>
<line x1="127.4" y1="282.2" x2="127.4" y2="284.2" stroke="#707070" stroke-width="0.7"/>
<text x="127.4" y="289.4" font-size="6.3" text-anchor="middle" dominant-baseline="central">0.7</text>
<text x="83" y="297.5" font-size="7.1" text-anchor="middle" dominant-baseline="central">NDVI</text>
<clipPath id="ce01"><rect x="165.5" y="212.6" width="107.2" height="69.6"/></clipPath>
<g clip-path="url(#ce01)"><g transform="translate(164 210) scale(0.2)"><g>
<polygon points="27,127 55,109 91,100 118,91 140,110 160,160 173,210 200,230 227,240 255,235 275,215 302,205 330,236 348,264 339,291 320,309 293,318 275,327 236,336 209,345 164,350 109,345 82,318 91,291 109,264 91,236 100,209 82,182 55,155 27,136" fill="#35b779" stroke="#35b779" stroke-width="6" stroke-linejoin="round" filter="url(#rough)"/><g fill="#35b779" filter="url(#rough)"><circle cx="30" cy="131" r="6"/><circle cx="34" cy="118" r="6"/><circle cx="45" cy="120" r="6"/><circle cx="60" cy="114" r="6"/><circle cx="66" cy="108" r="6"/><circle cx="75" cy="97" r="6"/><circle cx="87" cy="95" r="6"/><circle cx="102" cy="104" r="6"/><circle cx="110" cy="89" r="6"/><circle cx="119" cy="95" r="6"/><circle cx="124" cy="101" r="6"/><circle cx="128" cy="105" r="6"/><circle cx="140" cy="111" r="6"/><circle cx="142" cy="115" r="6"/><circle cx="142" cy="124" r="6"/><circle cx="156" cy="143" r="6"/><circle cx="150" cy="146" r="6"/><circle cx="156" cy="154" r="6"/><circle cx="163" cy="164" r="6"/><circle cx="167" cy="165" r="6"/><circle cx="166" cy="187" r="6"/><circle cx="177" cy="197" r="6"/><circle cx="177" cy="209" r="6"/><circle cx="187" cy="214" r="6"/><circle cx="192" cy="220" r="6"/><circle cx="199" cy="235" r="6"/><circle cx="200" cy="224" r="6"/><circle cx="208" cy="236" r="6"/><circle cx="225" cy="236" r="6"/><circle cx="235" cy="234" r="6"/><circle cx="234" cy="239" r="6"/><circle cx="246" cy="239" r="6"/><circle cx="266" cy="225" r="6"/><circle cx="268" cy="225" r="6"/><circle cx="266" cy="223" r="6"/><circle cx="287" cy="212" r="6"/><circle cx="294" cy="208" r="6"/><circle cx="300" cy="209" r="6"/><circle cx="307" cy="203" r="6"/><circle cx="311" cy="211" r="6"/><circle cx="322" cy="232" r="6"/><circle cx="331" cy="229" r="6"/><circle cx="337" cy="249" r="6"/><circle cx="344" cy="246" r="6"/><circle cx="346" cy="258" r="6"/><circle cx="342" cy="262" r="6"/><circle cx="349" cy="285" r="6"/><circle cx="336" cy="289" r="6"/><circle cx="339" cy="290" r="6"/><circle cx="320" cy="302" r="6"/><circle cx="317" cy="309" r="6"/><circle cx="298" cy="320" r="6"/><circle cx="296" cy="317" r="6"/><circle cx="287" cy="324" r="6"/><circle cx="281" cy="323" r="6"/><circle cx="265" cy="328" r="6"/><circle cx="253" cy="329" r="6"/><circle cx="246" cy="339" r="6"/><circle cx="233" cy="330" r="6"/><circle cx="227" cy="339" r="6"/><circle cx="227" cy="337" r="6"/><circle cx="210" cy="348" r="6"/><circle cx="204" cy="346" r="6"/><circle cx="193" cy="345" r="6"/><circle cx="182" cy="350" r="6"/><circle cx="171" cy="356" r="6"/><circle cx="163" cy="356" r="6"/><circle cx="159" cy="347" r="6"/><circle cx="156" cy="349" r="6"/><circle cx="148" cy="351" r="6"/><circle cx="134" cy="344" r="6"/><circle cx="122" cy="341" r="6"/><circle cx="110" cy="341" r="6"/><circle cx="102" cy="339" r="6"/><circle cx="98" cy="332" r="6"/><circle cx="87" cy="322" r="6"/><circle cx="83" cy="320" r="6"/><circle cx="86" cy="306" r="6"/><circle cx="84" cy="307" r="6"/><circle cx="90" cy="288" r="6"/><circle cx="92" cy="290" r="6"/><circle cx="96" cy="282" r="6"/><circle cx="104" cy="276" r="6"/><circle cx="104" cy="259" r="6"/><circle cx="95" cy="250" r="6"/><circle cx="97" cy="232" r="6"/><circle cx="89" cy="240" r="6"/><circle cx="94" cy="223" r="6"/><circle cx="98" cy="219" r="6"/><circle cx="99" cy="206" r="6"/><circle cx="91" cy="196" r="6"/><circle cx="85" cy="195" r="6"/><circle cx="77" cy="184" r="6"/><circle cx="70" cy="180" r="6"/><circle cx="73" cy="171" r="6"/><circle cx="50" cy="162" r="6"/><circle cx="52" cy="149" r="6"/><circle cx="32" cy="149" r="6"/><circle cx="40" cy="144" r="6"/><circle cx="31" cy="136" r="6"/></g><polygon points="118,82 127,73 155,73 200,73 227,64 275,62 300,80 320,90 366,100 384,118 357,136 330,164 311,191 293,209 275,218 255,240 227,250 200,235 180,210 165,180 145,140 125,105" fill="#31688e" stroke="#31688e" stroke-width="6" stroke-linejoin="round" filter="url(#rough)"/><g fill="#31688e" filter="url(#rough)"><circle cx="117" cy="84" r="6"/><circle cx="128" cy="72" r="6"/><circle cx="142" cy="68" r="6"/><circle cx="144" cy="71" r="6"/><circle cx="163" cy="71" r="6"/><circle cx="174" cy="68" r="6"/><circle cx="167" cy="77" r="6"/><circle cx="181" cy="77" r="6"/><circle cx="196" cy="75" r="6"/><circle cx="202" cy="68" r="6"/><circle cx="211" cy="76" r="6"/><circle cx="227" cy="67" r="6"/><circle cx="225" cy="71" r="6"/><circle cx="249" cy="66" r="6"/><circle cx="244" cy="68" r="6"/><circle cx="263" cy="62" r="6"/><circle cx="267" cy="60" r="6"/><circle cx="276" cy="69" r="6"/><circle cx="288" cy="72" r="6"/><circle cx="292" cy="80" r="6"/><circle cx="308" cy="87" r="6"/><circle cx="320" cy="88" r="6"/><circle cx="325" cy="86" r="6"/><circle cx="326" cy="99" r="6"/><circle cx="344" cy="93" r="6"/><circle cx="358" cy="104" r="6"/><circle cx="357" cy="103" r="6"/><circle cx="368" cy="104" r="6"/><circle cx="377" cy="108" r="6"/><circle cx="382" cy="116" r="6"/><circle cx="375" cy="122" r="6"/><circle cx="365" cy="125" r="6"/><circle cx="345" cy="147" r="6"/><circle cx="339" cy="141" r="6"/><circle cx="344" cy="152" r="6"/><circle cx="327" cy="162" r="6"/><circle cx="322" cy="173" r="6"/><circle cx="320" cy="174" r="6"/><circle cx="318" cy="184" r="6"/><circle cx="313" cy="192" r="6"/><circle cx="298" cy="212" r="6"/><circle cx="294" cy="207" r="6"/><circle cx="287" cy="208" r="6"/><circle cx="269" cy="221" r="6"/><circle cx="265" cy="232" r="6"/><circle cx="261" cy="243" r="6"/><circle cx="252" cy="245" r="6"/><circle cx="231" cy="252" r="6"/><circle cx="228" cy="246" r="6"/><circle cx="222" cy="256" r="6"/><circle cx="223" cy="242" r="6"/><circle cx="204" cy="234" r="6"/><circle cx="193" cy="237" r="6"/><circle cx="191" cy="216" r="6"/><circle cx="190" cy="210" r="6"/><circle cx="175" cy="198" r="6"/><circle cx="165" cy="199" r="6"/><circle cx="168" cy="181" r="6"/><circle cx="158" cy="177" r="6"/><circle cx="163" cy="169" r="6"/><circle cx="160" cy="152" r="6"/><circle cx="150" cy="146" r="6"/><circle cx="145" cy="141" r="6"/><circle cx="142" cy="124" r="6"/><circle cx="132" cy="120" r="6"/><circle cx="127" cy="107" r="6"/><circle cx="125" cy="102" r="6"/><circle cx="123" cy="81" r="6"/></g><polygon points="227,60 245,30 252,23 258,50 275,60 320,66 366,71 411,80 457,89 493,103 520,121 502,136 457,136 430,145 411,136 384,118 348,100 302,91 275,95 240,90" fill="#fde725" stroke="#fde725" stroke-width="6" stroke-linejoin="round" filter="url(#rough)"/><g fill="#fde725" filter="url(#rough)"><circle cx="235" cy="59" r="6"/><circle cx="242" cy="46" r="6"/><circle cx="247" cy="31" r="6"/><circle cx="245" cy="34" r="6"/><circle cx="251" cy="31" r="6"/><circle cx="258" cy="44" r="6"/><circle cx="264" cy="48" r="6"/><circle cx="265" cy="55" r="6"/><circle cx="267" cy="52" r="6"/><circle cx="283" cy="55" r="6"/><circle cx="289" cy="62" r="6"/><circle cx="305" cy="58" r="6"/><circle cx="311" cy="69" r="6"/><circle cx="310" cy="59" r="6"/><circle cx="323" cy="64" r="6"/><circle cx="334" cy="69" r="6"/><circle cx="345" cy="63" r="6"/><circle cx="361" cy="65" r="6"/><circle cx="367" cy="64" r="6"/><circle cx="359" cy="78" r="6"/><circle cx="386" cy="71" r="6"/><circle cx="390" cy="81" r="6"/><circle cx="394" cy="72" r="6"/><circle cx="407" cy="86" r="6"/><circle cx="411" cy="80" r="6"/><circle cx="420" cy="80" r="6"/><circle cx="435" cy="88" r="6"/><circle cx="444" cy="82" r="6"/><circle cx="456" cy="93" r="6"/><circle cx="458" cy="95" r="6"/><circle cx="465" cy="91" r="6"/><circle cx="483" cy="100" r="6"/><circle cx="491" cy="108" r="6"/><circle cx="501" cy="104" r="6"/><circle cx="513" cy="113" r="6"/><circle cx="505" cy="118" r="6"/><circle cx="514" cy="129" r="6"/><circle cx="506" cy="127" r="6"/><circle cx="496" cy="141" r="6"/><circle cx="487" cy="130" r="6"/><circle cx="474" cy="134" r="6"/><circle cx="470" cy="143" r="6"/><circle cx="460" cy="133" r="6"/><circle cx="461" cy="139" r="6"/><circle cx="444" cy="147" r="6"/><circle cx="434" cy="147" r="6"/><circle cx="421" cy="137" r="6"/><circle cx="411" cy="135" r="6"/><circle cx="410" cy="126" r="6"/><circle cx="395" cy="129" r="6"/><circle cx="394" cy="128" r="6"/><circle cx="377" cy="108" r="6"/><circle cx="366" cy="105" r="6"/><circle cx="360" cy="107" r="6"/><circle cx="353" cy="97" r="6"/><circle cx="338" cy="105" r="6"/><circle cx="344" cy="94" r="6"/><circle cx="318" cy="89" r="6"/><circle cx="317" cy="90" r="6"/><circle cx="309" cy="94" r="6"/><circle cx="305" cy="92" r="6"/><circle cx="291" cy="93" r="6"/><circle cx="278" cy="101" r="6"/><circle cx="275" cy="89" r="6"/><circle cx="254" cy="92" r="6"/><circle cx="244" cy="91" r="6"/><circle cx="242" cy="82" r="6"/><circle cx="239" cy="84" r="6"/><circle cx="237" cy="71" r="6"/></g><polygon points="311,182 330,136 366,118 393,127 420,155 402,182 375,209 357,227 330,223 311,209" fill="#440154" stroke="#440154" stroke-width="6" stroke-linejoin="round" filter="url(#rough)"/><g fill="#440154" filter="url(#rough)"><circle cx="306" cy="181" r="6"/><circle cx="312" cy="162" r="6"/><circle cx="326" cy="154" r="6"/><circle cx="321" cy="156" r="6"/><circle cx="330" cy="140" r="6"/><circle cx="342" cy="129" r="6"/><circle cx="346" cy="134" r="6"/><circle cx="350" cy="119" r="6"/><circle cx="353" cy="128" r="6"/><circle cx="373" cy="120" r="6"/><circle cx="387" cy="117" r="6"/><circle cx="386" cy="124" r="6"/><circle cx="393" cy="136" r="6"/><circle cx="402" cy="142" r="6"/><circle cx="412" cy="148" r="6"/><circle cx="418" cy="151" r="6"/><circle cx="418" cy="156" r="6"/><circle cx="412" cy="169" r="6"/><circle cx="405" cy="178" r="6"/><circle cx="404" cy="192" r="6"/><circle cx="391" cy="188" r="6"/><circle cx="385" cy="197" r="6"/><circle cx="372" cy="211" r="6"/><circle cx="372" cy="223" r="6"/><circle cx="355" cy="219" r="6"/><circle cx="361" cy="234" r="6"/><circle cx="343" cy="228" r="6"/><circle cx="336" cy="220" r="6"/><circle cx="331" cy="219" r="6"/><circle cx="322" cy="217" r="6"/><circle cx="305" cy="206" r="6"/><circle cx="304" cy="197" r="6"/><circle cx="314" cy="178" r="6"/></g><polygon points="73,212 95,205 108,215 102,236 78,236" fill="#440154" stroke="#440154" stroke-width="6" stroke-linejoin="round" filter="url(#rough)"/><g fill="#440154" filter="url(#rough)"><circle cx="78" cy="214" r="6"/><circle cx="84" cy="201" r="6"/><circle cx="108" cy="219" r="6"/><circle cx="102" cy="222" r="6"/><circle cx="108" cy="223" r="6"/><circle cx="103" cy="240" r="6"/><circle cx="81" cy="230" r="6"/><circle cx="77" cy="233" r="6"/><circle cx="73" cy="223" r="6"/></g><circle cx="32" cy="291" r="5" fill="#35b779"/><circle cx="32" cy="314" r="5" fill="#35b779"/><circle cx="64" cy="318" r="5" fill="#35b779"/><circle cx="298" cy="341" r="5" fill="#35b779"/><circle cx="109" cy="105" r="5" fill="#fde725"/><circle cx="168" cy="145" r="5" fill="#fde725"/><circle cx="218" cy="132" r="5" fill="#fde725"/><circle cx="159" cy="168" r="5" fill="#fde725"/><circle cx="200" cy="110" r="5" fill="#fde725"/><circle cx="210" cy="50" r="5" fill="#31688e"/><circle cx="130" cy="75" r="5" fill="#31688e"/><circle cx="300" cy="60" r="5" fill="#440154"/><circle cx="195" cy="341" r="5" fill="#440154"/><circle cx="395" cy="100" r="5" fill="#440154"/>
</g></g></g>
<rect x="165.5" y="212.6" width="107.2" height="69.6" fill="none" stroke="#a6a6a6" stroke-width="0.9"/>
<line x1="163.5" y1="268.61" x2="165.5" y2="268.61" stroke="#707070" stroke-width="0.7"/>
<text x="161.9" y="268.81" font-size="6.3" text-anchor="end" dominant-baseline="central">5</text>
<line x1="163.5" y1="245.35" x2="165.5" y2="245.35" stroke="#707070" stroke-width="0.7"/>
<text x="161.9" y="245.55" font-size="6.3" text-anchor="end" dominant-baseline="central">10</text>
<line x1="163.5" y1="222.09" x2="165.5" y2="222.09" stroke="#707070" stroke-width="0.7"/>
<text x="161.9" y="222.29" font-size="6.3" text-anchor="end" dominant-baseline="central">15</text>
<text x="148.6" y="248.5" font-size="7.1" text-anchor="middle" dominant-baseline="central" transform="rotate(-90 148.6 248.5)">Yield (t/ha)</text>
<line x1="176.1" y1="282.2" x2="176.1" y2="284.2" stroke="#707070" stroke-width="0.7"/>
<text x="176.1" y="289.4" font-size="6.3" text-anchor="middle" dominant-baseline="central">14</text>
<line x1="213.4" y1="282.2" x2="213.4" y2="284.2" stroke="#707070" stroke-width="0.7"/>
<text x="213.4" y="289.4" font-size="6.3" text-anchor="middle" dominant-baseline="central">16</text>
<line x1="251" y1="282.2" x2="251" y2="284.2" stroke="#707070" stroke-width="0.7"/>
<text x="251" y="289.4" font-size="6.3" text-anchor="middle" dominant-baseline="central">18</text>
<text x="226.2" y="297.5" font-size="7.1" text-anchor="middle" dominant-baseline="central">MC (%)</text>
<clipPath id="ce02"><rect x="301.5" y="212.6" width="107.4" height="69.6"/></clipPath>
<g clip-path="url(#ce02)"><g transform="translate(300 210) scale(0.2)"><g>
<circle cx="141" cy="146" r="6.5" fill="#35b779"/><circle cx="186" cy="214" r="6.5" fill="#35b779"/><circle cx="151" cy="177" r="6.5" fill="#35b779"/><circle cx="166" cy="154" r="6.5" fill="#35b779"/><circle cx="128" cy="167" r="6.5" fill="#35b779"/><circle cx="155" cy="139" r="6.5" fill="#35b779"/><circle cx="194" cy="175" r="6.5" fill="#35b779"/><circle cx="117" cy="160" r="6.5" fill="#35b779"/><circle cx="158" cy="217" r="6.5" fill="#35b779"/><circle cx="142" cy="173" r="6.5" fill="#35b779"/><circle cx="83" cy="168" r="6.5" fill="#35b779"/><circle cx="166" cy="151" r="6.5" fill="#35b779"/><circle cx="183" cy="136" r="6.5" fill="#35b779"/><circle cx="91" cy="148" r="6.5" fill="#35b779"/><circle cx="99" cy="193" r="6.5" fill="#35b779"/><circle cx="166" cy="182" r="6.5" fill="#35b779"/><circle cx="164" cy="207" r="6.5" fill="#35b779"/><circle cx="128" cy="186" r="6.5" fill="#35b779"/><circle cx="176" cy="198" r="6.5" fill="#35b779"/><circle cx="165" cy="225" r="6.5" fill="#35b779"/><circle cx="138" cy="174" r="6.5" fill="#35b779"/><circle cx="85" cy="192" r="6.5" fill="#35b779"/><circle cx="145" cy="218" r="6.5" fill="#35b779"/><circle cx="62" cy="188" r="6.5" fill="#35b779"/><circle cx="119" cy="190" r="6.5" fill="#35b779"/><circle cx="182" cy="220" r="6.5" fill="#35b779"/><circle cx="133" cy="160" r="6.5" fill="#35b779"/><circle cx="167" cy="195" r="6.5" fill="#35b779"/><circle cx="64" cy="187" r="6.5" fill="#35b779"/><circle cx="161" cy="219" r="6.5" fill="#35b779"/><circle cx="95" cy="148" r="6.5" fill="#35b779"/><circle cx="42" cy="171" r="6.5" fill="#35b779"/><circle cx="173" cy="193" r="6.5" fill="#35b779"/><circle cx="107" cy="183" r="6.5" fill="#35b779"/><circle cx="60" cy="153" r="6.5" fill="#35b779"/><circle cx="136" cy="135" r="6.5" fill="#35b779"/><circle cx="190" cy="182" r="6.5" fill="#35b779"/><circle cx="178" cy="213" r="6.5" fill="#35b779"/><circle cx="69" cy="161" r="6.5" fill="#35b779"/><circle cx="43" cy="174" r="6.5" fill="#35b779"/><circle cx="157" cy="202" r="6.5" fill="#35b779"/><circle cx="78" cy="146" r="6.5" fill="#35b779"/><circle cx="165" cy="215" r="6.5" fill="#35b779"/><circle cx="134" cy="190" r="6.5" fill="#35b779"/><circle cx="43" cy="164" r="6.5" fill="#35b779"/><circle cx="73" cy="180" r="6.5" fill="#35b779"/><circle cx="73" cy="191" r="6.5" fill="#35b779"/><circle cx="142" cy="185" r="6.5" fill="#35b779"/><circle cx="123" cy="204" r="6.5" fill="#35b779"/><circle cx="144" cy="150" r="6.5" fill="#35b779"/><circle cx="149" cy="170" r="6.5" fill="#35b779"/><circle cx="144" cy="200" r="6.5" fill="#35b779"/><circle cx="39" cy="175" r="6.5" fill="#35b779"/><circle cx="156" cy="213" r="6.5" fill="#35b779"/><circle cx="141" cy="163" r="6.5" fill="#35b779"/><circle cx="173" cy="185" r="6.5" fill="#35b779"/><circle cx="194" cy="226" r="6.5" fill="#35b779"/><circle cx="178" cy="150" r="6.5" fill="#35b779"/><circle cx="186" cy="157" r="6.5" fill="#35b779"/><circle cx="61" cy="183" r="6.5" fill="#35b779"/><circle cx="140" cy="157" r="6.5" fill="#35b779"/><circle cx="190" cy="137" r="6.5" fill="#35b779"/><circle cx="166" cy="202" r="6.5" fill="#35b779"/><circle cx="157" cy="175" r="6.5" fill="#35b779"/><circle cx="178" cy="162" r="6.5" fill="#35b779"/><circle cx="173" cy="136" r="6.5" fill="#35b779"/><circle cx="80" cy="145" r="6.5" fill="#35b779"/><circle cx="127" cy="213" r="6.5" fill="#35b779"/><circle cx="166" cy="170" r="6.5" fill="#35b779"/><circle cx="174" cy="215" r="6.5" fill="#35b779"/><circle cx="143" cy="142" r="6.5" fill="#35b779"/><circle cx="147" cy="181" r="6.5" fill="#35b779"/><circle cx="178" cy="137" r="6.5" fill="#35b779"/><circle cx="177" cy="137" r="6.5" fill="#35b779"/><circle cx="128" cy="166" r="6.5" fill="#35b779"/><circle cx="119" cy="154" r="6.5" fill="#35b779"/><circle cx="186" cy="182" r="6.5" fill="#35b779"/><circle cx="136" cy="178" r="6.5" fill="#35b779"/><circle cx="156" cy="217" r="6.5" fill="#35b779"/><circle cx="72" cy="192" r="6.5" fill="#35b779"/><polygon points="150,160 170,140 200,145 209,150 245,155 275,164 302,155 320,173 330,209 339,236 366,250 393,264 439,245 466,236 484,255 484,300 457,327 411,336 366,345 320,341 275,332 250,327 227,309 215,264 205,230 180,215 155,195" fill="#35b779" stroke="#35b779" stroke-width="6" stroke-linejoin="round" filter="url(#rough)"/><g fill="#35b779" filter="url(#rough)"><circle cx="156" cy="153" r="6"/><circle cx="159" cy="151" r="6"/><circle cx="171" cy="146" r="6"/><circle cx="170" cy="143" r="6"/><circle cx="185" cy="141" r="6"/><circle cx="191" cy="141" r="6"/><circle cx="210" cy="142" r="6"/><circle cx="216" cy="149" r="6"/><circle cx="225" cy="146" r="6"/><circle cx="237" cy="157" r="6"/><circle cx="241" cy="153" r="6"/><circle cx="257" cy="153" r="6"/><circle cx="262" cy="154" r="6"/><circle cx="268" cy="155" r="6"/><circle cx="275" cy="159" r="6"/><circle cx="284" cy="155" r="6"/><circle cx="297" cy="150" r="6"/><circle cx="312" cy="166" r="6"/><circle cx="316" cy="168" r="6"/><circle cx="319" cy="180" r="6"/><circle cx="329" cy="187" r="6"/><circle cx="327" cy="198" r="6"/><circle cx="331" cy="201" r="6"/><circle cx="328" cy="218" r="6"/><circle cx="326" cy="217" r="6"/><circle cx="342" cy="224" r="6"/><circle cx="352" cy="235" r="6"/><circle cx="356" cy="245" r="6"/><circle cx="370" cy="248" r="6"/><circle cx="363" cy="248" r="6"/><circle cx="379" cy="262" r="6"/><circle cx="380" cy="258" r="6"/><circle cx="391" cy="263" r="6"/><circle cx="399" cy="253" r="6"/><circle cx="419" cy="258" r="6"/><circle cx="431" cy="244" r="6"/><circle cx="431" cy="249" r="6"/><circle cx="452" cy="243" r="6"/><circle cx="450" cy="242" r="6"/><circle cx="458" cy="240" r="6"/><circle cx="467" cy="241" r="6"/><circle cx="473" cy="244" r="6"/><circle cx="490" cy="264" r="6"/><circle cx="489" cy="264" r="6"/><circle cx="488" cy="278" r="6"/><circle cx="482" cy="290" r="6"/><circle cx="486" cy="303" r="6"/><circle cx="474" cy="297" r="6"/><circle cx="470" cy="304" r="6"/><circle cx="471" cy="320" r="6"/><circle cx="463" cy="318" r="6"/><circle cx="450" cy="321" r="6"/><circle cx="443" cy="331" r="6"/><circle cx="435" cy="333" r="6"/><circle cx="429" cy="332" r="6"/><circle cx="410" cy="340" r="6"/><circle cx="399" cy="343" r="6"/><circle cx="395" cy="343" r="6"/><circle cx="389" cy="334" r="6"/><circle cx="374" cy="349" r="6"/><circle cx="367" cy="344" r="6"/><circle cx="371" cy="340" r="6"/><circle cx="357" cy="350" r="6"/><circle cx="346" cy="349" r="6"/><circle cx="341" cy="340" r="6"/><circle cx="323" cy="347" r="6"/><circle cx="320" cy="338" r="6"/><circle cx="305" cy="336" r="6"/><circle cx="290" cy="341" r="6"/><circle cx="291" cy="330" r="6"/><circle cx="270" cy="326" r="6"/><circle cx="270" cy="326" r="6"/><circle cx="255" cy="322" r="6"/><circle cx="252" cy="329" r="6"/><circle cx="243" cy="321" r="6"/><circle cx="222" cy="310" r="6"/><circle cx="225" cy="295" r="6"/><circle cx="224" cy="297" r="6"/><circle cx="217" cy="284" r="6"/><circle cx="213" cy="273" r="6"/><circle cx="220" cy="270" r="6"/><circle cx="210" cy="263" r="6"/><circle cx="207" cy="241" r="6"/><circle cx="207" cy="241" r="6"/><circle cx="207" cy="228" r="6"/><circle cx="196" cy="226" r="6"/><circle cx="177" cy="211" r="6"/><circle cx="168" cy="215" r="6"/><circle cx="168" cy="202" r="6"/><circle cx="162" cy="198" r="6"/><circle cx="148" cy="199" r="6"/><circle cx="160" cy="176" r="6"/><circle cx="150" cy="163" r="6"/></g><polygon points="218,91 245,73 275,64 311,55 339,45 343,27 352,23 357,50 384,55 411,50 402,73 375,91 348,118 330,136 302,155 275,164 245,155 218,159 191,145 185,120" fill="#fde725" stroke="#fde725" stroke-width="6" stroke-linejoin="round" filter="url(#rough)"/><g fill="#fde725" filter="url(#rough)"><circle cx="224" cy="86" r="6"/><circle cx="230" cy="81" r="6"/><circle cx="235" cy="78" r="6"/><circle cx="249" cy="70" r="6"/><circle cx="262" cy="72" r="6"/><circle cx="267" cy="69" r="6"/><circle cx="276" cy="67" r="6"/><circle cx="293" cy="60" r="6"/><circle cx="294" cy="53" r="6"/><circle cx="303" cy="54" r="6"/><circle cx="315" cy="49" r="6"/><circle cx="326" cy="49" r="6"/><circle cx="328" cy="46" r="6"/><circle cx="336" cy="40" r="6"/><circle cx="337" cy="26" r="6"/><circle cx="345" cy="19" r="6"/><circle cx="351" cy="27" r="6"/><circle cx="353" cy="39" r="6"/><circle cx="356" cy="46" r="6"/><circle cx="366" cy="54" r="6"/><circle cx="369" cy="47" r="6"/><circle cx="384" cy="48" r="6"/><circle cx="390" cy="58" r="6"/><circle cx="401" cy="58" r="6"/><circle cx="397" cy="51" r="6"/><circle cx="412" cy="57" r="6"/><circle cx="412" cy="64" r="6"/><circle cx="398" cy="74" r="6"/><circle cx="389" cy="83" r="6"/><circle cx="384" cy="92" r="6"/><circle cx="372" cy="99" r="6"/><circle cx="372" cy="93" r="6"/><circle cx="349" cy="114" r="6"/><circle cx="353" cy="119" r="6"/><circle cx="333" cy="128" r="6"/><circle cx="339" cy="128" r="6"/><circle cx="321" cy="138" r="6"/><circle cx="315" cy="147" r="6"/><circle cx="301" cy="154" r="6"/><circle cx="297" cy="154" r="6"/><circle cx="282" cy="161" r="6"/><circle cx="284" cy="161" r="6"/><circle cx="271" cy="158" r="6"/><circle cx="262" cy="161" r="6"/><circle cx="246" cy="161" r="6"/><circle cx="241" cy="160" r="6"/><circle cx="229" cy="163" r="6"/><circle cx="226" cy="163" r="6"/><circle cx="207" cy="161" r="6"/><circle cx="211" cy="145" r="6"/><circle cx="196" cy="143" r="6"/><circle cx="195" cy="134" r="6"/><circle cx="189" cy="129" r="6"/><circle cx="188" cy="120" r="6"/><circle cx="195" cy="108" r="6"/><circle cx="200" cy="105" r="6"/><circle cx="213" cy="99" r="6"/></g><polygon points="330,136 357,109 384,82 411,73 448,82 475,100 493,118 502,136 493,164 475,191 457,209 439,227 420,245 393,255 366,250 339,236 330,209 320,173" fill="#31688e" stroke="#31688e" stroke-width="6" stroke-linejoin="round" filter="url(#rough)"/><g fill="#31688e" filter="url(#rough)"><circle cx="329" cy="133" r="6"/><circle cx="342" cy="133" r="6"/><circle cx="352" cy="120" r="6"/><circle cx="354" cy="113" r="6"/><circle cx="353" cy="116" r="6"/><circle cx="368" cy="97" r="6"/><circle cx="377" cy="94" r="6"/><circle cx="383" cy="84" r="6"/><circle cx="396" cy="80" r="6"/><circle cx="389" cy="75" r="6"/><circle cx="410" cy="74" r="6"/><circle cx="420" cy="77" r="6"/><circle cx="424" cy="78" r="6"/><circle cx="444" cy="83" r="6"/><circle cx="450" cy="81" r="6"/><circle cx="451" cy="80" r="6"/><circle cx="460" cy="92" r="6"/><circle cx="468" cy="101" r="6"/><circle cx="479" cy="112" r="6"/><circle cx="488" cy="104" r="6"/><circle cx="499" cy="126" r="6"/><circle cx="499" cy="126" r="6"/><circle cx="497" cy="131" r="6"/><circle cx="506" cy="139" r="6"/><circle cx="498" cy="154" r="6"/><circle cx="489" cy="169" r="6"/><circle cx="490" cy="175" r="6"/><circle cx="471" cy="189" r="6"/><circle cx="466" cy="201" r="6"/><circle cx="469" cy="205" r="6"/><circle cx="459" cy="209" r="6"/><circle cx="445" cy="218" r="6"/><circle cx="442" cy="237" r="6"/><circle cx="429" cy="246" r="6"/><circle cx="417" cy="249" r="6"/><circle cx="399" cy="257" r="6"/><circle cx="395" cy="256" r="6"/><circle cx="379" cy="248" r="6"/><circle cx="383" cy="245" r="6"/><circle cx="368" cy="252" r="6"/><circle cx="366" cy="246" r="6"/><circle cx="349" cy="237" r="6"/><circle cx="350" cy="244" r="6"/><circle cx="336" cy="235" r="6"/><circle cx="329" cy="222" r="6"/><circle cx="325" cy="208" r="6"/><circle cx="333" cy="203" r="6"/><circle cx="323" cy="189" r="6"/><circle cx="320" cy="189" r="6"/><circle cx="326" cy="181" r="6"/><circle cx="329" cy="164" r="6"/><circle cx="327" cy="157" r="6"/><circle cx="331" cy="146" r="6"/><circle cx="330" cy="132" r="6"/></g><circle cx="482" cy="165" r="6.5" fill="#440154"/><circle cx="490" cy="197" r="6.5" fill="#440154"/><circle cx="483" cy="148" r="6.5" fill="#440154"/><circle cx="483" cy="172" r="6.5" fill="#440154"/><circle cx="488" cy="172" r="6.5" fill="#440154"/><circle cx="486" cy="103" r="6.5" fill="#440154"/><circle cx="473" cy="188" r="6.5" fill="#440154"/><circle cx="497" cy="183" r="6.5" fill="#440154"/><circle cx="498" cy="90" r="6.5" fill="#440154"/><circle cx="469" cy="85" r="6.5" fill="#440154"/><circle cx="506" cy="180" r="6.5" fill="#440154"/><circle cx="460" cy="106" r="6.5" fill="#440154"/><circle cx="489" cy="122" r="6.5" fill="#440154"/><circle cx="505" cy="163" r="6.5" fill="#440154"/><circle cx="486" cy="215" r="6.5" fill="#440154"/><circle cx="467" cy="91" r="6.5" fill="#440154"/><circle cx="501" cy="151" r="6.5" fill="#440154"/><circle cx="510" cy="150" r="6.5" fill="#440154"/><circle cx="490" cy="167" r="6.5" fill="#440154"/><circle cx="499" cy="208" r="6.5" fill="#440154"/><circle cx="479" cy="173" r="6.5" fill="#440154"/><circle cx="498" cy="108" r="6.5" fill="#440154"/><polygon points="408,240 425,232 440,245 438,275 425,295 410,290 405,265" fill="#440154" stroke="#440154" stroke-width="6" stroke-linejoin="round" filter="url(#rough)"/><g fill="#440154" filter="url(#rough)"><circle cx="419" cy="242" r="6"/><circle cx="421" cy="228" r="6"/><circle cx="435" cy="235" r="6"/><circle cx="436" cy="235" r="6"/><circle cx="433" cy="243" r="6"/><circle cx="438" cy="261" r="6"/><circle cx="436" cy="263" r="6"/><circle cx="426" cy="281" r="6"/><circle cx="425" cy="288" r="6"/><circle cx="424" cy="296" r="6"/><circle cx="405" cy="283" r="6"/><circle cx="410" cy="272" r="6"/><circle cx="407" cy="263" r="6"/><circle cx="400" cy="248" r="6"/></g><circle cx="516" cy="195" r="5" fill="#440154"/><circle cx="223" cy="114" r="5" fill="#440154"/><circle cx="411" cy="341" r="5" fill="#440154"/><circle cx="164" cy="236" r="5" fill="#35b779"/><circle cx="136" cy="195" r="5" fill="#35b779"/><circle cx="405" cy="45" r="5" fill="#31688e"/>
</g></g></g>
<rect x="301.5" y="212.6" width="107.4" height="69.6" fill="none" stroke="#a6a6a6" stroke-width="0.9"/>
<line x1="299.5" y1="268.61" x2="301.5" y2="268.61" stroke="#707070" stroke-width="0.7"/>
<text x="297.9" y="268.81" font-size="6.3" text-anchor="end" dominant-baseline="central">5</text>
<line x1="299.5" y1="245.35" x2="301.5" y2="245.35" stroke="#707070" stroke-width="0.7"/>
<text x="297.9" y="245.55" font-size="6.3" text-anchor="end" dominant-baseline="central">10</text>
<line x1="299.5" y1="222.09" x2="301.5" y2="222.09" stroke="#707070" stroke-width="0.7"/>
<text x="297.9" y="222.29" font-size="6.3" text-anchor="end" dominant-baseline="central">15</text>
<text x="284.6" y="248.5" font-size="7.1" text-anchor="middle" dominant-baseline="central" transform="rotate(-90 284.6 248.5)">Yield (t/ha)</text>
<line x1="303.3" y1="282.2" x2="303.3" y2="284.2" stroke="#707070" stroke-width="0.7"/>
<text x="303.3" y="289.4" font-size="6.3" text-anchor="middle" dominant-baseline="central">1.0</text>
<line x1="341.1" y1="282.2" x2="341.1" y2="284.2" stroke="#707070" stroke-width="0.7"/>
<text x="341.1" y="289.4" font-size="6.3" text-anchor="middle" dominant-baseline="central">1.2</text>
<line x1="378.5" y1="282.2" x2="378.5" y2="284.2" stroke="#707070" stroke-width="0.7"/>
<text x="378.5" y="289.4" font-size="6.3" text-anchor="middle" dominant-baseline="central">1.4</text>
<text x="363.1" y="297.5" font-size="7.1" text-anchor="middle" dominant-baseline="central">OC (%)</text>
<clipPath id="ce03"><rect x="438.5" y="212.6" width="107" height="69.6"/></clipPath>
<g clip-path="url(#ce03)"><g transform="translate(437 210) scale(0.2)"><g>
<polygon points="23,118 55,109 82,95 118,86 164,82 209,77 245,73 275,70 320,66 357,66 375,80 393,98 411,116 439,143 457,162 457,191 439,218 411,236 375,236 348,227 320,236 293,245 275,227 245,236 218,236 195,227 191,191 173,173 136,164 91,155 73,136 36,127" fill="#31688e" stroke="#31688e" stroke-width="6" stroke-linejoin="round" filter="url(#rough)"/><g fill="#31688e" filter="url(#rough)"><circle cx="21" cy="110" r="6"/><circle cx="42" cy="110" r="6"/><circle cx="45" cy="108" r="6"/><circle cx="65" cy="107" r="6"/><circle cx="69" cy="107" r="6"/><circle cx="86" cy="90" r="6"/><circle cx="85" cy="100" r="6"/><circle cx="104" cy="85" r="6"/><circle cx="109" cy="83" r="6"/><circle cx="108" cy="91" r="6"/><circle cx="125" cy="87" r="6"/><circle cx="122" cy="80" r="6"/><circle cx="150" cy="88" r="6"/><circle cx="159" cy="83" r="6"/><circle cx="167" cy="88" r="6"/><circle cx="167" cy="81" r="6"/><circle cx="172" cy="83" r="6"/><circle cx="180" cy="84" r="6"/><circle cx="189" cy="80" r="6"/><circle cx="207" cy="78" r="6"/><circle cx="214" cy="75" r="6"/><circle cx="225" cy="71" r="6"/><circle cx="228" cy="71" r="6"/><circle cx="238" cy="73" r="6"/><circle cx="244" cy="79" r="6"/><circle cx="264" cy="74" r="6"/><circle cx="263" cy="71" r="6"/><circle cx="286" cy="73" r="6"/><circle cx="293" cy="76" r="6"/><circle cx="303" cy="69" r="6"/><circle cx="305" cy="62" r="6"/><circle cx="320" cy="63" r="6"/><circle cx="318" cy="69" r="6"/><circle cx="337" cy="68" r="6"/><circle cx="349" cy="62" r="6"/><circle cx="342" cy="71" r="6"/><circle cx="358" cy="69" r="6"/><circle cx="378" cy="80" r="6"/><circle cx="378" cy="85" r="6"/><circle cx="383" cy="97" r="6"/><circle cx="393" cy="100" r="6"/><circle cx="400" cy="107" r="6"/><circle cx="408" cy="122" r="6"/><circle cx="418" cy="129" r="6"/><circle cx="431" cy="127" r="6"/><circle cx="437" cy="139" r="6"/><circle cx="440" cy="142" r="6"/><circle cx="455" cy="160" r="6"/><circle cx="459" cy="165" r="6"/><circle cx="461" cy="177" r="6"/><circle cx="463" cy="193" r="6"/><circle cx="446" cy="192" r="6"/><circle cx="441" cy="206" r="6"/><circle cx="446" cy="214" r="6"/><circle cx="426" cy="225" r="6"/><circle cx="425" cy="226" r="6"/><circle cx="413" cy="231" r="6"/><circle cx="409" cy="238" r="6"/><circle cx="405" cy="235" r="6"/><circle cx="386" cy="231" r="6"/><circle cx="375" cy="239" r="6"/><circle cx="377" cy="233" r="6"/><circle cx="364" cy="233" r="6"/><circle cx="348" cy="230" r="6"/><circle cx="340" cy="234" r="6"/><circle cx="337" cy="224" r="6"/><circle cx="332" cy="231" r="6"/><circle cx="309" cy="238" r="6"/><circle cx="308" cy="237" r="6"/><circle cx="298" cy="243" r="6"/><circle cx="286" cy="231" r="6"/><circle cx="280" cy="234" r="6"/><circle cx="281" cy="232" r="6"/><circle cx="263" cy="238" r="6"/><circle cx="242" cy="235" r="6"/><circle cx="245" cy="235" r="6"/><circle cx="233" cy="234" r="6"/><circle cx="217" cy="241" r="6"/><circle cx="221" cy="230" r="6"/><circle cx="202" cy="226" r="6"/><circle cx="200" cy="217" r="6"/><circle cx="194" cy="208" r="6"/><circle cx="190" cy="211" r="6"/><circle cx="190" cy="193" r="6"/><circle cx="190" cy="184" r="6"/><circle cx="174" cy="175" r="6"/><circle cx="166" cy="169" r="6"/><circle cx="149" cy="170" r="6"/><circle cx="152" cy="174" r="6"/><circle cx="149" cy="161" r="6"/><circle cx="128" cy="162" r="6"/><circle cx="132" cy="158" r="6"/><circle cx="121" cy="157" r="6"/><circle cx="96" cy="155" r="6"/><circle cx="97" cy="155" r="6"/><circle cx="85" cy="152" r="6"/><circle cx="74" cy="143" r="6"/><circle cx="68" cy="129" r="6"/><circle cx="64" cy="134" r="6"/><circle cx="53" cy="132" r="6"/><circle cx="47" cy="135" r="6"/><circle cx="24" cy="130" r="6"/></g><polygon points="73,155 109,150 155,168 182,182 191,218 209,236 255,232 275,222 300,225 330,235 339,260 320,273 275,273 245,291 209,291 173,273 136,282 109,273 91,255 73,218 68,182" fill="#440154" stroke="#440154" stroke-width="6" stroke-linejoin="round" filter="url(#rough)"/><g fill="#440154" filter="url(#rough)"><circle cx="78" cy="159" r="6"/><circle cx="85" cy="147" r="6"/><circle cx="90" cy="153" r="6"/><circle cx="110" cy="147" r="6"/><circle cx="113" cy="144" r="6"/><circle cx="125" cy="156" r="6"/><circle cx="138" cy="157" r="6"/><circle cx="133" cy="158" r="6"/><circle cx="153" cy="171" r="6"/><circle cx="149" cy="175" r="6"/><circle cx="165" cy="173" r="6"/><circle cx="178" cy="186" r="6"/><circle cx="187" cy="184" r="6"/><circle cx="179" cy="199" r="6"/><circle cx="182" cy="202" r="6"/><circle cx="191" cy="208" r="6"/><circle cx="193" cy="228" r="6"/><circle cx="196" cy="233" r="6"/><circle cx="218" cy="231" r="6"/><circle cx="223" cy="232" r="6"/><circle cx="238" cy="239" r="6"/><circle cx="242" cy="238" r="6"/><circle cx="254" cy="233" r="6"/><circle cx="256" cy="229" r="6"/><circle cx="265" cy="228" r="6"/><circle cx="287" cy="224" r="6"/><circle cx="293" cy="229" r="6"/><circle cx="311" cy="225" r="6"/><circle cx="311" cy="225" r="6"/><circle cx="317" cy="231" r="6"/><circle cx="330" cy="242" r="6"/><circle cx="337" cy="253" r="6"/><circle cx="328" cy="265" r="6"/><circle cx="322" cy="273" r="6"/><circle cx="313" cy="273" r="6"/><circle cx="309" cy="274" r="6"/><circle cx="290" cy="271" r="6"/><circle cx="290" cy="270" r="6"/><circle cx="282" cy="275" r="6"/><circle cx="269" cy="273" r="6"/><circle cx="264" cy="279" r="6"/><circle cx="249" cy="293" r="6"/><circle cx="234" cy="288" r="6"/><circle cx="239" cy="290" r="6"/><circle cx="218" cy="290" r="6"/><circle cx="215" cy="295" r="6"/><circle cx="205" cy="291" r="6"/><circle cx="201" cy="287" r="6"/><circle cx="187" cy="274" r="6"/><circle cx="169" cy="269" r="6"/><circle cx="166" cy="271" r="6"/><circle cx="161" cy="271" r="6"/><circle cx="141" cy="273" r="6"/><circle cx="147" cy="286" r="6"/><circle cx="123" cy="281" r="6"/><circle cx="117" cy="280" r="6"/><circle cx="122" cy="281" r="6"/><circle cx="103" cy="269" r="6"/><circle cx="90" cy="261" r="6"/><circle cx="86" cy="257" r="6"/><circle cx="85" cy="237" r="6"/><circle cx="80" cy="228" r="6"/><circle cx="69" cy="218" r="6"/><circle cx="66" cy="210" r="6"/><circle cx="72" cy="200" r="6"/><circle cx="71" cy="199" r="6"/><circle cx="65" cy="192" r="6"/><circle cx="72" cy="177" r="6"/><circle cx="71" cy="167" r="6"/><circle cx="71" cy="153" r="6"/></g><polygon points="339,64 366,55 411,50 430,36 439,23 443,45 457,64 493,73 502,91 498,118 484,127 466,136 448,155 439,182 420,155 393,118 366,91" fill="#fde725" stroke="#fde725" stroke-width="6" stroke-linejoin="round" filter="url(#rough)"/><g fill="#fde725" filter="url(#rough)"><circle cx="346" cy="60" r="6"/><circle cx="352" cy="55" r="6"/><circle cx="353" cy="52" r="6"/><circle cx="371" cy="56" r="6"/><circle cx="385" cy="48" r="6"/><circle cx="385" cy="59" r="6"/><circle cx="395" cy="54" r="6"/><circle cx="409" cy="57" r="6"/><circle cx="418" cy="43" r="6"/><circle cx="423" cy="38" r="6"/><circle cx="427" cy="35" r="6"/><circle cx="440" cy="37" r="6"/><circle cx="448" cy="39" r="6"/><circle cx="447" cy="56" r="6"/><circle cx="451" cy="57" r="6"/><circle cx="467" cy="69" r="6"/><circle cx="474" cy="67" r="6"/><circle cx="474" cy="64" r="6"/><circle cx="497" cy="72" r="6"/><circle cx="492" cy="81" r="6"/><circle cx="504" cy="81" r="6"/><circle cx="507" cy="91" r="6"/><circle cx="503" cy="104" r="6"/><circle cx="494" cy="109" r="6"/><circle cx="493" cy="116" r="6"/><circle cx="473" cy="133" r="6"/><circle cx="465" cy="140" r="6"/><circle cx="459" cy="145" r="6"/><circle cx="455" cy="154" r="6"/><circle cx="445" cy="164" r="6"/><circle cx="443" cy="174" r="6"/><circle cx="442" cy="181" r="6"/><circle cx="440" cy="184" r="6"/><circle cx="438" cy="179" r="6"/><circle cx="425" cy="169" r="6"/><circle cx="414" cy="155" r="6"/><circle cx="412" cy="136" r="6"/><circle cx="405" cy="136" r="6"/><circle cx="397" cy="131" r="6"/><circle cx="397" cy="122" r="6"/><circle cx="396" cy="120" r="6"/><circle cx="388" cy="109" r="6"/><circle cx="377" cy="105" r="6"/><circle cx="369" cy="94" r="6"/><circle cx="361" cy="82" r="6"/><circle cx="356" cy="74" r="6"/><circle cx="357" cy="78" r="6"/><circle cx="345" cy="63" r="6"/></g><polygon points="439,182 457,164 484,136 502,127 516,155 520,227 520,273 511,318 484,345 439,345 402,336 375,309 348,282 320,273 302,264 320,245 348,236 375,245 411,236 439,218" fill="#35b779" stroke="#35b779" stroke-width="6" stroke-linejoin="round" filter="url(#rough)"/><g fill="#35b779" filter="url(#rough)"><circle cx="435" cy="184" r="6"/><circle cx="454" cy="174" r="6"/><circle cx="468" cy="164" r="6"/><circle cx="472" cy="150" r="6"/><circle cx="470" cy="139" r="6"/><circle cx="472" cy="146" r="6"/><circle cx="482" cy="129" r="6"/><circle cx="503" cy="127" r="6"/><circle cx="501" cy="125" r="6"/><circle cx="502" cy="144" r="6"/><circle cx="512" cy="148" r="6"/><circle cx="518" cy="163" r="6"/><circle cx="520" cy="164" r="6"/><circle cx="518" cy="180" r="6"/><circle cx="516" cy="188" r="6"/><circle cx="524" cy="193" r="6"/><circle cx="524" cy="202" r="6"/><circle cx="520" cy="215" r="6"/><circle cx="524" cy="220" r="6"/><circle cx="520" cy="229" r="6"/><circle cx="517" cy="247" r="6"/><circle cx="523" cy="251" r="6"/><circle cx="521" cy="252" r="6"/><circle cx="526" cy="274" r="6"/><circle cx="513" cy="276" r="6"/><circle cx="516" cy="295" r="6"/><circle cx="514" cy="294" r="6"/><circle cx="519" cy="302" r="6"/><circle cx="512" cy="317" r="6"/><circle cx="500" cy="328" r="6"/><circle cx="495" cy="336" r="6"/><circle cx="495" cy="331" r="6"/><circle cx="492" cy="346" r="6"/><circle cx="484" cy="341" r="6"/><circle cx="474" cy="346" r="6"/><circle cx="465" cy="351" r="6"/><circle cx="449" cy="350" r="6"/><circle cx="450" cy="342" r="6"/><circle cx="437" cy="350" r="6"/><circle cx="423" cy="346" r="6"/><circle cx="408" cy="341" r="6"/><circle cx="408" cy="343" r="6"/><circle cx="402" cy="334" r="6"/><circle cx="389" cy="317" r="6"/><circle cx="380" cy="313" r="6"/><circle cx="377" cy="306" r="6"/><circle cx="365" cy="309" r="6"/><circle cx="360" cy="297" r="6"/><circle cx="352" cy="297" r="6"/><circle cx="353" cy="278" r="6"/><circle cx="341" cy="286" r="6"/><circle cx="332" cy="279" r="6"/><circle cx="333" cy="277" r="6"/><circle cx="313" cy="264" r="6"/><circle cx="304" cy="265" r="6"/><circle cx="300" cy="260" r="6"/><circle cx="309" cy="252" r="6"/><circle cx="329" cy="238" r="6"/><circle cx="327" cy="245" r="6"/><circle cx="347" cy="238" r="6"/><circle cx="353" cy="244" r="6"/><circle cx="357" cy="237" r="6"/><circle cx="366" cy="243" r="6"/><circle cx="378" cy="252" r="6"/><circle cx="393" cy="237" r="6"/><circle cx="393" cy="237" r="6"/><circle cx="406" cy="234" r="6"/><circle cx="421" cy="233" r="6"/><circle cx="415" cy="223" r="6"/><circle cx="439" cy="214" r="6"/><circle cx="435" cy="206" r="6"/><circle cx="432" cy="199" r="6"/><circle cx="444" cy="196" r="6"/><circle cx="433" cy="184" r="6"/></g><circle cx="232" cy="341" r="5" fill="#440154"/><circle cx="227" cy="82" r="5" fill="#440154"/><circle cx="259" cy="68" r="5" fill="#440154"/><circle cx="330" cy="318" r="5" fill="#440154"/><circle cx="127" cy="282" r="5" fill="#440154"/><circle cx="343" cy="295" r="5" fill="#35b779"/><circle cx="375" cy="327" r="5" fill="#35b779"/><circle cx="402" cy="341" r="5" fill="#35b779"/><circle cx="325" cy="136" r="5" fill="#fde725"/><circle cx="360" cy="50" r="5" fill="#31688e"/><circle cx="300" cy="70" r="5" fill="#31688e"/>
</g></g></g>
<rect x="438.5" y="212.6" width="107" height="69.6" fill="none" stroke="#a6a6a6" stroke-width="0.9"/>
<line x1="436.5" y1="268.61" x2="438.5" y2="268.61" stroke="#707070" stroke-width="0.7"/>
<text x="434.9" y="268.81" font-size="6.3" text-anchor="end" dominant-baseline="central">5</text>
<line x1="436.5" y1="245.35" x2="438.5" y2="245.35" stroke="#707070" stroke-width="0.7"/>
<text x="434.9" y="245.55" font-size="6.3" text-anchor="end" dominant-baseline="central">10</text>
<line x1="436.5" y1="222.09" x2="438.5" y2="222.09" stroke="#707070" stroke-width="0.7"/>
<text x="434.9" y="222.29" font-size="6.3" text-anchor="end" dominant-baseline="central">15</text>
<text x="421.6" y="248.5" font-size="7.1" text-anchor="middle" dominant-baseline="central" transform="rotate(-90 421.6 248.5)">Yield (t/ha)</text>
<line x1="461" y1="282.2" x2="461" y2="284.2" stroke="#707070" stroke-width="0.7"/>
<text x="461" y="289.4" font-size="6.3" text-anchor="middle" dominant-baseline="central">1.5</text>
<line x1="489" y1="282.2" x2="489" y2="284.2" stroke="#707070" stroke-width="0.7"/>
<text x="489" y="289.4" font-size="6.3" text-anchor="middle" dominant-baseline="central">2.0</text>
<line x1="517" y1="282.2" x2="517" y2="284.2" stroke="#707070" stroke-width="0.7"/>
<text x="517" y="289.4" font-size="6.3" text-anchor="middle" dominant-baseline="central">2.5</text>
<text x="492.4" y="297.5" font-size="7.1" text-anchor="middle" dominant-baseline="central">Ca (mg/100g)</text>
<text x="539.2" y="297.7" font-size="6.6" text-anchor="middle" dominant-baseline="central">1e3</text>
<clipPath id="ce10"><rect x="28.9" y="306.6" width="107.3" height="69.7"/></clipPath>
<g clip-path="url(#ce10)"><g transform="translate(28 304) scale(0.2)"><g>
<polygon points="23,123 55,114 91,105 136,100 182,95 200,118 195,160 195,200 218,227 245,245 275,255 311,236 348,209 384,182 411,164 439,155 457,164 466,200 448,218 420,245 402,273 384,300 366,318 339,336 311,341 275,345 236,341 209,327 182,309 155,291 136,273 118,245 100,218 82,191 86,164 73,136 36,132" fill="#35b779" stroke="#35b779" stroke-width="6" stroke-linejoin="round" filter="url(#rough)"/><g fill="#35b779" filter="url(#rough)"><circle cx="30" cy="116" r="6"/><circle cx="37" cy="115" r="6"/><circle cx="52" cy="110" r="6"/><circle cx="55" cy="120" r="6"/><circle cx="77" cy="114" r="6"/><circle cx="83" cy="111" r="6"/><circle cx="91" cy="111" r="6"/><circle cx="97" cy="106" r="6"/><circle cx="99" cy="103" r="6"/><circle cx="118" cy="97" r="6"/><circle cx="119" cy="106" r="6"/><circle cx="140" cy="95" r="6"/><circle cx="135" cy="95" r="6"/><circle cx="148" cy="105" r="6"/><circle cx="153" cy="97" r="6"/><circle cx="172" cy="96" r="6"/><circle cx="186" cy="102" r="6"/><circle cx="182" cy="99" r="6"/><circle cx="182" cy="104" r="6"/><circle cx="203" cy="118" r="6"/><circle cx="199" cy="117" r="6"/><circle cx="193" cy="128" r="6"/><circle cx="199" cy="140" r="6"/><circle cx="192" cy="152" r="6"/><circle cx="189" cy="161" r="6"/><circle cx="199" cy="169" r="6"/><circle cx="195" cy="186" r="6"/><circle cx="195" cy="201" r="6"/><circle cx="201" cy="199" r="6"/><circle cx="198" cy="211" r="6"/><circle cx="207" cy="217" r="6"/><circle cx="228" cy="223" r="6"/><circle cx="226" cy="237" r="6"/><circle cx="244" cy="240" r="6"/><circle cx="256" cy="250" r="6"/><circle cx="261" cy="251" r="6"/><circle cx="269" cy="249" r="6"/><circle cx="274" cy="257" r="6"/><circle cx="283" cy="248" r="6"/><circle cx="304" cy="242" r="6"/><circle cx="307" cy="235" r="6"/><circle cx="311" cy="229" r="6"/><circle cx="326" cy="225" r="6"/><circle cx="326" cy="221" r="6"/><circle cx="337" cy="220" r="6"/><circle cx="341" cy="209" r="6"/><circle cx="359" cy="205" r="6"/><circle cx="354" cy="197" r="6"/><circle cx="367" cy="199" r="6"/><circle cx="383" cy="187" r="6"/><circle cx="384" cy="191" r="6"/><circle cx="389" cy="184" r="6"/><circle cx="398" cy="177" r="6"/><circle cx="401" cy="167" r="6"/><circle cx="414" cy="157" r="6"/><circle cx="420" cy="157" r="6"/><circle cx="433" cy="152" r="6"/><circle cx="447" cy="158" r="6"/><circle cx="448" cy="166" r="6"/><circle cx="464" cy="164" r="6"/><circle cx="462" cy="173" r="6"/><circle cx="463" cy="185" r="6"/><circle cx="462" cy="191" r="6"/><circle cx="458" cy="201" r="6"/><circle cx="458" cy="204" r="6"/><circle cx="441" cy="221" r="6"/><circle cx="435" cy="233" r="6"/><circle cx="434" cy="241" r="6"/><circle cx="428" cy="243" r="6"/><circle cx="422" cy="252" r="6"/><circle cx="406" cy="255" r="6"/><circle cx="402" cy="264" r="6"/><circle cx="399" cy="281" r="6"/><circle cx="389" cy="281" r="6"/><circle cx="386" cy="294" r="6"/><circle cx="375" cy="300" r="6"/><circle cx="367" cy="307" r="6"/><circle cx="360" cy="319" r="6"/><circle cx="354" cy="332" r="6"/><circle cx="346" cy="325" r="6"/><circle cx="336" cy="342" r="6"/><circle cx="327" cy="336" r="6"/><circle cx="317" cy="345" r="6"/><circle cx="304" cy="339" r="6"/><circle cx="294" cy="349" r="6"/><circle cx="280" cy="340" r="6"/><circle cx="277" cy="347" r="6"/><circle cx="273" cy="341" r="6"/><circle cx="260" cy="346" r="6"/><circle cx="251" cy="336" r="6"/><circle cx="238" cy="344" r="6"/><circle cx="230" cy="341" r="6"/><circle cx="228" cy="332" r="6"/><circle cx="212" cy="323" r="6"/><circle cx="199" cy="329" r="6"/><circle cx="200" cy="323" r="6"/><circle cx="179" cy="307" r="6"/><circle cx="177" cy="299" r="6"/><circle cx="178" cy="299" r="6"/><circle cx="158" cy="292" r="6"/><circle cx="153" cy="295" r="6"/><circle cx="139" cy="280" r="6"/><circle cx="136" cy="266" r="6"/><circle cx="122" cy="260" r="6"/><circle cx="122" cy="258" r="6"/><circle cx="116" cy="244" r="6"/><circle cx="104" cy="232" r="6"/><circle cx="96" cy="220" r="6"/><circle cx="99" cy="219" r="6"/><circle cx="89" cy="202" r="6"/><circle cx="90" cy="194" r="6"/><circle cx="82" cy="182" r="6"/><circle cx="77" cy="186" r="6"/><circle cx="80" cy="160" r="6"/><circle cx="86" cy="163" r="6"/><circle cx="75" cy="146" r="6"/><circle cx="70" cy="148" r="6"/><circle cx="61" cy="131" r="6"/><circle cx="70" cy="129" r="6"/><circle cx="41" cy="139" r="6"/><circle cx="37" cy="137" r="6"/><circle cx="30" cy="123" r="6"/></g><polygon points="191,91 218,73 245,64 275,59 302,45 318,27 330,45 366,55 411,73 457,82 475,100 457,109 411,109 366,91 320,100 275,105 236,109 200,118" fill="#fde725" stroke="#fde725" stroke-width="6" stroke-linejoin="round" filter="url(#rough)"/><g fill="#fde725" filter="url(#rough)"><circle cx="202" cy="82" r="6"/><circle cx="208" cy="83" r="6"/><circle cx="217" cy="83" r="6"/><circle cx="213" cy="79" r="6"/><circle cx="231" cy="64" r="6"/><circle cx="234" cy="70" r="6"/><circle cx="249" cy="64" r="6"/><circle cx="260" cy="66" r="6"/><circle cx="278" cy="63" r="6"/><circle cx="278" cy="50" r="6"/><circle cx="285" cy="50" r="6"/><circle cx="293" cy="43" r="6"/><circle cx="306" cy="45" r="6"/><circle cx="305" cy="35" r="6"/><circle cx="323" cy="31" r="6"/><circle cx="322" cy="39" r="6"/><circle cx="338" cy="41" r="6"/><circle cx="341" cy="41" r="6"/><circle cx="354" cy="56" r="6"/><circle cx="365" cy="56" r="6"/><circle cx="376" cy="58" r="6"/><circle cx="370" cy="59" r="6"/><circle cx="392" cy="71" r="6"/><circle cx="398" cy="71" r="6"/><circle cx="399" cy="73" r="6"/><circle cx="411" cy="69" r="6"/><circle cx="432" cy="72" r="6"/><circle cx="434" cy="74" r="6"/><circle cx="448" cy="79" r="6"/><circle cx="450" cy="84" r="6"/><circle cx="457" cy="83" r="6"/><circle cx="460" cy="95" r="6"/><circle cx="479" cy="101" r="6"/><circle cx="463" cy="108" r="6"/><circle cx="446" cy="115" r="6"/><circle cx="447" cy="104" r="6"/><circle cx="437" cy="109" r="6"/><circle cx="419" cy="110" r="6"/><circle cx="412" cy="103" r="6"/><circle cx="403" cy="114" r="6"/><circle cx="400" cy="107" r="6"/><circle cx="378" cy="98" r="6"/><circle cx="371" cy="94" r="6"/><circle cx="361" cy="97" r="6"/><circle cx="362" cy="87" r="6"/><circle cx="354" cy="99" r="6"/><circle cx="346" cy="100" r="6"/><circle cx="339" cy="98" r="6"/><circle cx="326" cy="102" r="6"/><circle cx="324" cy="96" r="6"/><circle cx="305" cy="96" r="6"/><circle cx="304" cy="104" r="6"/><circle cx="287" cy="107" r="6"/><circle cx="289" cy="98" r="6"/><circle cx="270" cy="99" r="6"/><circle cx="265" cy="111" r="6"/><circle cx="247" cy="107" r="6"/><circle cx="238" cy="106" r="6"/><circle cx="227" cy="116" r="6"/><circle cx="230" cy="118" r="6"/><circle cx="221" cy="110" r="6"/><circle cx="198" cy="112" r="6"/><circle cx="199" cy="116" r="6"/><circle cx="197" cy="101" r="6"/><circle cx="189" cy="97" r="6"/></g><polygon points="195,123 236,114 275,109 320,100 366,95 411,109 457,109 493,109 520,123 493,136 457,145 420,164 393,182 366,200 339,218 311,236 275,255 245,245 218,227 195,200 191,155" fill="#31688e" stroke="#31688e" stroke-width="6" stroke-linejoin="round" filter="url(#rough)"/><g fill="#31688e" filter="url(#rough)"><circle cx="192" cy="124" r="6"/><circle cx="210" cy="121" r="6"/><circle cx="228" cy="124" r="6"/><circle cx="238" cy="118" r="6"/><circle cx="234" cy="112" r="6"/><circle cx="247" cy="107" r="6"/><circle cx="262" cy="104" r="6"/><circle cx="275" cy="113" r="6"/><circle cx="288" cy="114" r="6"/><circle cx="285" cy="103" r="6"/><circle cx="290" cy="99" r="6"/><circle cx="312" cy="98" r="6"/><circle cx="314" cy="99" r="6"/><circle cx="324" cy="102" r="6"/><circle cx="344" cy="95" r="6"/><circle cx="342" cy="93" r="6"/><circle cx="350" cy="99" r="6"/><circle cx="360" cy="102" r="6"/><circle cx="371" cy="91" r="6"/><circle cx="373" cy="96" r="6"/><circle cx="390" cy="104" r="6"/><circle cx="406" cy="106" r="6"/><circle cx="401" cy="102" r="6"/><circle cx="405" cy="110" r="6"/><circle cx="428" cy="104" r="6"/><circle cx="432" cy="113" r="6"/><circle cx="443" cy="103" r="6"/><circle cx="452" cy="106" r="6"/><circle cx="461" cy="116" r="6"/><circle cx="464" cy="103" r="6"/><circle cx="480" cy="114" r="6"/><circle cx="492" cy="116" r="6"/><circle cx="502" cy="109" r="6"/><circle cx="510" cy="122" r="6"/><circle cx="513" cy="118" r="6"/><circle cx="516" cy="118" r="6"/><circle cx="514" cy="122" r="6"/><circle cx="501" cy="139" r="6"/><circle cx="486" cy="143" r="6"/><circle cx="475" cy="135" r="6"/><circle cx="463" cy="149" r="6"/><circle cx="459" cy="151" r="6"/><circle cx="460" cy="140" r="6"/><circle cx="447" cy="157" r="6"/><circle cx="431" cy="162" r="6"/><circle cx="431" cy="158" r="6"/><circle cx="418" cy="157" r="6"/><circle cx="402" cy="174" r="6"/><circle cx="387" cy="183" r="6"/><circle cx="387" cy="184" r="6"/><circle cx="376" cy="191" r="6"/><circle cx="371" cy="193" r="6"/><circle cx="368" cy="198" r="6"/><circle cx="352" cy="209" r="6"/><circle cx="351" cy="212" r="6"/><circle cx="344" cy="216" r="6"/><circle cx="317" cy="229" r="6"/><circle cx="318" cy="232" r="6"/><circle cx="313" cy="234" r="6"/><circle cx="294" cy="243" r="6"/><circle cx="298" cy="244" r="6"/><circle cx="271" cy="257" r="6"/><circle cx="264" cy="254" r="6"/><circle cx="259" cy="251" r="6"/><circle cx="253" cy="247" r="6"/><circle cx="242" cy="245" r="6"/><circle cx="236" cy="228" r="6"/><circle cx="228" cy="226" r="6"/><circle cx="213" cy="222" r="6"/><circle cx="207" cy="220" r="6"/><circle cx="202" cy="206" r="6"/><circle cx="191" cy="199" r="6"/><circle cx="200" cy="192" r="6"/><circle cx="199" cy="174" r="6"/><circle cx="194" cy="161" r="6"/><circle cx="187" cy="167" r="6"/><circle cx="194" cy="158" r="6"/><circle cx="199" cy="138" r="6"/><circle cx="197" cy="129" r="6"/></g><polygon points="136,164 160,160 173,170 165,180 140,178" fill="#440154" stroke="#440154" stroke-width="6" stroke-linejoin="round" filter="url(#rough)"/><g fill="#440154" filter="url(#rough)"><circle cx="140" cy="160" r="6"/><circle cx="155" cy="159" r="6"/><circle cx="165" cy="163" r="6"/><circle cx="179" cy="177" r="6"/><circle cx="158" cy="183" r="6"/><circle cx="139" cy="175" r="6"/><circle cx="136" cy="170" r="6"/></g><polygon points="182,118 218,116 218,123 182,125" fill="#440154" stroke="#440154" stroke-width="3" stroke-linejoin="round"/><polygon points="393,250 410,245 420,260 415,290 398,288" fill="#440154" stroke="#440154" stroke-width="5" stroke-linejoin="round" filter="url(#rough)"/><g fill="#440154" filter="url(#rough)"><circle cx="394" cy="253" r="6"/><circle cx="410" cy="239" r="6"/><circle cx="421" cy="261" r="6"/><circle cx="426" cy="266" r="6"/><circle cx="414" cy="273" r="6"/><circle cx="411" cy="288" r="6"/><circle cx="421" cy="295" r="6"/><circle cx="393" cy="273" r="6"/><circle cx="401" cy="275" r="6"/><circle cx="398" cy="273" r="6"/><circle cx="389" cy="247" r="6"/></g><circle cx="50" cy="218" r="5" fill="#440154"/><circle cx="91" cy="218" r="5" fill="#440154"/><circle cx="100" cy="223" r="5" fill="#440154"/><circle cx="241" cy="318" r="5" fill="#440154"/><circle cx="200" cy="282" r="5" fill="#440154"/><circle cx="366" cy="341" r="5" fill="#440154"/><circle cx="375" cy="282" r="5" fill="#440154"/><circle cx="293" cy="145" r="5" fill="#fde725"/><circle cx="439" cy="164" r="5" fill="#fde725"/><circle cx="265" cy="130" r="5" fill="#fde725"/><circle cx="295" cy="150" r="5" fill="#fde725"/><circle cx="430" cy="200" r="5" fill="#fde725"/><circle cx="385" cy="215" r="5" fill="#fde725"/><circle cx="375" cy="48" r="5" fill="#31688e"/>
</g></g></g>
<rect x="28.9" y="306.6" width="107.3" height="69.7" fill="none" stroke="#a6a6a6" stroke-width="0.9"/>
<line x1="26.9" y1="362.7" x2="28.9" y2="362.7" stroke="#707070" stroke-width="0.7"/>
<text x="25.3" y="362.9" font-size="6.3" text-anchor="end" dominant-baseline="central">5</text>
<line x1="26.9" y1="339.4" x2="28.9" y2="339.4" stroke="#707070" stroke-width="0.7"/>
<text x="25.3" y="339.6" font-size="6.3" text-anchor="end" dominant-baseline="central">10</text>
<line x1="26.9" y1="316.1" x2="28.9" y2="316.1" stroke="#707070" stroke-width="0.7"/>
<text x="25.3" y="316.3" font-size="6.3" text-anchor="end" dominant-baseline="central">15</text>
<text x="12" y="342.55" font-size="7.1" text-anchor="middle" dominant-baseline="central" transform="rotate(-90 12 342.55)">Yield (t/ha)</text>
<line x1="54.1" y1="376.3" x2="54.1" y2="378.3" stroke="#707070" stroke-width="0.7"/>
<text x="54.1" y="382.8" font-size="6.4" text-anchor="middle" dominant-baseline="central">25</text>
<line x1="88.4" y1="376.3" x2="88.4" y2="378.3" stroke="#707070" stroke-width="0.7"/>
<text x="88.4" y="382.8" font-size="6.4" text-anchor="middle" dominant-baseline="central">30</text>
<line x1="122.7" y1="376.3" x2="122.7" y2="378.3" stroke="#707070" stroke-width="0.7"/>
<text x="122.7" y="382.8" font-size="6.4" text-anchor="middle" dominant-baseline="central">35</text>
<text x="84.4" y="389.9" font-size="7.313" text-anchor="middle" dominant-baseline="central">K (mg/100g)</text>
<clipPath id="ce11"><rect x="165.5" y="306.6" width="107.2" height="69.7"/></clipPath>
<g clip-path="url(#ce11)"><g transform="translate(164 304) scale(0.2)"><g>
<polygon points="164,236 182,245 218,245 255,236 275,227 320,209 366,200 411,173 457,145 493,155 520,173 502,200 484,227 457,264 439,291 411,327 366,336 320,345 275,345 191,336 168,318 164,300 168,264" fill="#35b779" stroke="#35b779" stroke-width="6" stroke-linejoin="round" filter="url(#rough)"/><g fill="#35b779" filter="url(#rough)"><circle cx="169" cy="244" r="6"/><circle cx="176" cy="246" r="6"/><circle cx="183" cy="244" r="6"/><circle cx="196" cy="252" r="6"/><circle cx="203" cy="241" r="6"/><circle cx="218" cy="248" r="6"/><circle cx="218" cy="244" r="6"/><circle cx="236" cy="236" r="6"/><circle cx="250" cy="235" r="6"/><circle cx="247" cy="244" r="6"/><circle cx="265" cy="235" r="6"/><circle cx="275" cy="226" r="6"/><circle cx="283" cy="223" r="6"/><circle cx="294" cy="214" r="6"/><circle cx="297" cy="221" r="6"/><circle cx="303" cy="217" r="6"/><circle cx="312" cy="210" r="6"/><circle cx="325" cy="215" r="6"/><circle cx="331" cy="205" r="6"/><circle cx="348" cy="203" r="6"/><circle cx="354" cy="197" r="6"/><circle cx="364" cy="208" r="6"/><circle cx="372" cy="193" r="6"/><circle cx="383" cy="186" r="6"/><circle cx="383" cy="184" r="6"/><circle cx="401" cy="175" r="6"/><circle cx="412" cy="172" r="6"/><circle cx="419" cy="176" r="6"/><circle cx="431" cy="163" r="6"/><circle cx="440" cy="154" r="6"/><circle cx="444" cy="153" r="6"/><circle cx="456" cy="154" r="6"/><circle cx="468" cy="144" r="6"/><circle cx="470" cy="154" r="6"/><circle cx="477" cy="152" r="6"/><circle cx="495" cy="160" r="6"/><circle cx="498" cy="164" r="6"/><circle cx="507" cy="162" r="6"/><circle cx="516" cy="172" r="6"/><circle cx="521" cy="176" r="6"/><circle cx="511" cy="189" r="6"/><circle cx="504" cy="194" r="6"/><circle cx="496" cy="203" r="6"/><circle cx="493" cy="219" r="6"/><circle cx="493" cy="220" r="6"/><circle cx="475" cy="227" r="6"/><circle cx="469" cy="232" r="6"/><circle cx="465" cy="250" r="6"/><circle cx="457" cy="256" r="6"/><circle cx="459" cy="259" r="6"/><circle cx="451" cy="266" r="6"/><circle cx="450" cy="272" r="6"/><circle cx="442" cy="289" r="6"/><circle cx="437" cy="293" r="6"/><circle cx="431" cy="302" r="6"/><circle cx="429" cy="315" r="6"/><circle cx="418" cy="315" r="6"/><circle cx="412" cy="317" r="6"/><circle cx="408" cy="322" r="6"/><circle cx="395" cy="332" r="6"/><circle cx="383" cy="333" r="6"/><circle cx="378" cy="331" r="6"/><circle cx="364" cy="330" r="6"/><circle cx="353" cy="335" r="6"/><circle cx="355" cy="341" r="6"/><circle cx="344" cy="337" r="6"/><circle cx="333" cy="347" r="6"/><circle cx="323" cy="350" r="6"/><circle cx="319" cy="348" r="6"/><circle cx="299" cy="345" r="6"/><circle cx="298" cy="348" r="6"/><circle cx="286" cy="345" r="6"/><circle cx="273" cy="342" r="6"/><circle cx="275" cy="342" r="6"/><circle cx="253" cy="338" r="6"/><circle cx="252" cy="345" r="6"/><circle cx="253" cy="348" r="6"/><circle cx="233" cy="341" r="6"/><circle cx="228" cy="335" r="6"/><circle cx="213" cy="333" r="6"/><circle cx="201" cy="343" r="6"/><circle cx="197" cy="334" r="6"/><circle cx="179" cy="326" r="6"/><circle cx="184" cy="327" r="6"/><circle cx="167" cy="323" r="6"/><circle cx="166" cy="312" r="6"/><circle cx="160" cy="300" r="6"/><circle cx="158" cy="292" r="6"/><circle cx="169" cy="288" r="6"/><circle cx="168" cy="275" r="6"/><circle cx="163" cy="264" r="6"/><circle cx="170" cy="262" r="6"/><circle cx="165" cy="250" r="6"/><circle cx="166" cy="240" r="6"/></g><polygon points="73,100 109,91 145,82 182,82 218,73 275,64 300,90 311,100 339,136 343,173 320,200 293,227 275,227 255,236 218,245 182,245 164,236 145,218 118,200 100,182 82,155 73,127" fill="#31688e" stroke="#31688e" stroke-width="6" stroke-linejoin="round" filter="url(#rough)"/><g fill="#31688e" filter="url(#rough)"><circle cx="84" cy="104" r="6"/><circle cx="79" cy="93" r="6"/><circle cx="92" cy="89" r="6"/><circle cx="105" cy="88" r="6"/><circle cx="111" cy="89" r="6"/><circle cx="125" cy="81" r="6"/><circle cx="139" cy="89" r="6"/><circle cx="142" cy="83" r="6"/><circle cx="151" cy="82" r="6"/><circle cx="161" cy="77" r="6"/><circle cx="167" cy="80" r="6"/><circle cx="179" cy="81" r="6"/><circle cx="196" cy="86" r="6"/><circle cx="203" cy="82" r="6"/><circle cx="200" cy="79" r="6"/><circle cx="214" cy="75" r="6"/><circle cx="213" cy="78" r="6"/><circle cx="231" cy="67" r="6"/><circle cx="251" cy="69" r="6"/><circle cx="254" cy="72" r="6"/><circle cx="256" cy="62" r="6"/><circle cx="267" cy="68" r="6"/><circle cx="274" cy="68" r="6"/><circle cx="280" cy="69" r="6"/><circle cx="284" cy="78" r="6"/><circle cx="301" cy="97" r="6"/><circle cx="302" cy="98" r="6"/><circle cx="310" cy="101" r="6"/><circle cx="322" cy="114" r="6"/><circle cx="333" cy="124" r="6"/><circle cx="334" cy="123" r="6"/><circle cx="338" cy="132" r="6"/><circle cx="333" cy="132" r="6"/><circle cx="341" cy="147" r="6"/><circle cx="346" cy="155" r="6"/><circle cx="344" cy="172" r="6"/><circle cx="343" cy="177" r="6"/><circle cx="335" cy="190" r="6"/><circle cx="329" cy="190" r="6"/><circle cx="307" cy="208" r="6"/><circle cx="306" cy="206" r="6"/><circle cx="301" cy="216" r="6"/><circle cx="305" cy="216" r="6"/><circle cx="290" cy="221" r="6"/><circle cx="281" cy="229" r="6"/><circle cx="264" cy="224" r="6"/><circle cx="262" cy="238" r="6"/><circle cx="245" cy="243" r="6"/><circle cx="249" cy="232" r="6"/><circle cx="236" cy="239" r="6"/><circle cx="230" cy="243" r="6"/><circle cx="216" cy="249" r="6"/><circle cx="206" cy="240" r="6"/><circle cx="197" cy="238" r="6"/><circle cx="187" cy="240" r="6"/><circle cx="183" cy="244" r="6"/><circle cx="162" cy="241" r="6"/><circle cx="163" cy="225" r="6"/><circle cx="148" cy="222" r="6"/><circle cx="138" cy="218" r="6"/><circle cx="129" cy="209" r="6"/><circle cx="122" cy="202" r="6"/><circle cx="115" cy="189" r="6"/><circle cx="109" cy="188" r="6"/><circle cx="101" cy="184" r="6"/><circle cx="82" cy="166" r="6"/><circle cx="86" cy="155" r="6"/><circle cx="76" cy="153" r="6"/><circle cx="76" cy="135" r="6"/><circle cx="79" cy="140" r="6"/><circle cx="70" cy="121" r="6"/><circle cx="78" cy="108" r="6"/><circle cx="77" cy="101" r="6"/></g><polygon points="145,82 182,70 218,62 245,40 255,30 262,50 275,55 275,73 320,68 366,68 411,77 448,100 466,118 475,145 457,155 420,164 393,182 375,200 357,200 348,173 339,136 320,109 275,91 218,85 160,92" fill="#fde725" stroke="#fde725" stroke-width="6" stroke-linejoin="round" filter="url(#rough)"/><g fill="#fde725" filter="url(#rough)"><circle cx="147" cy="81" r="6"/><circle cx="151" cy="85" r="6"/><circle cx="172" cy="70" r="6"/><circle cx="174" cy="77" r="6"/><circle cx="191" cy="65" r="6"/><circle cx="195" cy="65" r="6"/><circle cx="205" cy="65" r="6"/><circle cx="215" cy="67" r="6"/><circle cx="219" cy="62" r="6"/><circle cx="231" cy="50" r="6"/><circle cx="241" cy="50" r="6"/><circle cx="248" cy="36" r="6"/><circle cx="260" cy="31" r="6"/><circle cx="262" cy="36" r="6"/><circle cx="267" cy="57" r="6"/><circle cx="269" cy="58" r="6"/><circle cx="278" cy="66" r="6"/><circle cx="270" cy="78" r="6"/><circle cx="279" cy="75" r="6"/><circle cx="296" cy="73" r="6"/><circle cx="303" cy="72" r="6"/><circle cx="323" cy="65" r="6"/><circle cx="325" cy="67" r="6"/><circle cx="323" cy="66" r="6"/><circle cx="346" cy="72" r="6"/><circle cx="351" cy="64" r="6"/><circle cx="357" cy="71" r="6"/><circle cx="373" cy="73" r="6"/><circle cx="370" cy="66" r="6"/><circle cx="387" cy="74" r="6"/><circle cx="405" cy="82" r="6"/><circle cx="408" cy="70" r="6"/><circle cx="422" cy="79" r="6"/><circle cx="418" cy="81" r="6"/><circle cx="429" cy="84" r="6"/><circle cx="438" cy="96" r="6"/><circle cx="455" cy="110" r="6"/><circle cx="459" cy="110" r="6"/><circle cx="462" cy="119" r="6"/><circle cx="470" cy="126" r="6"/><circle cx="481" cy="138" r="6"/><circle cx="481" cy="144" r="6"/><circle cx="461" cy="154" r="6"/><circle cx="454" cy="158" r="6"/><circle cx="453" cy="154" r="6"/><circle cx="439" cy="163" r="6"/><circle cx="423" cy="162" r="6"/><circle cx="413" cy="166" r="6"/><circle cx="417" cy="165" r="6"/><circle cx="403" cy="174" r="6"/><circle cx="378" cy="189" r="6"/><circle cx="373" cy="202" r="6"/><circle cx="365" cy="197" r="6"/><circle cx="369" cy="206" r="6"/><circle cx="359" cy="193" r="6"/><circle cx="351" cy="179" r="6"/><circle cx="349" cy="178" r="6"/><circle cx="343" cy="168" r="6"/><circle cx="345" cy="164" r="6"/><circle cx="340" cy="151" r="6"/><circle cx="346" cy="133" r="6"/><circle cx="330" cy="126" r="6"/><circle cx="325" cy="121" r="6"/><circle cx="321" cy="109" r="6"/><circle cx="311" cy="109" r="6"/><circle cx="311" cy="101" r="6"/><circle cx="306" cy="95" r="6"/><circle cx="288" cy="101" r="6"/><circle cx="274" cy="95" r="6"/><circle cx="270" cy="84" r="6"/><circle cx="257" cy="95" r="6"/><circle cx="248" cy="88" r="6"/><circle cx="241" cy="87" r="6"/><circle cx="224" cy="85" r="6"/><circle cx="219" cy="90" r="6"/><circle cx="211" cy="85" r="6"/><circle cx="206" cy="89" r="6"/><circle cx="196" cy="90" r="6"/><circle cx="178" cy="90" r="6"/><circle cx="170" cy="86" r="6"/><circle cx="169" cy="94" r="6"/><circle cx="151" cy="84" r="6"/><circle cx="141" cy="89" r="6"/></g><polygon points="36,118 55,105 73,109 73,127 82,155 100,182 118,200 145,218 170,236 185,262 190,290 170,300 130,300 91,288 64,268 41,248 32,227 32,164" fill="#440154" stroke="#440154" stroke-width="6" stroke-linejoin="round" filter="url(#rough)"/><g fill="#440154" filter="url(#rough)"><circle cx="43" cy="117" r="6"/><circle cx="49" cy="104" r="6"/><circle cx="66" cy="106" r="6"/><circle cx="58" cy="103" r="6"/><circle cx="78" cy="118" r="6"/><circle cx="67" cy="123" r="6"/><circle cx="73" cy="137" r="6"/><circle cx="72" cy="139" r="6"/><circle cx="82" cy="158" r="6"/><circle cx="78" cy="150" r="6"/><circle cx="87" cy="164" r="6"/><circle cx="94" cy="178" r="6"/><circle cx="101" cy="194" r="6"/><circle cx="118" cy="193" r="6"/><circle cx="119" cy="197" r="6"/><circle cx="131" cy="209" r="6"/><circle cx="151" cy="217" r="6"/><circle cx="145" cy="215" r="6"/><circle cx="161" cy="229" r="6"/><circle cx="163" cy="228" r="6"/><circle cx="170" cy="245" r="6"/><circle cx="173" cy="254" r="6"/><circle cx="184" cy="263" r="6"/><circle cx="187" cy="268" r="6"/><circle cx="190" cy="280" r="6"/><circle cx="188" cy="293" r="6"/><circle cx="183" cy="289" r="6"/><circle cx="169" cy="302" r="6"/><circle cx="164" cy="295" r="6"/><circle cx="154" cy="304" r="6"/><circle cx="148" cy="304" r="6"/><circle cx="136" cy="306" r="6"/><circle cx="131" cy="301" r="6"/><circle cx="112" cy="302" r="6"/><circle cx="108" cy="289" r="6"/><circle cx="99" cy="296" r="6"/><circle cx="87" cy="280" r="6"/><circle cx="79" cy="279" r="6"/><circle cx="75" cy="272" r="6"/><circle cx="57" cy="262" r="6"/><circle cx="63" cy="256" r="6"/><circle cx="48" cy="250" r="6"/><circle cx="41" cy="246" r="6"/><circle cx="31" cy="239" r="6"/><circle cx="29" cy="220" r="6"/><circle cx="35" cy="206" r="6"/><circle cx="37" cy="200" r="6"/><circle cx="32" cy="200" r="6"/><circle cx="39" cy="187" r="6"/><circle cx="35" cy="173" r="6"/><circle cx="34" cy="169" r="6"/><circle cx="31" cy="149" r="6"/><circle cx="38" cy="156" r="6"/><circle cx="36" cy="145" r="6"/><circle cx="34" cy="133" r="6"/><circle cx="31" cy="119" r="6"/></g><circle cx="191" cy="132" r="5" fill="#fde725"/><circle cx="223" cy="118" r="5" fill="#fde725"/><circle cx="245" cy="109" r="5" fill="#fde725"/><circle cx="136" cy="341" r="5" fill="#440154"/><circle cx="40" cy="250" r="5" fill="#440154"/><circle cx="240" cy="45" r="5" fill="#31688e"/><circle cx="45" cy="125" r="5" fill="#31688e"/><circle cx="280" cy="170" r="5" fill="#35b779"/><circle cx="330" cy="200" r="5" fill="#35b779"/>
</g></g></g>
<rect x="165.5" y="306.6" width="107.2" height="69.7" fill="none" stroke="#a6a6a6" stroke-width="0.9"/>
<line x1="163.5" y1="362.7" x2="165.5" y2="362.7" stroke="#707070" stroke-width="0.7"/>
<text x="161.9" y="362.9" font-size="6.3" text-anchor="end" dominant-baseline="central">5</text>
<line x1="163.5" y1="339.4" x2="165.5" y2="339.4" stroke="#707070" stroke-width="0.7"/>
<text x="161.9" y="339.6" font-size="6.3" text-anchor="end" dominant-baseline="central">10</text>
<line x1="163.5" y1="316.1" x2="165.5" y2="316.1" stroke="#707070" stroke-width="0.7"/>
<text x="161.9" y="316.3" font-size="6.3" text-anchor="end" dominant-baseline="central">15</text>
<text x="148.6" y="342.55" font-size="7.1" text-anchor="middle" dominant-baseline="central" transform="rotate(-90 148.6 342.55)">Yield (t/ha)</text>
<line x1="203.3" y1="376.3" x2="203.3" y2="378.3" stroke="#707070" stroke-width="0.7"/>
<text x="203.3" y="382.8" font-size="5.5" text-anchor="middle" dominant-baseline="central">40</text>
<line x1="242.8" y1="376.3" x2="242.8" y2="378.3" stroke="#707070" stroke-width="0.7"/>
<text x="242.8" y="382.8" font-size="5.5" text-anchor="middle" dominant-baseline="central">45</text>
<text x="221" y="389.9" font-size="7.313" text-anchor="middle" dominant-baseline="central">P(mg/100g)</text>
<clipPath id="ce12"><rect x="301.5" y="306.6" width="107.4" height="69.7"/></clipPath>
<g clip-path="url(#ce12)"><g transform="translate(300 304) scale(0.2)"><g>
<polygon points="100,68 136,59 182,50 209,50 250,50 268,28 280,28 285,50 320,62 366,71 411,75 448,89 457,109 439,118 402,127 366,145 330,173 302,191 275,191 255,182 218,182 191,164 182,136 155,100 109,86" fill="#fde725" stroke="#fde725" stroke-width="6" stroke-linejoin="round" filter="url(#rough)"/><g fill="#fde725" filter="url(#rough)"><circle cx="102" cy="71" r="6"/><circle cx="107" cy="65" r="6"/><circle cx="130" cy="56" r="6"/><circle cx="129" cy="63" r="6"/><circle cx="136" cy="56" r="6"/><circle cx="152" cy="52" r="6"/><circle cx="150" cy="54" r="6"/><circle cx="163" cy="59" r="6"/><circle cx="186" cy="45" r="6"/><circle cx="192" cy="52" r="6"/><circle cx="191" cy="50" r="6"/><circle cx="212" cy="53" r="6"/><circle cx="204" cy="56" r="6"/><circle cx="222" cy="52" r="6"/><circle cx="227" cy="54" r="6"/><circle cx="240" cy="46" r="6"/><circle cx="249" cy="48" r="6"/><circle cx="259" cy="37" r="6"/><circle cx="263" cy="28" r="6"/><circle cx="278" cy="28" r="6"/><circle cx="276" cy="41" r="6"/><circle cx="284" cy="50" r="6"/><circle cx="287" cy="46" r="6"/><circle cx="297" cy="53" r="6"/><circle cx="306" cy="60" r="6"/><circle cx="312" cy="58" r="6"/><circle cx="322" cy="63" r="6"/><circle cx="324" cy="71" r="6"/><circle cx="352" cy="64" r="6"/><circle cx="349" cy="73" r="6"/><circle cx="363" cy="65" r="6"/><circle cx="371" cy="70" r="6"/><circle cx="389" cy="71" r="6"/><circle cx="386" cy="67" r="6"/><circle cx="397" cy="80" r="6"/><circle cx="408" cy="76" r="6"/><circle cx="413" cy="76" r="6"/><circle cx="422" cy="79" r="6"/><circle cx="440" cy="87" r="6"/><circle cx="453" cy="89" r="6"/><circle cx="453" cy="84" r="6"/><circle cx="450" cy="100" r="6"/><circle cx="453" cy="108" r="6"/><circle cx="442" cy="121" r="6"/><circle cx="431" cy="122" r="6"/><circle cx="416" cy="116" r="6"/><circle cx="416" cy="130" r="6"/><circle cx="405" cy="130" r="6"/><circle cx="402" cy="126" r="6"/><circle cx="387" cy="134" r="6"/><circle cx="378" cy="133" r="6"/><circle cx="374" cy="145" r="6"/><circle cx="360" cy="150" r="6"/><circle cx="354" cy="153" r="6"/><circle cx="341" cy="153" r="6"/><circle cx="345" cy="162" r="6"/><circle cx="330" cy="170" r="6"/><circle cx="328" cy="177" r="6"/><circle cx="319" cy="179" r="6"/><circle cx="301" cy="194" r="6"/><circle cx="296" cy="195" r="6"/><circle cx="288" cy="193" r="6"/><circle cx="280" cy="191" r="6"/><circle cx="268" cy="194" r="6"/><circle cx="262" cy="181" r="6"/><circle cx="248" cy="184" r="6"/><circle cx="245" cy="184" r="6"/><circle cx="237" cy="189" r="6"/><circle cx="218" cy="185" r="6"/><circle cx="217" cy="174" r="6"/><circle cx="199" cy="175" r="6"/><circle cx="190" cy="160" r="6"/><circle cx="190" cy="165" r="6"/><circle cx="188" cy="152" r="6"/><circle cx="178" cy="135" r="6"/><circle cx="178" cy="130" r="6"/><circle cx="173" cy="134" r="6"/><circle cx="167" cy="114" r="6"/><circle cx="159" cy="103" r="6"/><circle cx="153" cy="98" r="6"/><circle cx="151" cy="100" r="6"/><circle cx="136" cy="89" r="6"/><circle cx="139" cy="92" r="6"/><circle cx="127" cy="90" r="6"/><circle cx="112" cy="83" r="6"/><circle cx="103" cy="82" r="6"/><circle cx="101" cy="64" r="6"/></g><polygon points="182,200 209,182 245,182 275,191 330,173 384,136 439,114 475,105 511,109 520,118 502,145 493,182 493,236 484,273 466,309 439,336 402,350 348,350 302,345 275,336 236,282 209,264 195,240" fill="#35b779" stroke="#35b779" stroke-width="6" stroke-linejoin="round" filter="url(#rough)"/><g fill="#35b779" filter="url(#rough)"><circle cx="191" cy="195" r="6"/><circle cx="204" cy="190" r="6"/><circle cx="204" cy="189" r="6"/><circle cx="219" cy="185" r="6"/><circle cx="221" cy="181" r="6"/><circle cx="238" cy="187" r="6"/><circle cx="243" cy="175" r="6"/><circle cx="246" cy="184" r="6"/><circle cx="261" cy="181" r="6"/><circle cx="273" cy="186" r="6"/><circle cx="276" cy="195" r="6"/><circle cx="296" cy="190" r="6"/><circle cx="296" cy="184" r="6"/><circle cx="302" cy="187" r="6"/><circle cx="312" cy="172" r="6"/><circle cx="321" cy="174" r="6"/><circle cx="339" cy="175" r="6"/><circle cx="344" cy="163" r="6"/><circle cx="344" cy="158" r="6"/><circle cx="352" cy="149" r="6"/><circle cx="364" cy="145" r="6"/><circle cx="377" cy="150" r="6"/><circle cx="385" cy="136" r="6"/><circle cx="390" cy="140" r="6"/><circle cx="389" cy="133" r="6"/><circle cx="408" cy="121" r="6"/><circle cx="419" cy="127" r="6"/><circle cx="421" cy="123" r="6"/><circle cx="435" cy="118" r="6"/><circle cx="439" cy="120" r="6"/><circle cx="453" cy="104" r="6"/><circle cx="467" cy="109" r="6"/><circle cx="469" cy="104" r="6"/><circle cx="481" cy="106" r="6"/><circle cx="495" cy="101" r="6"/><circle cx="489" cy="106" r="6"/><circle cx="507" cy="107" r="6"/><circle cx="520" cy="117" r="6"/><circle cx="511" cy="119" r="6"/><circle cx="514" cy="132" r="6"/><circle cx="504" cy="138" r="6"/><circle cx="498" cy="149" r="6"/><circle cx="499" cy="159" r="6"/><circle cx="500" cy="167" r="6"/><circle cx="489" cy="169" r="6"/><circle cx="493" cy="179" r="6"/><circle cx="497" cy="195" r="6"/><circle cx="491" cy="202" r="6"/><circle cx="495" cy="221" r="6"/><circle cx="494" cy="228" r="6"/><circle cx="499" cy="232" r="6"/><circle cx="497" cy="243" r="6"/><circle cx="491" cy="251" r="6"/><circle cx="481" cy="266" r="6"/><circle cx="491" cy="262" r="6"/><circle cx="485" cy="281" r="6"/><circle cx="474" cy="289" r="6"/><circle cx="470" cy="293" r="6"/><circle cx="461" cy="302" r="6"/><circle cx="468" cy="309" r="6"/><circle cx="455" cy="319" r="6"/><circle cx="448" cy="326" r="6"/><circle cx="444" cy="329" r="6"/><circle cx="439" cy="342" r="6"/><circle cx="430" cy="343" r="6"/><circle cx="415" cy="349" r="6"/><circle cx="397" cy="343" r="6"/><circle cx="397" cy="345" r="6"/><circle cx="392" cy="353" r="6"/><circle cx="376" cy="346" r="6"/><circle cx="365" cy="352" r="6"/><circle cx="358" cy="346" r="6"/><circle cx="353" cy="351" r="6"/><circle cx="335" cy="343" r="6"/><circle cx="332" cy="349" r="6"/><circle cx="321" cy="342" r="6"/><circle cx="322" cy="352" r="6"/><circle cx="306" cy="348" r="6"/><circle cx="292" cy="335" r="6"/><circle cx="294" cy="334" r="6"/><circle cx="284" cy="340" r="6"/><circle cx="274" cy="339" r="6"/><circle cx="270" cy="326" r="6"/><circle cx="256" cy="318" r="6"/><circle cx="257" cy="313" r="6"/><circle cx="254" cy="304" r="6"/><circle cx="249" cy="287" r="6"/><circle cx="237" cy="282" r="6"/><circle cx="236" cy="280" r="6"/><circle cx="219" cy="271" r="6"/><circle cx="213" cy="263" r="6"/><circle cx="210" cy="262" r="6"/><circle cx="202" cy="255" r="6"/><circle cx="200" cy="243" r="6"/><circle cx="193" cy="236" r="6"/><circle cx="195" cy="233" r="6"/><circle cx="188" cy="218" r="6"/><circle cx="181" cy="205" r="6"/></g><polygon points="36,86 55,73 91,77 109,82 182,91 191,118 191,164 182,191 164,218 136,236 109,255 82,245 55,209 45,164 36,118" fill="#31688e" stroke="#31688e" stroke-width="6" stroke-linejoin="round" filter="url(#rough)"/><g fill="#31688e" filter="url(#rough)"><circle cx="45" cy="84" r="6"/><circle cx="58" cy="82" r="6"/><circle cx="55" cy="69" r="6"/><circle cx="58" cy="73" r="6"/><circle cx="73" cy="70" r="6"/><circle cx="85" cy="72" r="6"/><circle cx="97" cy="83" r="6"/><circle cx="100" cy="75" r="6"/><circle cx="112" cy="82" r="6"/><circle cx="131" cy="80" r="6"/><circle cx="139" cy="81" r="6"/><circle cx="144" cy="87" r="6"/><circle cx="159" cy="89" r="6"/><circle cx="166" cy="83" r="6"/><circle cx="165" cy="93" r="6"/><circle cx="184" cy="88" r="6"/><circle cx="178" cy="97" r="6"/><circle cx="190" cy="114" r="6"/><circle cx="188" cy="115" r="6"/><circle cx="198" cy="118" r="6"/><circle cx="186" cy="132" r="6"/><circle cx="197" cy="149" r="6"/><circle cx="193" cy="153" r="6"/><circle cx="187" cy="163" r="6"/><circle cx="191" cy="170" r="6"/><circle cx="189" cy="173" r="6"/><circle cx="179" cy="186" r="6"/><circle cx="181" cy="202" r="6"/><circle cx="178" cy="202" r="6"/><circle cx="174" cy="215" r="6"/><circle cx="162" cy="222" r="6"/><circle cx="154" cy="227" r="6"/><circle cx="140" cy="235" r="6"/><circle cx="128" cy="232" r="6"/><circle cx="128" cy="239" r="6"/><circle cx="115" cy="248" r="6"/><circle cx="113" cy="260" r="6"/><circle cx="93" cy="253" r="6"/><circle cx="81" cy="242" r="6"/><circle cx="84" cy="241" r="6"/><circle cx="72" cy="232" r="6"/><circle cx="76" cy="229" r="6"/><circle cx="61" cy="229" r="6"/><circle cx="61" cy="221" r="6"/><circle cx="54" cy="212" r="6"/><circle cx="49" cy="200" r="6"/><circle cx="49" cy="191" r="6"/><circle cx="44" cy="182" r="6"/><circle cx="49" cy="160" r="6"/><circle cx="40" cy="152" r="6"/><circle cx="38" cy="157" r="6"/><circle cx="38" cy="142" r="6"/><circle cx="38" cy="127" r="6"/><circle cx="42" cy="119" r="6"/><circle cx="34" cy="117" r="6"/><circle cx="36" cy="111" r="6"/><circle cx="30" cy="86" r="6"/></g><polygon points="45,182 55,209 64,218 91,241 118,245 164,227 200,218 212,245 195,270 160,285 130,300 100,305 82,300 64,270 55,235" fill="#440154" stroke="#440154" stroke-width="6" stroke-linejoin="round" filter="url(#rough)"/><g fill="#440154" filter="url(#rough)"><circle cx="53" cy="193" r="6"/><circle cx="53" cy="200" r="6"/><circle cx="56" cy="214" r="6"/><circle cx="60" cy="218" r="6"/><circle cx="69" cy="221" r="6"/><circle cx="69" cy="225" r="6"/><circle cx="84" cy="229" r="6"/><circle cx="96" cy="246" r="6"/><circle cx="95" cy="241" r="6"/><circle cx="117" cy="242" r="6"/><circle cx="119" cy="243" r="6"/><circle cx="126" cy="241" r="6"/><circle cx="134" cy="243" r="6"/><circle cx="143" cy="235" r="6"/><circle cx="163" cy="225" r="6"/><circle cx="162" cy="227" r="6"/><circle cx="179" cy="216" r="6"/><circle cx="186" cy="216" r="6"/><circle cx="198" cy="225" r="6"/><circle cx="199" cy="220" r="6"/><circle cx="201" cy="233" r="6"/><circle cx="208" cy="238" r="6"/><circle cx="206" cy="248" r="6"/><circle cx="209" cy="256" r="6"/><circle cx="204" cy="268" r="6"/><circle cx="186" cy="270" r="6"/><circle cx="188" cy="276" r="6"/><circle cx="169" cy="284" r="6"/><circle cx="162" cy="280" r="6"/><circle cx="153" cy="289" r="6"/><circle cx="153" cy="294" r="6"/><circle cx="136" cy="302" r="6"/><circle cx="121" cy="302" r="6"/><circle cx="119" cy="309" r="6"/><circle cx="100" cy="309" r="6"/><circle cx="96" cy="300" r="6"/><circle cx="94" cy="304" r="6"/><circle cx="74" cy="294" r="6"/><circle cx="65" cy="284" r="6"/><circle cx="74" cy="273" r="6"/><circle cx="59" cy="273" r="6"/><circle cx="55" cy="260" r="6"/><circle cx="57" cy="251" r="6"/><circle cx="56" cy="237" r="6"/><circle cx="48" cy="232" r="6"/><circle cx="49" cy="219" r="6"/><circle cx="48" cy="212" r="6"/><circle cx="55" cy="207" r="6"/><circle cx="42" cy="189" r="6"/></g><circle cx="206" cy="101" r="5.5" fill="#440154"/><circle cx="239" cy="88" r="5.5" fill="#440154"/><circle cx="230" cy="96" r="5.5" fill="#440154"/><circle cx="226" cy="106" r="5.5" fill="#440154"/><circle cx="226" cy="74" r="5.5" fill="#440154"/><circle cx="220" cy="97" r="5.5" fill="#440154"/><circle cx="168" cy="92" r="5.5" fill="#440154"/><circle cx="188" cy="79" r="5.5" fill="#440154"/><circle cx="239" cy="108" r="5.5" fill="#440154"/><circle cx="198" cy="83" r="5.5" fill="#440154"/><circle cx="68" cy="132" r="5" fill="#fde725"/><circle cx="180" cy="155" r="5" fill="#fde725"/><circle cx="420" cy="160" r="5" fill="#fde725"/><circle cx="370" cy="190" r="5" fill="#fde725"/><circle cx="300" cy="175" r="5" fill="#fde725"/><circle cx="200" cy="45" r="5" fill="#31688e"/><circle cx="230" cy="170" r="5" fill="#31688e"/><circle cx="182" cy="318" r="5" fill="#440154"/><circle cx="109" cy="341" r="5" fill="#440154"/><circle cx="260" cy="175" r="5" fill="#440154"/>
</g></g></g>
<rect x="301.5" y="306.6" width="107.4" height="69.7" fill="none" stroke="#a6a6a6" stroke-width="0.9"/>
<line x1="299.5" y1="362.7" x2="301.5" y2="362.7" stroke="#707070" stroke-width="0.7"/>
<text x="297.9" y="362.9" font-size="6.3" text-anchor="end" dominant-baseline="central">5</text>
<line x1="299.5" y1="339.4" x2="301.5" y2="339.4" stroke="#707070" stroke-width="0.7"/>
<text x="297.9" y="339.6" font-size="6.3" text-anchor="end" dominant-baseline="central">10</text>
<line x1="299.5" y1="316.1" x2="301.5" y2="316.1" stroke="#707070" stroke-width="0.7"/>
<text x="297.9" y="316.3" font-size="6.3" text-anchor="end" dominant-baseline="central">15</text>
<text x="284.6" y="342.55" font-size="7.1" text-anchor="middle" dominant-baseline="central" transform="rotate(-90 284.6 342.55)">Yield (t/ha)</text>
<line x1="309.9" y1="376.3" x2="309.9" y2="378.3" stroke="#707070" stroke-width="0.7"/>
<text x="309.9" y="382.8" font-size="5.5" text-anchor="middle" dominant-baseline="central">7.4</text>
<line x1="341.1" y1="376.3" x2="341.1" y2="378.3" stroke="#707070" stroke-width="0.7"/>
<text x="341.1" y="382.8" font-size="5.5" text-anchor="middle" dominant-baseline="central">7.6</text>
<line x1="372.6" y1="376.3" x2="372.6" y2="378.3" stroke="#707070" stroke-width="0.7"/>
<text x="372.6" y="382.8" font-size="5.5" text-anchor="middle" dominant-baseline="central">7.8</text>
<line x1="404" y1="376.3" x2="404" y2="378.3" stroke="#707070" stroke-width="0.7"/>
<text x="404" y="382.8" font-size="5.5" text-anchor="middle" dominant-baseline="central">8.0</text>
<text x="354.4" y="389.9" font-size="7.313" text-anchor="middle" dominant-baseline="central">pH</text>
<clipPath id="ce13"><rect x="438.5" y="306.6" width="107" height="69.7"/></clipPath>
<g clip-path="url(#ce13)"><g transform="translate(437 304) scale(0.2)"><g>
<polygon points="32,118 41,105 50,110 50,182 64,227 91,282 82,290 64,260 45,215 36,164 32,127" fill="#440154" stroke="#440154" stroke-width="6" stroke-linejoin="round" filter="url(#rough)"/><g fill="#440154" filter="url(#rough)"><circle cx="39" cy="119" r="6"/><circle cx="42" cy="102" r="6"/><circle cx="46" cy="122" r="6"/><circle cx="49" cy="117" r="6"/><circle cx="53" cy="128" r="6"/><circle cx="49" cy="135" r="6"/><circle cx="54" cy="154" r="6"/><circle cx="51" cy="164" r="6"/><circle cx="57" cy="172" r="6"/><circle cx="51" cy="175" r="6"/><circle cx="55" cy="196" r="6"/><circle cx="62" cy="198" r="6"/><circle cx="51" cy="205" r="6"/><circle cx="66" cy="207" r="6"/><circle cx="67" cy="226" r="6"/><circle cx="75" cy="230" r="6"/><circle cx="72" cy="240" r="6"/><circle cx="77" cy="253" r="6"/><circle cx="77" cy="256" r="6"/><circle cx="86" cy="260" r="6"/><circle cx="92" cy="285" r="6"/><circle cx="85" cy="281" r="6"/><circle cx="82" cy="273" r="6"/><circle cx="75" cy="278" r="6"/><circle cx="71" cy="260" r="6"/><circle cx="67" cy="258" r="6"/><circle cx="58" cy="243" r="6"/><circle cx="47" cy="239" r="6"/><circle cx="55" cy="225" r="6"/><circle cx="53" cy="223" r="6"/><circle cx="40" cy="207" r="6"/><circle cx="37" cy="206" r="6"/><circle cx="35" cy="191" r="6"/><circle cx="44" cy="178" r="6"/><circle cx="31" cy="168" r="6"/><circle cx="30" cy="155" r="6"/><circle cx="36" cy="160" r="6"/><circle cx="34" cy="136" r="6"/><circle cx="26" cy="133" r="6"/><circle cx="29" cy="129" r="6"/></g><polygon points="41,105 64,91 100,86 118,91 127,118 150,140 173,155 191,182 209,209 236,236 264,255 275,264 275,273 264,291 245,318 218,336 182,341 145,336 118,318 91,300 82,273 73,245 64,218 55,191 45,155 41,118" fill="#35b779" stroke="#35b779" stroke-width="6" stroke-linejoin="round" filter="url(#rough)"/><g fill="#35b779" filter="url(#rough)"><circle cx="47" cy="99" r="6"/><circle cx="59" cy="88" r="6"/><circle cx="69" cy="87" r="6"/><circle cx="69" cy="85" r="6"/><circle cx="79" cy="88" r="6"/><circle cx="90" cy="86" r="6"/><circle cx="105" cy="91" r="6"/><circle cx="122" cy="88" r="6"/><circle cx="119" cy="93" r="6"/><circle cx="124" cy="100" r="6"/><circle cx="128" cy="120" r="6"/><circle cx="131" cy="129" r="6"/><circle cx="135" cy="128" r="6"/><circle cx="149" cy="132" r="6"/><circle cx="155" cy="143" r="6"/><circle cx="170" cy="152" r="6"/><circle cx="175" cy="149" r="6"/><circle cx="180" cy="167" r="6"/><circle cx="176" cy="167" r="6"/><circle cx="186" cy="181" r="6"/><circle cx="193" cy="190" r="6"/><circle cx="196" cy="195" r="6"/><circle cx="201" cy="206" r="6"/><circle cx="209" cy="213" r="6"/><circle cx="226" cy="225" r="6"/><circle cx="231" cy="222" r="6"/><circle cx="238" cy="231" r="6"/><circle cx="240" cy="245" r="6"/><circle cx="246" cy="247" r="6"/><circle cx="261" cy="252" r="6"/><circle cx="272" cy="266" r="6"/><circle cx="280" cy="267" r="6"/><circle cx="267" cy="271" r="6"/><circle cx="274" cy="278" r="6"/><circle cx="260" cy="292" r="6"/><circle cx="262" cy="306" r="6"/><circle cx="252" cy="313" r="6"/><circle cx="234" cy="323" r="6"/><circle cx="231" cy="326" r="6"/><circle cx="217" cy="340" r="6"/><circle cx="223" cy="338" r="6"/><circle cx="200" cy="333" r="6"/><circle cx="203" cy="338" r="6"/><circle cx="187" cy="347" r="6"/><circle cx="188" cy="343" r="6"/><circle cx="170" cy="341" r="6"/><circle cx="158" cy="343" r="6"/><circle cx="148" cy="344" r="6"/><circle cx="139" cy="328" r="6"/><circle cx="125" cy="332" r="6"/><circle cx="127" cy="322" r="6"/><circle cx="115" cy="308" r="6"/><circle cx="102" cy="307" r="6"/><circle cx="103" cy="300" r="6"/><circle cx="88" cy="304" r="6"/><circle cx="88" cy="285" r="6"/><circle cx="87" cy="282" r="6"/><circle cx="85" cy="271" r="6"/><circle cx="81" cy="253" r="6"/><circle cx="74" cy="244" r="6"/><circle cx="76" cy="236" r="6"/><circle cx="68" cy="222" r="6"/><circle cx="64" cy="224" r="6"/><circle cx="58" cy="208" r="6"/><circle cx="60" cy="208" r="6"/><circle cx="56" cy="193" r="6"/><circle cx="59" cy="184" r="6"/><circle cx="50" cy="173" r="6"/><circle cx="54" cy="175" r="6"/><circle cx="48" cy="160" r="6"/><circle cx="42" cy="153" r="6"/><circle cx="49" cy="141" r="6"/><circle cx="47" cy="130" r="6"/><circle cx="37" cy="126" r="6"/><circle cx="45" cy="119" r="6"/></g><polygon points="209,80 275,75 311,80 330,71 384,71 411,89 439,107 475,116 520,125 502,136 457,145 430,173 411,191 384,209 357,227 330,245 302,264 275,273 264,255 236,236 209,209 191,182 182,155 200,118" fill="#31688e" stroke="#31688e" stroke-width="6" stroke-linejoin="round" filter="url(#rough)"/><g fill="#31688e" filter="url(#rough)"><circle cx="211" cy="81" r="6"/><circle cx="226" cy="72" r="6"/><circle cx="242" cy="81" r="6"/><circle cx="240" cy="71" r="6"/><circle cx="249" cy="79" r="6"/><circle cx="250" cy="70" r="6"/><circle cx="277" cy="77" r="6"/><circle cx="288" cy="80" r="6"/><circle cx="295" cy="71" r="6"/><circle cx="299" cy="78" r="6"/><circle cx="311" cy="84" r="6"/><circle cx="310" cy="72" r="6"/><circle cx="329" cy="79" r="6"/><circle cx="325" cy="75" r="6"/><circle cx="340" cy="71" r="6"/><circle cx="356" cy="64" r="6"/><circle cx="363" cy="76" r="6"/><circle cx="378" cy="64" r="6"/><circle cx="389" cy="74" r="6"/><circle cx="386" cy="79" r="6"/><circle cx="397" cy="86" r="6"/><circle cx="411" cy="81" r="6"/><circle cx="414" cy="89" r="6"/><circle cx="426" cy="99" r="6"/><circle cx="437" cy="106" r="6"/><circle cx="446" cy="101" r="6"/><circle cx="452" cy="106" r="6"/><circle cx="466" cy="117" r="6"/><circle cx="465" cy="118" r="6"/><circle cx="478" cy="117" r="6"/><circle cx="480" cy="118" r="6"/><circle cx="500" cy="120" r="6"/><circle cx="514" cy="123" r="6"/><circle cx="516" cy="129" r="6"/><circle cx="515" cy="135" r="6"/><circle cx="509" cy="137" r="6"/><circle cx="501" cy="137" r="6"/><circle cx="496" cy="136" r="6"/><circle cx="479" cy="137" r="6"/><circle cx="470" cy="144" r="6"/><circle cx="456" cy="138" r="6"/><circle cx="447" cy="154" r="6"/><circle cx="450" cy="162" r="6"/><circle cx="437" cy="162" r="6"/><circle cx="427" cy="166" r="6"/><circle cx="432" cy="169" r="6"/><circle cx="415" cy="189" r="6"/><circle cx="410" cy="194" r="6"/><circle cx="392" cy="203" r="6"/><circle cx="395" cy="212" r="6"/><circle cx="379" cy="205" r="6"/><circle cx="371" cy="210" r="6"/><circle cx="371" cy="222" r="6"/><circle cx="350" cy="233" r="6"/><circle cx="341" cy="231" r="6"/><circle cx="329" cy="240" r="6"/><circle cx="330" cy="253" r="6"/><circle cx="311" cy="261" r="6"/><circle cx="303" cy="260" r="6"/><circle cx="293" cy="269" r="6"/><circle cx="293" cy="268" r="6"/><circle cx="276" cy="270" r="6"/><circle cx="272" cy="271" r="6"/><circle cx="270" cy="251" r="6"/><circle cx="265" cy="257" r="6"/><circle cx="244" cy="243" r="6"/><circle cx="234" cy="237" r="6"/><circle cx="238" cy="229" r="6"/><circle cx="226" cy="230" r="6"/><circle cx="212" cy="210" r="6"/><circle cx="205" cy="210" r="6"/><circle cx="204" cy="199" r="6"/><circle cx="197" cy="201" r="6"/><circle cx="188" cy="194" r="6"/><circle cx="182" cy="178" r="6"/><circle cx="194" cy="175" r="6"/><circle cx="180" cy="153" r="6"/><circle cx="188" cy="145" r="6"/><circle cx="187" cy="136" r="6"/><circle cx="191" cy="129" r="6"/><circle cx="194" cy="124" r="6"/><circle cx="204" cy="107" r="6"/><circle cx="208" cy="105" r="6"/><circle cx="207" cy="102" r="6"/><circle cx="209" cy="87" r="6"/></g><polygon points="393,180 400,195 384,218 366,245 339,264 311,273 284,282 275,275 300,262 330,243 357,225 380,205" fill="#440154" stroke="#440154" stroke-width="6" stroke-linejoin="round" filter="url(#rough)"/><g fill="#440154" filter="url(#rough)"><circle cx="395" cy="189" r="6"/><circle cx="398" cy="196" r="6"/><circle cx="392" cy="205" r="6"/><circle cx="392" cy="207" r="6"/><circle cx="382" cy="224" r="6"/><circle cx="372" cy="231" r="6"/><circle cx="364" cy="241" r="6"/><circle cx="362" cy="249" r="6"/><circle cx="348" cy="249" r="6"/><circle cx="339" cy="266" r="6"/><circle cx="337" cy="272" r="6"/><circle cx="322" cy="263" r="6"/><circle cx="314" cy="277" r="6"/><circle cx="307" cy="274" r="6"/><circle cx="293" cy="278" r="6"/><circle cx="286" cy="284" r="6"/><circle cx="280" cy="287" r="6"/><circle cx="289" cy="277" r="6"/><circle cx="286" cy="270" r="6"/><circle cx="296" cy="266" r="6"/><circle cx="304" cy="263" r="6"/><circle cx="313" cy="252" r="6"/><circle cx="326" cy="242" r="6"/><circle cx="331" cy="234" r="6"/><circle cx="344" cy="240" r="6"/><circle cx="346" cy="223" r="6"/><circle cx="358" cy="218" r="6"/><circle cx="369" cy="221" r="6"/><circle cx="380" cy="217" r="6"/><circle cx="379" cy="200" r="6"/><circle cx="386" cy="195" r="6"/><circle cx="392" cy="186" r="6"/></g><polygon points="120,165 115,140 135,110 160,85 185,55 195,26 205,40 207,75 192,100 178,130 162,160 140,172" fill="#fde725" stroke="#fde725" stroke-width="6" stroke-linejoin="round" filter="url(#rough)"/><g fill="#fde725" filter="url(#rough)"><circle cx="124" cy="154" r="6"/><circle cx="121" cy="152" r="6"/><circle cx="118" cy="140" r="6"/><circle cx="125" cy="127" r="6"/><circle cx="128" cy="118" r="6"/><circle cx="138" cy="109" r="6"/><circle cx="144" cy="110" r="6"/><circle cx="145" cy="95" r="6"/><circle cx="150" cy="92" r="6"/><circle cx="163" cy="79" r="6"/><circle cx="172" cy="68" r="6"/><circle cx="170" cy="72" r="6"/><circle cx="178" cy="61" r="6"/><circle cx="181" cy="60" r="6"/><circle cx="189" cy="43" r="6"/><circle cx="194" cy="29" r="6"/><circle cx="191" cy="28" r="6"/><circle cx="202" cy="44" r="6"/><circle cx="200" cy="52" r="6"/><circle cx="201" cy="71" r="6"/><circle cx="202" cy="75" r="6"/><circle cx="198" cy="90" r="6"/><circle cx="199" cy="88" r="6"/><circle cx="187" cy="97" r="6"/><circle cx="182" cy="116" r="6"/><circle cx="183" cy="125" r="6"/><circle cx="170" cy="136" r="6"/><circle cx="170" cy="149" r="6"/><circle cx="161" cy="156" r="6"/><circle cx="148" cy="170" r="6"/><circle cx="151" cy="165" r="6"/><circle cx="141" cy="169" r="6"/><circle cx="119" cy="165" r="6"/></g><polygon points="225,72 260,62 300,68 315,80 300,95 260,95 230,90" fill="#fde725" stroke="#fde725" stroke-width="6" stroke-linejoin="round" filter="url(#rough)"/><g fill="#fde725" filter="url(#rough)"><circle cx="230" cy="67" r="6"/><circle cx="242" cy="72" r="6"/><circle cx="256" cy="64" r="6"/><circle cx="253" cy="67" r="6"/><circle cx="267" cy="57" r="6"/><circle cx="275" cy="67" r="6"/><circle cx="279" cy="63" r="6"/><circle cx="297" cy="69" r="6"/><circle cx="313" cy="78" r="6"/><circle cx="316" cy="81" r="6"/><circle cx="308" cy="80" r="6"/><circle cx="308" cy="97" r="6"/><circle cx="289" cy="97" r="6"/><circle cx="286" cy="102" r="6"/><circle cx="283" cy="102" r="6"/><circle cx="265" cy="95" r="6"/><circle cx="258" cy="101" r="6"/><circle cx="252" cy="98" r="6"/><circle cx="238" cy="87" r="6"/><circle cx="230" cy="86" r="6"/><circle cx="223" cy="79" r="6"/></g><polygon points="108,122 133,106 158,86 178,62 181,64 161,90 136,110 110,126" fill="#440154" stroke="#440154" stroke-width="1" stroke-linejoin="round"/><circle cx="82" cy="318" r="5" fill="#440154"/><circle cx="109" cy="318" r="5" fill="#440154"/><circle cx="164" cy="64" r="5" fill="#440154"/><circle cx="36" cy="140" r="5" fill="#440154"/><circle cx="59" cy="77" r="5" fill="#35b779"/><circle cx="59" cy="314" r="5" fill="#35b779"/><circle cx="280" cy="310" r="5" fill="#35b779"/><circle cx="150" cy="345" r="5" fill="#35b779"/><circle cx="448" cy="200" r="5" fill="#31688e"/><circle cx="385" cy="75" r="5" fill="#31688e"/><circle cx="210" cy="45" r="5" fill="#31688e"/><circle cx="150" cy="215" r="5" fill="#fde725"/><circle cx="175" cy="200" r="5" fill="#fde725"/>
</g></g></g>
<rect x="438.5" y="306.6" width="107" height="69.7" fill="none" stroke="#a6a6a6" stroke-width="0.9"/>
<line x1="436.5" y1="362.7" x2="438.5" y2="362.7" stroke="#707070" stroke-width="0.7"/>
<text x="434.9" y="362.9" font-size="6.3" text-anchor="end" dominant-baseline="central">5</text>
<line x1="436.5" y1="339.4" x2="438.5" y2="339.4" stroke="#707070" stroke-width="0.7"/>
<text x="434.9" y="339.6" font-size="6.3" text-anchor="end" dominant-baseline="central">10</text>
<line x1="436.5" y1="316.1" x2="438.5" y2="316.1" stroke="#707070" stroke-width="0.7"/>
<text x="434.9" y="316.3" font-size="6.3" text-anchor="end" dominant-baseline="central">15</text>
<text x="421.6" y="342.55" font-size="7.1" text-anchor="middle" dominant-baseline="central" transform="rotate(-90 421.6 342.55)">Yield (t/ha)</text>
<line x1="463.1" y1="376.3" x2="463.1" y2="378.3" stroke="#707070" stroke-width="0.7"/>
<text x="463.1" y="382.8" font-size="6.4" text-anchor="middle" dominant-baseline="central">60</text>
<line x1="490.7" y1="376.3" x2="490.7" y2="378.3" stroke="#707070" stroke-width="0.7"/>
<text x="490.7" y="382.8" font-size="6.4" text-anchor="middle" dominant-baseline="central">70</text>
<line x1="518.4" y1="376.3" x2="518.4" y2="378.3" stroke="#707070" stroke-width="0.7"/>
<text x="518.4" y="382.8" font-size="6.4" text-anchor="middle" dominant-baseline="central">80</text>
<text x="494.8" y="389.9" font-size="7.313" text-anchor="middle" dominant-baseline="central">Mg (mg/100g)</text>
<text x="178.8" y="198.5" class="cap">(d)</text>
<text x="201.2" y="198.5" class="cap" textLength="170.4" lengthAdjust="spacingAndGlyphs">Clustering impact by FCM-nc-dec</text>
<text x="180.9" y="407" class="cap">(e)</text>
<text x="203.6" y="407" class="cap" textLength="203" lengthAdjust="spacingAndGlyphs">Clustering impact by hierarchical-nc-dec</text>
</svg></body></html>
